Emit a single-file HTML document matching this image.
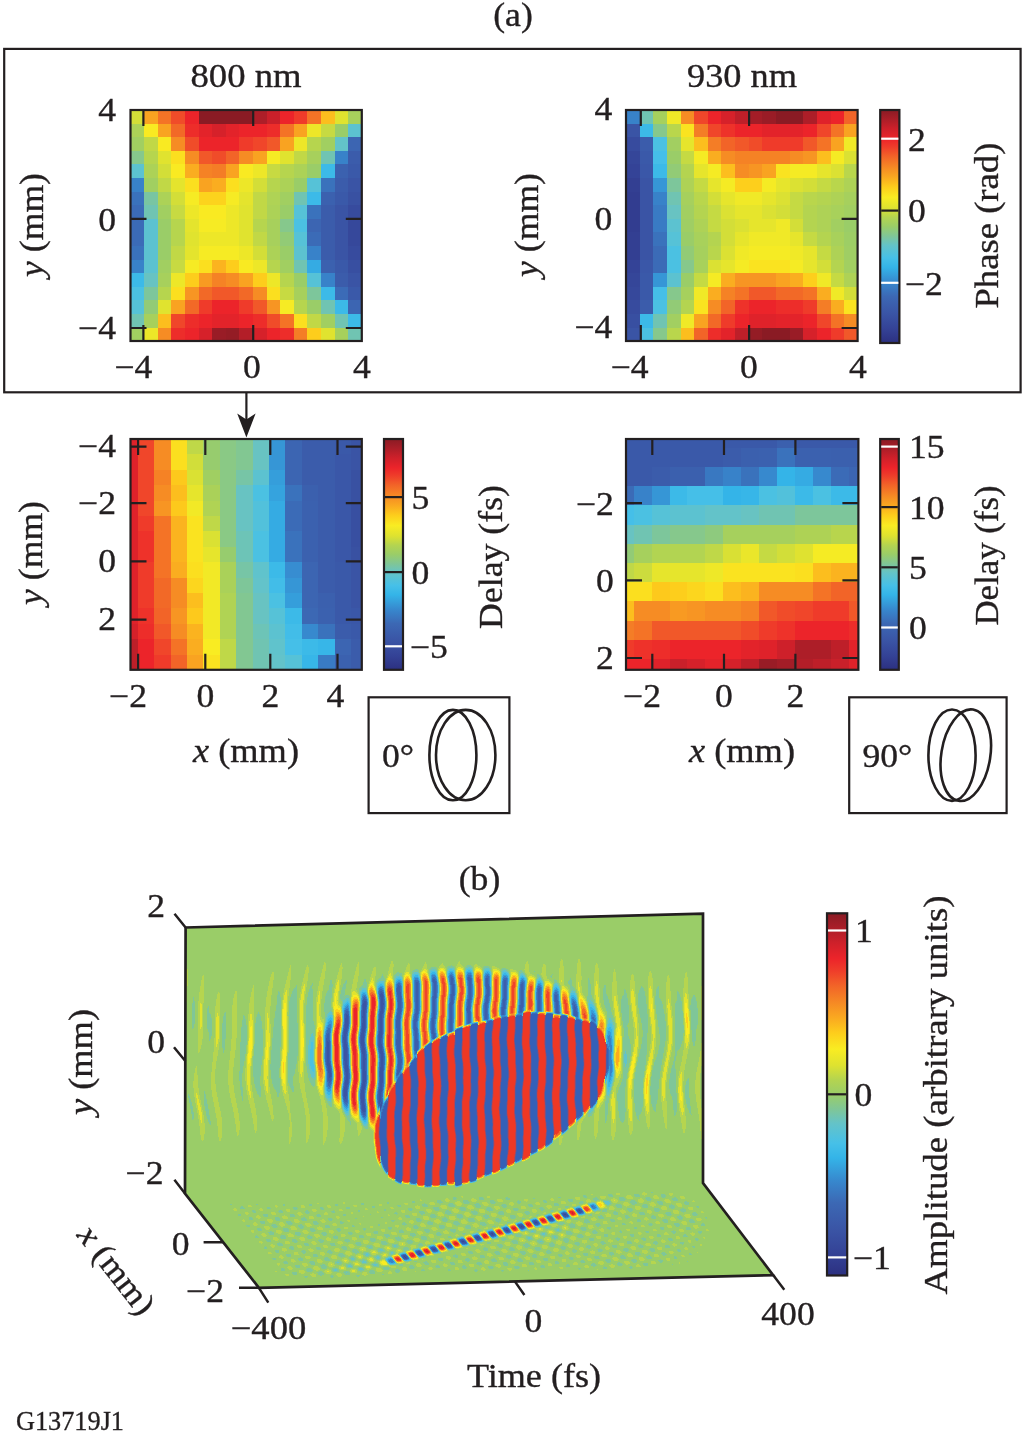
<!DOCTYPE html>
<html lang="en"><head><meta charset="utf-8"><title>Figure G13719J1</title>
<style>html,body{margin:0;padding:0;background:#fff}svg{display:block}text{font-family:"Liberation Serif",serif;fill:#231f20;stroke:#231f20;stroke-width:0.35px}.i{font-style:italic}</style></head><body>
<svg width="1025" height="1433" viewBox="0 0 1025 1433">
<rect width="1025" height="1433" fill="#fff"/>
<text transform="translate(513 25.5) scale(1.08 1)" font-size="33" text-anchor="middle">(a)</text>
<rect x="4.2" y="48.9" width="1016.4" height="343.40000000000003" fill="none" stroke="#231f20" stroke-width="2.2"/>
<clipPath id="c1"><rect x="130.5" y="110" width="231.3" height="231"/></clipPath>
<g clip-path="url(#c1)" shape-rendering="crispEdges">
<rect x="130.5" y="110.0" width="14.2" height="14.2" fill="#d3de38"/>
<rect x="144.1" y="110.0" width="14.2" height="14.2" fill="#f9a321"/>
<rect x="157.7" y="110.0" width="14.2" height="14.2" fill="#f47326"/>
<rect x="171.3" y="110.0" width="14.2" height="14.2" fill="#f04c29"/>
<rect x="184.9" y="110.0" width="14.2" height="14.2" fill="#ec242a"/>
<rect x="198.6" y="110.0" width="14.2" height="14.2" fill="#8a1b24"/>
<rect x="212.2" y="110.0" width="14.2" height="14.2" fill="#8a1b24"/>
<rect x="225.8" y="110.0" width="14.2" height="14.2" fill="#8a1b24"/>
<rect x="239.4" y="110.0" width="14.2" height="14.2" fill="#8a1b24"/>
<rect x="253.0" y="110.0" width="14.2" height="14.2" fill="#ad1e28"/>
<rect x="266.6" y="110.0" width="14.2" height="14.2" fill="#c9202a"/>
<rect x="280.2" y="110.0" width="14.2" height="14.2" fill="#ec242a"/>
<rect x="293.8" y="110.0" width="14.2" height="14.2" fill="#ef3b2a"/>
<rect x="307.4" y="110.0" width="14.2" height="14.2" fill="#f47326"/>
<rect x="321.0" y="110.0" width="14.2" height="14.2" fill="#fcbe1e"/>
<rect x="334.6" y="110.0" width="14.2" height="14.2" fill="#e0e32f"/>
<rect x="348.3" y="110.0" width="14.2" height="14.2" fill="#a7d05c"/>
<rect x="130.5" y="123.6" width="14.2" height="14.2" fill="#acd257"/>
<rect x="144.1" y="123.6" width="14.2" height="14.2" fill="#f9ea22"/>
<rect x="157.7" y="123.6" width="14.2" height="14.2" fill="#f9a321"/>
<rect x="171.3" y="123.6" width="14.2" height="14.2" fill="#f26927"/>
<rect x="184.9" y="123.6" width="14.2" height="14.2" fill="#ed2d2a"/>
<rect x="198.6" y="123.6" width="14.2" height="14.2" fill="#e3232a"/>
<rect x="212.2" y="123.6" width="14.2" height="14.2" fill="#d6212a"/>
<rect x="225.8" y="123.6" width="14.2" height="14.2" fill="#e3232a"/>
<rect x="239.4" y="123.6" width="14.2" height="14.2" fill="#ec242a"/>
<rect x="253.0" y="123.6" width="14.2" height="14.2" fill="#ec242a"/>
<rect x="266.6" y="123.6" width="14.2" height="14.2" fill="#ed2d2a"/>
<rect x="280.2" y="123.6" width="14.2" height="14.2" fill="#f47326"/>
<rect x="293.8" y="123.6" width="14.2" height="14.2" fill="#f9a321"/>
<rect x="307.4" y="123.6" width="14.2" height="14.2" fill="#ede728"/>
<rect x="321.0" y="123.6" width="14.2" height="14.2" fill="#c7da42"/>
<rect x="334.6" y="123.6" width="14.2" height="14.2" fill="#9acd68"/>
<rect x="348.3" y="123.6" width="14.2" height="14.2" fill="#5cc2d0"/>
<rect x="130.5" y="137.2" width="14.2" height="14.2" fill="#a1cf61"/>
<rect x="144.1" y="137.2" width="14.2" height="14.2" fill="#c1d846"/>
<rect x="157.7" y="137.2" width="14.2" height="14.2" fill="#f9ea22"/>
<rect x="171.3" y="137.2" width="14.2" height="14.2" fill="#f68c24"/>
<rect x="184.9" y="137.2" width="14.2" height="14.2" fill="#f04c29"/>
<rect x="198.6" y="137.2" width="14.2" height="14.2" fill="#ec242a"/>
<rect x="212.2" y="137.2" width="14.2" height="14.2" fill="#ec242a"/>
<rect x="225.8" y="137.2" width="14.2" height="14.2" fill="#ec242a"/>
<rect x="239.4" y="137.2" width="14.2" height="14.2" fill="#ef3b2a"/>
<rect x="253.0" y="137.2" width="14.2" height="14.2" fill="#f0462a"/>
<rect x="266.6" y="137.2" width="14.2" height="14.2" fill="#f15829"/>
<rect x="280.2" y="137.2" width="14.2" height="14.2" fill="#f9a321"/>
<rect x="293.8" y="137.2" width="14.2" height="14.2" fill="#ede728"/>
<rect x="307.4" y="137.2" width="14.2" height="14.2" fill="#b6d54e"/>
<rect x="321.0" y="137.2" width="14.2" height="14.2" fill="#a1cf61"/>
<rect x="334.6" y="137.2" width="14.2" height="14.2" fill="#63c3c9"/>
<rect x="348.3" y="137.2" width="14.2" height="14.2" fill="#3c65b2"/>
<rect x="130.5" y="150.8" width="14.2" height="14.2" fill="#86c88c"/>
<rect x="144.1" y="150.8" width="14.2" height="14.2" fill="#b6d54e"/>
<rect x="157.7" y="150.8" width="14.2" height="14.2" fill="#e0e32f"/>
<rect x="171.3" y="150.8" width="14.2" height="14.2" fill="#fbdf1f"/>
<rect x="184.9" y="150.8" width="14.2" height="14.2" fill="#f68c24"/>
<rect x="198.6" y="150.8" width="14.2" height="14.2" fill="#f15829"/>
<rect x="212.2" y="150.8" width="14.2" height="14.2" fill="#f04c29"/>
<rect x="225.8" y="150.8" width="14.2" height="14.2" fill="#f26428"/>
<rect x="239.4" y="150.8" width="14.2" height="14.2" fill="#f68c24"/>
<rect x="253.0" y="150.8" width="14.2" height="14.2" fill="#f9a321"/>
<rect x="266.6" y="150.8" width="14.2" height="14.2" fill="#f6eb24"/>
<rect x="280.2" y="150.8" width="14.2" height="14.2" fill="#e0e32f"/>
<rect x="293.8" y="150.8" width="14.2" height="14.2" fill="#c1d846"/>
<rect x="307.4" y="150.8" width="14.2" height="14.2" fill="#a7d05c"/>
<rect x="321.0" y="150.8" width="14.2" height="14.2" fill="#70c4b2"/>
<rect x="334.6" y="150.8" width="14.2" height="14.2" fill="#3882c9"/>
<rect x="348.3" y="150.8" width="14.2" height="14.2" fill="#3b5cab"/>
<rect x="130.5" y="164.4" width="14.2" height="14.2" fill="#5cc2d0"/>
<rect x="144.1" y="164.4" width="14.2" height="14.2" fill="#acd257"/>
<rect x="157.7" y="164.4" width="14.2" height="14.2" fill="#d3de38"/>
<rect x="171.3" y="164.4" width="14.2" height="14.2" fill="#f9ea22"/>
<rect x="184.9" y="164.4" width="14.2" height="14.2" fill="#faad20"/>
<rect x="198.6" y="164.4" width="14.2" height="14.2" fill="#f58225"/>
<rect x="212.2" y="164.4" width="14.2" height="14.2" fill="#f47d26"/>
<rect x="225.8" y="164.4" width="14.2" height="14.2" fill="#f9a321"/>
<rect x="239.4" y="164.4" width="14.2" height="14.2" fill="#f9ea22"/>
<rect x="253.0" y="164.4" width="14.2" height="14.2" fill="#ede728"/>
<rect x="266.6" y="164.4" width="14.2" height="14.2" fill="#c7da42"/>
<rect x="280.2" y="164.4" width="14.2" height="14.2" fill="#b6d54e"/>
<rect x="293.8" y="164.4" width="14.2" height="14.2" fill="#acd257"/>
<rect x="307.4" y="164.4" width="14.2" height="14.2" fill="#9acd68"/>
<rect x="321.0" y="164.4" width="14.2" height="14.2" fill="#3cbae8"/>
<rect x="334.6" y="164.4" width="14.2" height="14.2" fill="#3b61af"/>
<rect x="348.3" y="164.4" width="14.2" height="14.2" fill="#3a59a9"/>
<rect x="130.5" y="178.0" width="14.2" height="14.2" fill="#3882c9"/>
<rect x="144.1" y="178.0" width="14.2" height="14.2" fill="#a1cf61"/>
<rect x="157.7" y="178.0" width="14.2" height="14.2" fill="#c1d846"/>
<rect x="171.3" y="178.0" width="14.2" height="14.2" fill="#e4e42d"/>
<rect x="184.9" y="178.0" width="14.2" height="14.2" fill="#fbdf1f"/>
<rect x="198.6" y="178.0" width="14.2" height="14.2" fill="#f9a321"/>
<rect x="212.2" y="178.0" width="14.2" height="14.2" fill="#faad20"/>
<rect x="225.8" y="178.0" width="14.2" height="14.2" fill="#fbdf1f"/>
<rect x="239.4" y="178.0" width="14.2" height="14.2" fill="#ede728"/>
<rect x="253.0" y="178.0" width="14.2" height="14.2" fill="#d3de38"/>
<rect x="266.6" y="178.0" width="14.2" height="14.2" fill="#b6d54e"/>
<rect x="280.2" y="178.0" width="14.2" height="14.2" fill="#acd257"/>
<rect x="293.8" y="178.0" width="14.2" height="14.2" fill="#9acd68"/>
<rect x="307.4" y="178.0" width="14.2" height="14.2" fill="#56c2d7"/>
<rect x="321.0" y="178.0" width="14.2" height="14.2" fill="#3a72bc"/>
<rect x="334.6" y="178.0" width="14.2" height="14.2" fill="#3b5cab"/>
<rect x="348.3" y="178.0" width="14.2" height="14.2" fill="#3a54a5"/>
<rect x="130.5" y="191.6" width="14.2" height="14.2" fill="#3a72bc"/>
<rect x="144.1" y="191.6" width="14.2" height="14.2" fill="#79c5a2"/>
<rect x="157.7" y="191.6" width="14.2" height="14.2" fill="#acd257"/>
<rect x="171.3" y="191.6" width="14.2" height="14.2" fill="#d3de38"/>
<rect x="184.9" y="191.6" width="14.2" height="14.2" fill="#f6eb24"/>
<rect x="198.6" y="191.6" width="14.2" height="14.2" fill="#fcd31d"/>
<rect x="212.2" y="191.6" width="14.2" height="14.2" fill="#fcd31d"/>
<rect x="225.8" y="191.6" width="14.2" height="14.2" fill="#f6eb24"/>
<rect x="239.4" y="191.6" width="14.2" height="14.2" fill="#e4e42d"/>
<rect x="253.0" y="191.6" width="14.2" height="14.2" fill="#c1d846"/>
<rect x="266.6" y="191.6" width="14.2" height="14.2" fill="#afd355"/>
<rect x="280.2" y="191.6" width="14.2" height="14.2" fill="#a1cf61"/>
<rect x="293.8" y="191.6" width="14.2" height="14.2" fill="#70c4b2"/>
<rect x="307.4" y="191.6" width="14.2" height="14.2" fill="#3cbae8"/>
<rect x="321.0" y="191.6" width="14.2" height="14.2" fill="#3b61af"/>
<rect x="334.6" y="191.6" width="14.2" height="14.2" fill="#3a59a9"/>
<rect x="348.3" y="191.6" width="14.2" height="14.2" fill="#3951a2"/>
<rect x="130.5" y="205.2" width="14.2" height="14.2" fill="#3b6bb7"/>
<rect x="144.1" y="205.2" width="14.2" height="14.2" fill="#70c4b2"/>
<rect x="157.7" y="205.2" width="14.2" height="14.2" fill="#a1cf61"/>
<rect x="171.3" y="205.2" width="14.2" height="14.2" fill="#c7da42"/>
<rect x="184.9" y="205.2" width="14.2" height="14.2" fill="#ede728"/>
<rect x="198.6" y="205.2" width="14.2" height="14.2" fill="#f9ea22"/>
<rect x="212.2" y="205.2" width="14.2" height="14.2" fill="#f9ea22"/>
<rect x="225.8" y="205.2" width="14.2" height="14.2" fill="#ede728"/>
<rect x="239.4" y="205.2" width="14.2" height="14.2" fill="#e0e32f"/>
<rect x="253.0" y="205.2" width="14.2" height="14.2" fill="#c1d846"/>
<rect x="266.6" y="205.2" width="14.2" height="14.2" fill="#acd257"/>
<rect x="280.2" y="205.2" width="14.2" height="14.2" fill="#9acd68"/>
<rect x="293.8" y="205.2" width="14.2" height="14.2" fill="#56c2d7"/>
<rect x="307.4" y="205.2" width="14.2" height="14.2" fill="#3a72bc"/>
<rect x="321.0" y="205.2" width="14.2" height="14.2" fill="#3b5cab"/>
<rect x="334.6" y="205.2" width="14.2" height="14.2" fill="#3a54a5"/>
<rect x="348.3" y="205.2" width="14.2" height="14.2" fill="#374b9e"/>
<rect x="130.5" y="218.8" width="14.2" height="14.2" fill="#3b6bb7"/>
<rect x="144.1" y="218.8" width="14.2" height="14.2" fill="#5cc2d0"/>
<rect x="157.7" y="218.8" width="14.2" height="14.2" fill="#9acd68"/>
<rect x="171.3" y="218.8" width="14.2" height="14.2" fill="#b6d54e"/>
<rect x="184.9" y="218.8" width="14.2" height="14.2" fill="#e4e42d"/>
<rect x="198.6" y="218.8" width="14.2" height="14.2" fill="#f6eb24"/>
<rect x="212.2" y="218.8" width="14.2" height="14.2" fill="#f6eb24"/>
<rect x="225.8" y="218.8" width="14.2" height="14.2" fill="#ede728"/>
<rect x="239.4" y="218.8" width="14.2" height="14.2" fill="#e0e32f"/>
<rect x="253.0" y="218.8" width="14.2" height="14.2" fill="#b6d54e"/>
<rect x="266.6" y="218.8" width="14.2" height="14.2" fill="#a7d05c"/>
<rect x="280.2" y="218.8" width="14.2" height="14.2" fill="#86c88c"/>
<rect x="293.8" y="218.8" width="14.2" height="14.2" fill="#4bc1e2"/>
<rect x="307.4" y="218.8" width="14.2" height="14.2" fill="#3c65b2"/>
<rect x="321.0" y="218.8" width="14.2" height="14.2" fill="#3b5cab"/>
<rect x="334.6" y="218.8" width="14.2" height="14.2" fill="#3a54a5"/>
<rect x="348.3" y="218.8" width="14.2" height="14.2" fill="#36489b"/>
<rect x="130.5" y="232.4" width="14.2" height="14.2" fill="#3b6bb7"/>
<rect x="144.1" y="232.4" width="14.2" height="14.2" fill="#5cc2d0"/>
<rect x="157.7" y="232.4" width="14.2" height="14.2" fill="#9acd68"/>
<rect x="171.3" y="232.4" width="14.2" height="14.2" fill="#b6d54e"/>
<rect x="184.9" y="232.4" width="14.2" height="14.2" fill="#e0e32f"/>
<rect x="198.6" y="232.4" width="14.2" height="14.2" fill="#ede728"/>
<rect x="212.2" y="232.4" width="14.2" height="14.2" fill="#ede728"/>
<rect x="225.8" y="232.4" width="14.2" height="14.2" fill="#ede728"/>
<rect x="239.4" y="232.4" width="14.2" height="14.2" fill="#e0e32f"/>
<rect x="253.0" y="232.4" width="14.2" height="14.2" fill="#c1d846"/>
<rect x="266.6" y="232.4" width="14.2" height="14.2" fill="#a7d05c"/>
<rect x="280.2" y="232.4" width="14.2" height="14.2" fill="#92cb76"/>
<rect x="293.8" y="232.4" width="14.2" height="14.2" fill="#56c2d7"/>
<rect x="307.4" y="232.4" width="14.2" height="14.2" fill="#3b6bb7"/>
<rect x="321.0" y="232.4" width="14.2" height="14.2" fill="#3b5cab"/>
<rect x="334.6" y="232.4" width="14.2" height="14.2" fill="#3a54a5"/>
<rect x="348.3" y="232.4" width="14.2" height="14.2" fill="#36489b"/>
<rect x="130.5" y="246.0" width="14.2" height="14.2" fill="#3a72bc"/>
<rect x="144.1" y="246.0" width="14.2" height="14.2" fill="#5cc2d0"/>
<rect x="157.7" y="246.0" width="14.2" height="14.2" fill="#9acd68"/>
<rect x="171.3" y="246.0" width="14.2" height="14.2" fill="#c1d846"/>
<rect x="184.9" y="246.0" width="14.2" height="14.2" fill="#e4e42d"/>
<rect x="198.6" y="246.0" width="14.2" height="14.2" fill="#f6eb24"/>
<rect x="212.2" y="246.0" width="14.2" height="14.2" fill="#f6eb24"/>
<rect x="225.8" y="246.0" width="14.2" height="14.2" fill="#f6eb24"/>
<rect x="239.4" y="246.0" width="14.2" height="14.2" fill="#ede728"/>
<rect x="253.0" y="246.0" width="14.2" height="14.2" fill="#d3de38"/>
<rect x="266.6" y="246.0" width="14.2" height="14.2" fill="#acd257"/>
<rect x="280.2" y="246.0" width="14.2" height="14.2" fill="#9acd68"/>
<rect x="293.8" y="246.0" width="14.2" height="14.2" fill="#5cc2d0"/>
<rect x="307.4" y="246.0" width="14.2" height="14.2" fill="#3882c9"/>
<rect x="321.0" y="246.0" width="14.2" height="14.2" fill="#3b5cab"/>
<rect x="334.6" y="246.0" width="14.2" height="14.2" fill="#3a54a5"/>
<rect x="348.3" y="246.0" width="14.2" height="14.2" fill="#374b9e"/>
<rect x="130.5" y="259.6" width="14.2" height="14.2" fill="#3882c9"/>
<rect x="144.1" y="259.6" width="14.2" height="14.2" fill="#5cc2d0"/>
<rect x="157.7" y="259.6" width="14.2" height="14.2" fill="#a1cf61"/>
<rect x="171.3" y="259.6" width="14.2" height="14.2" fill="#c7da42"/>
<rect x="184.9" y="259.6" width="14.2" height="14.2" fill="#f6eb24"/>
<rect x="198.6" y="259.6" width="14.2" height="14.2" fill="#fbdf1f"/>
<rect x="212.2" y="259.6" width="14.2" height="14.2" fill="#fbb31f"/>
<rect x="225.8" y="259.6" width="14.2" height="14.2" fill="#fdcd1c"/>
<rect x="239.4" y="259.6" width="14.2" height="14.2" fill="#f9ea22"/>
<rect x="253.0" y="259.6" width="14.2" height="14.2" fill="#ede728"/>
<rect x="266.6" y="259.6" width="14.2" height="14.2" fill="#b6d54e"/>
<rect x="280.2" y="259.6" width="14.2" height="14.2" fill="#a1cf61"/>
<rect x="293.8" y="259.6" width="14.2" height="14.2" fill="#70c4b2"/>
<rect x="307.4" y="259.6" width="14.2" height="14.2" fill="#35abe3"/>
<rect x="321.0" y="259.6" width="14.2" height="14.2" fill="#3b61af"/>
<rect x="334.6" y="259.6" width="14.2" height="14.2" fill="#3a59a9"/>
<rect x="348.3" y="259.6" width="14.2" height="14.2" fill="#384fa1"/>
<rect x="130.5" y="273.2" width="14.2" height="14.2" fill="#3cbae8"/>
<rect x="144.1" y="273.2" width="14.2" height="14.2" fill="#68c3c2"/>
<rect x="157.7" y="273.2" width="14.2" height="14.2" fill="#a7d05c"/>
<rect x="171.3" y="273.2" width="14.2" height="14.2" fill="#ede728"/>
<rect x="184.9" y="273.2" width="14.2" height="14.2" fill="#fdcd1c"/>
<rect x="198.6" y="273.2" width="14.2" height="14.2" fill="#f89a22"/>
<rect x="212.2" y="273.2" width="14.2" height="14.2" fill="#f58225"/>
<rect x="225.8" y="273.2" width="14.2" height="14.2" fill="#f68c24"/>
<rect x="239.4" y="273.2" width="14.2" height="14.2" fill="#f9a321"/>
<rect x="253.0" y="273.2" width="14.2" height="14.2" fill="#fdcd1c"/>
<rect x="266.6" y="273.2" width="14.2" height="14.2" fill="#ede728"/>
<rect x="280.2" y="273.2" width="14.2" height="14.2" fill="#b6d54e"/>
<rect x="293.8" y="273.2" width="14.2" height="14.2" fill="#9acd68"/>
<rect x="307.4" y="273.2" width="14.2" height="14.2" fill="#56c2d7"/>
<rect x="321.0" y="273.2" width="14.2" height="14.2" fill="#3882c9"/>
<rect x="334.6" y="273.2" width="14.2" height="14.2" fill="#3b5cab"/>
<rect x="348.3" y="273.2" width="14.2" height="14.2" fill="#3a54a5"/>
<rect x="130.5" y="286.8" width="14.2" height="14.2" fill="#4bc1e2"/>
<rect x="144.1" y="286.8" width="14.2" height="14.2" fill="#7dc69b"/>
<rect x="157.7" y="286.8" width="14.2" height="14.2" fill="#b6d54e"/>
<rect x="171.3" y="286.8" width="14.2" height="14.2" fill="#fbdf1f"/>
<rect x="184.9" y="286.8" width="14.2" height="14.2" fill="#f79523"/>
<rect x="198.6" y="286.8" width="14.2" height="14.2" fill="#f26927"/>
<rect x="212.2" y="286.8" width="14.2" height="14.2" fill="#f15829"/>
<rect x="225.8" y="286.8" width="14.2" height="14.2" fill="#f15829"/>
<rect x="239.4" y="286.8" width="14.2" height="14.2" fill="#f26927"/>
<rect x="253.0" y="286.8" width="14.2" height="14.2" fill="#f68c24"/>
<rect x="266.6" y="286.8" width="14.2" height="14.2" fill="#fbdf1f"/>
<rect x="280.2" y="286.8" width="14.2" height="14.2" fill="#c7da42"/>
<rect x="293.8" y="286.8" width="14.2" height="14.2" fill="#a7d05c"/>
<rect x="307.4" y="286.8" width="14.2" height="14.2" fill="#7dc69b"/>
<rect x="321.0" y="286.8" width="14.2" height="14.2" fill="#3cbae8"/>
<rect x="334.6" y="286.8" width="14.2" height="14.2" fill="#3b6bb7"/>
<rect x="348.3" y="286.8" width="14.2" height="14.2" fill="#3a59a9"/>
<rect x="130.5" y="300.4" width="14.2" height="14.2" fill="#56c2d7"/>
<rect x="144.1" y="300.4" width="14.2" height="14.2" fill="#92cb76"/>
<rect x="157.7" y="300.4" width="14.2" height="14.2" fill="#e0e32f"/>
<rect x="171.3" y="300.4" width="14.2" height="14.2" fill="#f9a321"/>
<rect x="184.9" y="300.4" width="14.2" height="14.2" fill="#f26927"/>
<rect x="198.6" y="300.4" width="14.2" height="14.2" fill="#ef3b2a"/>
<rect x="212.2" y="300.4" width="14.2" height="14.2" fill="#ec242a"/>
<rect x="225.8" y="300.4" width="14.2" height="14.2" fill="#ec242a"/>
<rect x="239.4" y="300.4" width="14.2" height="14.2" fill="#ef3b2a"/>
<rect x="253.0" y="300.4" width="14.2" height="14.2" fill="#f15829"/>
<rect x="266.6" y="300.4" width="14.2" height="14.2" fill="#f79523"/>
<rect x="280.2" y="300.4" width="14.2" height="14.2" fill="#f6eb24"/>
<rect x="293.8" y="300.4" width="14.2" height="14.2" fill="#b6d54e"/>
<rect x="307.4" y="300.4" width="14.2" height="14.2" fill="#9acd68"/>
<rect x="321.0" y="300.4" width="14.2" height="14.2" fill="#70c4b2"/>
<rect x="334.6" y="300.4" width="14.2" height="14.2" fill="#3cbae8"/>
<rect x="348.3" y="300.4" width="14.2" height="14.2" fill="#3c65b2"/>
<rect x="130.5" y="314.0" width="14.2" height="14.2" fill="#70c4b2"/>
<rect x="144.1" y="314.0" width="14.2" height="14.2" fill="#a7d05c"/>
<rect x="157.7" y="314.0" width="14.2" height="14.2" fill="#fcbe1e"/>
<rect x="171.3" y="314.0" width="14.2" height="14.2" fill="#f0462a"/>
<rect x="184.9" y="314.0" width="14.2" height="14.2" fill="#ed2d2a"/>
<rect x="198.6" y="314.0" width="14.2" height="14.2" fill="#ec242a"/>
<rect x="212.2" y="314.0" width="14.2" height="14.2" fill="#e3232a"/>
<rect x="225.8" y="314.0" width="14.2" height="14.2" fill="#e3232a"/>
<rect x="239.4" y="314.0" width="14.2" height="14.2" fill="#ec242a"/>
<rect x="253.0" y="314.0" width="14.2" height="14.2" fill="#ed2d2a"/>
<rect x="266.6" y="314.0" width="14.2" height="14.2" fill="#f04c29"/>
<rect x="280.2" y="314.0" width="14.2" height="14.2" fill="#f47326"/>
<rect x="293.8" y="314.0" width="14.2" height="14.2" fill="#fbdf1f"/>
<rect x="307.4" y="314.0" width="14.2" height="14.2" fill="#c1d846"/>
<rect x="321.0" y="314.0" width="14.2" height="14.2" fill="#a1cf61"/>
<rect x="334.6" y="314.0" width="14.2" height="14.2" fill="#70c4b2"/>
<rect x="348.3" y="314.0" width="14.2" height="14.2" fill="#3cbae8"/>
<rect x="130.5" y="327.6" width="14.2" height="14.2" fill="#a1cf61"/>
<rect x="144.1" y="327.6" width="14.2" height="14.2" fill="#ede728"/>
<rect x="157.7" y="327.6" width="14.2" height="14.2" fill="#f68c24"/>
<rect x="171.3" y="327.6" width="14.2" height="14.2" fill="#ed2d2a"/>
<rect x="184.9" y="327.6" width="14.2" height="14.2" fill="#ec242a"/>
<rect x="198.6" y="327.6" width="14.2" height="14.2" fill="#d6212a"/>
<rect x="212.2" y="327.6" width="14.2" height="14.2" fill="#991c26"/>
<rect x="225.8" y="327.6" width="14.2" height="14.2" fill="#941c25"/>
<rect x="239.4" y="327.6" width="14.2" height="14.2" fill="#b31e28"/>
<rect x="253.0" y="327.6" width="14.2" height="14.2" fill="#d6212a"/>
<rect x="266.6" y="327.6" width="14.2" height="14.2" fill="#ec242a"/>
<rect x="280.2" y="327.6" width="14.2" height="14.2" fill="#ed2d2a"/>
<rect x="293.8" y="327.6" width="14.2" height="14.2" fill="#f47d26"/>
<rect x="307.4" y="327.6" width="14.2" height="14.2" fill="#fdcd1c"/>
<rect x="321.0" y="327.6" width="14.2" height="14.2" fill="#e0e32f"/>
<rect x="334.6" y="327.6" width="14.2" height="14.2" fill="#a7d05c"/>
<rect x="348.3" y="327.6" width="14.2" height="14.2" fill="#70c4b2"/>
</g>
<rect x="130.5" y="110" width="231.3" height="231" fill="none" stroke="#231f20" stroke-width="2.2"/>
<path d="M143.4 341v-16M143.4 110v16M253.2 341v-16M253.2 110v16M130.5 218.8h16M361.8 218.8h-16M130.5 328h16M361.8 328h-16" stroke="#231f20" stroke-width="2.2" fill="none"/>
<text transform="translate(246 87)" font-size="33" text-anchor="middle" textLength="111" lengthAdjust="spacingAndGlyphs">800 nm</text>
<text transform="translate(116 121.3) scale(1.08 1)" font-size="33" text-anchor="end">4</text>
<text transform="translate(116 230.8) scale(1.08 1)" font-size="33" text-anchor="end">0</text>
<text transform="translate(116 338.8) scale(1.08 1)" font-size="33" text-anchor="end">−4</text>
<text transform="translate(43 225) rotate(-90)" font-size="33" text-anchor="middle" textLength="104" lengthAdjust="spacingAndGlyphs"><tspan class="i">y</tspan> (mm)</text>
<text transform="translate(152.3 378.3) scale(1.08 1)" font-size="33" text-anchor="end">−4</text>
<text transform="translate(252 378.3) scale(1.08 1)" font-size="33" text-anchor="middle">0</text>
<text transform="translate(362 378.3) scale(1.08 1)" font-size="33" text-anchor="middle">4</text>
<clipPath id="c2"><rect x="626" y="110" width="231.60000000000002" height="231"/></clipPath>
<g clip-path="url(#c2)" shape-rendering="crispEdges">
<rect x="626.0" y="110.0" width="14.2" height="14.2" fill="#3882c9"/>
<rect x="639.6" y="110.0" width="14.2" height="14.2" fill="#70c4b2"/>
<rect x="653.3" y="110.0" width="14.2" height="14.2" fill="#a6d05d"/>
<rect x="666.9" y="110.0" width="14.2" height="14.2" fill="#f0e927"/>
<rect x="680.5" y="110.0" width="14.2" height="14.2" fill="#f68c24"/>
<rect x="694.1" y="110.0" width="14.2" height="14.2" fill="#f0462a"/>
<rect x="707.8" y="110.0" width="14.2" height="14.2" fill="#ec242a"/>
<rect x="721.4" y="110.0" width="14.2" height="14.2" fill="#d6212a"/>
<rect x="735.0" y="110.0" width="14.2" height="14.2" fill="#be1f29"/>
<rect x="748.7" y="110.0" width="14.2" height="14.2" fill="#a31d27"/>
<rect x="762.3" y="110.0" width="14.2" height="14.2" fill="#991c26"/>
<rect x="775.9" y="110.0" width="14.2" height="14.2" fill="#8a1b24"/>
<rect x="789.6" y="110.0" width="14.2" height="14.2" fill="#8a1b24"/>
<rect x="803.2" y="110.0" width="14.2" height="14.2" fill="#ad1e28"/>
<rect x="816.8" y="110.0" width="14.2" height="14.2" fill="#df222a"/>
<rect x="830.5" y="110.0" width="14.2" height="14.2" fill="#ec242a"/>
<rect x="844.1" y="110.0" width="14.2" height="14.2" fill="#f26428"/>
<rect x="626.0" y="123.6" width="14.2" height="14.2" fill="#3a54a5"/>
<rect x="639.6" y="123.6" width="14.2" height="14.2" fill="#3cbae8"/>
<rect x="653.3" y="123.6" width="14.2" height="14.2" fill="#86c88c"/>
<rect x="666.9" y="123.6" width="14.2" height="14.2" fill="#b9d64c"/>
<rect x="680.5" y="123.6" width="14.2" height="14.2" fill="#fae320"/>
<rect x="694.1" y="123.6" width="14.2" height="14.2" fill="#f47d26"/>
<rect x="707.8" y="123.6" width="14.2" height="14.2" fill="#f0462a"/>
<rect x="721.4" y="123.6" width="14.2" height="14.2" fill="#ee322a"/>
<rect x="735.0" y="123.6" width="14.2" height="14.2" fill="#ec242a"/>
<rect x="748.7" y="123.6" width="14.2" height="14.2" fill="#ec242a"/>
<rect x="762.3" y="123.6" width="14.2" height="14.2" fill="#e3232a"/>
<rect x="775.9" y="123.6" width="14.2" height="14.2" fill="#e3232a"/>
<rect x="789.6" y="123.6" width="14.2" height="14.2" fill="#e3232a"/>
<rect x="803.2" y="123.6" width="14.2" height="14.2" fill="#ec242a"/>
<rect x="816.8" y="123.6" width="14.2" height="14.2" fill="#f0462a"/>
<rect x="830.5" y="123.6" width="14.2" height="14.2" fill="#f47326"/>
<rect x="844.1" y="123.6" width="14.2" height="14.2" fill="#f9a321"/>
<rect x="626.0" y="137.2" width="14.2" height="14.2" fill="#374b9e"/>
<rect x="639.6" y="137.2" width="14.2" height="14.2" fill="#3b5cab"/>
<rect x="653.3" y="137.2" width="14.2" height="14.2" fill="#4bc1e2"/>
<rect x="666.9" y="137.2" width="14.2" height="14.2" fill="#a2cf61"/>
<rect x="680.5" y="137.2" width="14.2" height="14.2" fill="#e6e52c"/>
<rect x="694.1" y="137.2" width="14.2" height="14.2" fill="#fcbe1e"/>
<rect x="707.8" y="137.2" width="14.2" height="14.2" fill="#f47d26"/>
<rect x="721.4" y="137.2" width="14.2" height="14.2" fill="#f26428"/>
<rect x="735.0" y="137.2" width="14.2" height="14.2" fill="#f15829"/>
<rect x="748.7" y="137.2" width="14.2" height="14.2" fill="#f04c29"/>
<rect x="762.3" y="137.2" width="14.2" height="14.2" fill="#ef3b2a"/>
<rect x="775.9" y="137.2" width="14.2" height="14.2" fill="#ef3b2a"/>
<rect x="789.6" y="137.2" width="14.2" height="14.2" fill="#ef3b2a"/>
<rect x="803.2" y="137.2" width="14.2" height="14.2" fill="#f15829"/>
<rect x="816.8" y="137.2" width="14.2" height="14.2" fill="#f47326"/>
<rect x="830.5" y="137.2" width="14.2" height="14.2" fill="#f9a321"/>
<rect x="844.1" y="137.2" width="14.2" height="14.2" fill="#f0e927"/>
<rect x="626.0" y="150.8" width="14.2" height="14.2" fill="#354699"/>
<rect x="639.6" y="150.8" width="14.2" height="14.2" fill="#3a59a9"/>
<rect x="653.3" y="150.8" width="14.2" height="14.2" fill="#45bfe8"/>
<rect x="666.9" y="150.8" width="14.2" height="14.2" fill="#9acd68"/>
<rect x="680.5" y="150.8" width="14.2" height="14.2" fill="#c5da43"/>
<rect x="694.1" y="150.8" width="14.2" height="14.2" fill="#f5eb24"/>
<rect x="707.8" y="150.8" width="14.2" height="14.2" fill="#faad20"/>
<rect x="721.4" y="150.8" width="14.2" height="14.2" fill="#f68c24"/>
<rect x="735.0" y="150.8" width="14.2" height="14.2" fill="#f58225"/>
<rect x="748.7" y="150.8" width="14.2" height="14.2" fill="#f58225"/>
<rect x="762.3" y="150.8" width="14.2" height="14.2" fill="#f58225"/>
<rect x="775.9" y="150.8" width="14.2" height="14.2" fill="#f58225"/>
<rect x="789.6" y="150.8" width="14.2" height="14.2" fill="#f68c24"/>
<rect x="803.2" y="150.8" width="14.2" height="14.2" fill="#f79523"/>
<rect x="816.8" y="150.8" width="14.2" height="14.2" fill="#fcbe1e"/>
<rect x="830.5" y="150.8" width="14.2" height="14.2" fill="#f5eb24"/>
<rect x="844.1" y="150.8" width="14.2" height="14.2" fill="#dbe133"/>
<rect x="626.0" y="164.4" width="14.2" height="14.2" fill="#344397"/>
<rect x="639.6" y="164.4" width="14.2" height="14.2" fill="#3a57a8"/>
<rect x="653.3" y="164.4" width="14.2" height="14.2" fill="#3cbae8"/>
<rect x="666.9" y="164.4" width="14.2" height="14.2" fill="#92cb76"/>
<rect x="680.5" y="164.4" width="14.2" height="14.2" fill="#b4d450"/>
<rect x="694.1" y="164.4" width="14.2" height="14.2" fill="#e6e52c"/>
<rect x="707.8" y="164.4" width="14.2" height="14.2" fill="#f5eb24"/>
<rect x="721.4" y="164.4" width="14.2" height="14.2" fill="#fcbe1e"/>
<rect x="735.0" y="164.4" width="14.2" height="14.2" fill="#f68c24"/>
<rect x="748.7" y="164.4" width="14.2" height="14.2" fill="#f79523"/>
<rect x="762.3" y="164.4" width="14.2" height="14.2" fill="#f9a321"/>
<rect x="775.9" y="164.4" width="14.2" height="14.2" fill="#fae320"/>
<rect x="789.6" y="164.4" width="14.2" height="14.2" fill="#f5eb24"/>
<rect x="803.2" y="164.4" width="14.2" height="14.2" fill="#f5eb24"/>
<rect x="816.8" y="164.4" width="14.2" height="14.2" fill="#e6e52c"/>
<rect x="830.5" y="164.4" width="14.2" height="14.2" fill="#dbe133"/>
<rect x="844.1" y="164.4" width="14.2" height="14.2" fill="#b9d64c"/>
<rect x="626.0" y="178.0" width="14.2" height="14.2" fill="#333f92"/>
<rect x="639.6" y="178.0" width="14.2" height="14.2" fill="#3a54a5"/>
<rect x="653.3" y="178.0" width="14.2" height="14.2" fill="#3696d6"/>
<rect x="666.9" y="178.0" width="14.2" height="14.2" fill="#7dc69b"/>
<rect x="680.5" y="178.0" width="14.2" height="14.2" fill="#aed256"/>
<rect x="694.1" y="178.0" width="14.2" height="14.2" fill="#c5da43"/>
<rect x="707.8" y="178.0" width="14.2" height="14.2" fill="#e6e52c"/>
<rect x="721.4" y="178.0" width="14.2" height="14.2" fill="#f5eb24"/>
<rect x="735.0" y="178.0" width="14.2" height="14.2" fill="#fdcf1c"/>
<rect x="748.7" y="178.0" width="14.2" height="14.2" fill="#fdcf1c"/>
<rect x="762.3" y="178.0" width="14.2" height="14.2" fill="#f5eb24"/>
<rect x="775.9" y="178.0" width="14.2" height="14.2" fill="#e6e52c"/>
<rect x="789.6" y="178.0" width="14.2" height="14.2" fill="#dbe133"/>
<rect x="803.2" y="178.0" width="14.2" height="14.2" fill="#d3de38"/>
<rect x="816.8" y="178.0" width="14.2" height="14.2" fill="#c5da43"/>
<rect x="830.5" y="178.0" width="14.2" height="14.2" fill="#b9d64c"/>
<rect x="844.1" y="178.0" width="14.2" height="14.2" fill="#aed256"/>
<rect x="626.0" y="191.6" width="14.2" height="14.2" fill="#323d90"/>
<rect x="639.6" y="191.6" width="14.2" height="14.2" fill="#3a54a5"/>
<rect x="653.3" y="191.6" width="14.2" height="14.2" fill="#3882c9"/>
<rect x="666.9" y="191.6" width="14.2" height="14.2" fill="#70c4b2"/>
<rect x="680.5" y="191.6" width="14.2" height="14.2" fill="#a6d05d"/>
<rect x="694.1" y="191.6" width="14.2" height="14.2" fill="#b9d64c"/>
<rect x="707.8" y="191.6" width="14.2" height="14.2" fill="#d3de38"/>
<rect x="721.4" y="191.6" width="14.2" height="14.2" fill="#e6e52c"/>
<rect x="735.0" y="191.6" width="14.2" height="14.2" fill="#f0e927"/>
<rect x="748.7" y="191.6" width="14.2" height="14.2" fill="#f0e927"/>
<rect x="762.3" y="191.6" width="14.2" height="14.2" fill="#e6e52c"/>
<rect x="775.9" y="191.6" width="14.2" height="14.2" fill="#dbe133"/>
<rect x="789.6" y="191.6" width="14.2" height="14.2" fill="#c5da43"/>
<rect x="803.2" y="191.6" width="14.2" height="14.2" fill="#b9d64c"/>
<rect x="816.8" y="191.6" width="14.2" height="14.2" fill="#b4d450"/>
<rect x="830.5" y="191.6" width="14.2" height="14.2" fill="#aed256"/>
<rect x="844.1" y="191.6" width="14.2" height="14.2" fill="#a6d05d"/>
<rect x="626.0" y="205.2" width="14.2" height="14.2" fill="#323d90"/>
<rect x="639.6" y="205.2" width="14.2" height="14.2" fill="#3a54a5"/>
<rect x="653.3" y="205.2" width="14.2" height="14.2" fill="#397bc4"/>
<rect x="666.9" y="205.2" width="14.2" height="14.2" fill="#68c3c2"/>
<rect x="680.5" y="205.2" width="14.2" height="14.2" fill="#a2cf61"/>
<rect x="694.1" y="205.2" width="14.2" height="14.2" fill="#b4d450"/>
<rect x="707.8" y="205.2" width="14.2" height="14.2" fill="#c5da43"/>
<rect x="721.4" y="205.2" width="14.2" height="14.2" fill="#dbe133"/>
<rect x="735.0" y="205.2" width="14.2" height="14.2" fill="#e6e52c"/>
<rect x="748.7" y="205.2" width="14.2" height="14.2" fill="#e6e52c"/>
<rect x="762.3" y="205.2" width="14.2" height="14.2" fill="#dbe133"/>
<rect x="775.9" y="205.2" width="14.2" height="14.2" fill="#d3de38"/>
<rect x="789.6" y="205.2" width="14.2" height="14.2" fill="#c5da43"/>
<rect x="803.2" y="205.2" width="14.2" height="14.2" fill="#b4d450"/>
<rect x="816.8" y="205.2" width="14.2" height="14.2" fill="#aed256"/>
<rect x="830.5" y="205.2" width="14.2" height="14.2" fill="#a8d15b"/>
<rect x="844.1" y="205.2" width="14.2" height="14.2" fill="#a2cf61"/>
<rect x="626.0" y="218.8" width="14.2" height="14.2" fill="#323d90"/>
<rect x="639.6" y="218.8" width="14.2" height="14.2" fill="#3a54a5"/>
<rect x="653.3" y="218.8" width="14.2" height="14.2" fill="#397bc4"/>
<rect x="666.9" y="218.8" width="14.2" height="14.2" fill="#5cc2d0"/>
<rect x="680.5" y="218.8" width="14.2" height="14.2" fill="#9fce64"/>
<rect x="694.1" y="218.8" width="14.2" height="14.2" fill="#aed256"/>
<rect x="707.8" y="218.8" width="14.2" height="14.2" fill="#c5da43"/>
<rect x="721.4" y="218.8" width="14.2" height="14.2" fill="#d3de38"/>
<rect x="735.0" y="218.8" width="14.2" height="14.2" fill="#dbe133"/>
<rect x="748.7" y="218.8" width="14.2" height="14.2" fill="#e6e52c"/>
<rect x="762.3" y="218.8" width="14.2" height="14.2" fill="#e6e52c"/>
<rect x="775.9" y="218.8" width="14.2" height="14.2" fill="#f0e927"/>
<rect x="789.6" y="218.8" width="14.2" height="14.2" fill="#d3de38"/>
<rect x="803.2" y="218.8" width="14.2" height="14.2" fill="#b4d450"/>
<rect x="816.8" y="218.8" width="14.2" height="14.2" fill="#aed256"/>
<rect x="830.5" y="218.8" width="14.2" height="14.2" fill="#a2cf61"/>
<rect x="844.1" y="218.8" width="14.2" height="14.2" fill="#9acd68"/>
<rect x="626.0" y="232.4" width="14.2" height="14.2" fill="#333f92"/>
<rect x="639.6" y="232.4" width="14.2" height="14.2" fill="#3a54a5"/>
<rect x="653.3" y="232.4" width="14.2" height="14.2" fill="#3a72bc"/>
<rect x="666.9" y="232.4" width="14.2" height="14.2" fill="#56c2d7"/>
<rect x="680.5" y="232.4" width="14.2" height="14.2" fill="#9acd68"/>
<rect x="694.1" y="232.4" width="14.2" height="14.2" fill="#a8d15b"/>
<rect x="707.8" y="232.4" width="14.2" height="14.2" fill="#b4d450"/>
<rect x="721.4" y="232.4" width="14.2" height="14.2" fill="#d3de38"/>
<rect x="735.0" y="232.4" width="14.2" height="14.2" fill="#e6e52c"/>
<rect x="748.7" y="232.4" width="14.2" height="14.2" fill="#f0e927"/>
<rect x="762.3" y="232.4" width="14.2" height="14.2" fill="#f0e927"/>
<rect x="775.9" y="232.4" width="14.2" height="14.2" fill="#f0e927"/>
<rect x="789.6" y="232.4" width="14.2" height="14.2" fill="#e6e52c"/>
<rect x="803.2" y="232.4" width="14.2" height="14.2" fill="#c5da43"/>
<rect x="816.8" y="232.4" width="14.2" height="14.2" fill="#b4d450"/>
<rect x="830.5" y="232.4" width="14.2" height="14.2" fill="#a8d15b"/>
<rect x="844.1" y="232.4" width="14.2" height="14.2" fill="#9dce65"/>
<rect x="626.0" y="246.0" width="14.2" height="14.2" fill="#333f92"/>
<rect x="639.6" y="246.0" width="14.2" height="14.2" fill="#3a54a5"/>
<rect x="653.3" y="246.0" width="14.2" height="14.2" fill="#3b6bb7"/>
<rect x="666.9" y="246.0" width="14.2" height="14.2" fill="#4bc1e2"/>
<rect x="680.5" y="246.0" width="14.2" height="14.2" fill="#92cb76"/>
<rect x="694.1" y="246.0" width="14.2" height="14.2" fill="#a6d05d"/>
<rect x="707.8" y="246.0" width="14.2" height="14.2" fill="#b9d64c"/>
<rect x="721.4" y="246.0" width="14.2" height="14.2" fill="#dbe133"/>
<rect x="735.0" y="246.0" width="14.2" height="14.2" fill="#f0e927"/>
<rect x="748.7" y="246.0" width="14.2" height="14.2" fill="#f5eb24"/>
<rect x="762.3" y="246.0" width="14.2" height="14.2" fill="#f5eb24"/>
<rect x="775.9" y="246.0" width="14.2" height="14.2" fill="#f5eb24"/>
<rect x="789.6" y="246.0" width="14.2" height="14.2" fill="#f0e927"/>
<rect x="803.2" y="246.0" width="14.2" height="14.2" fill="#e6e52c"/>
<rect x="816.8" y="246.0" width="14.2" height="14.2" fill="#c5da43"/>
<rect x="830.5" y="246.0" width="14.2" height="14.2" fill="#aed256"/>
<rect x="844.1" y="246.0" width="14.2" height="14.2" fill="#9fce64"/>
<rect x="626.0" y="259.6" width="14.2" height="14.2" fill="#344397"/>
<rect x="639.6" y="259.6" width="14.2" height="14.2" fill="#3a57a8"/>
<rect x="653.3" y="259.6" width="14.2" height="14.2" fill="#3b6bb7"/>
<rect x="666.9" y="259.6" width="14.2" height="14.2" fill="#4bc1e2"/>
<rect x="680.5" y="259.6" width="14.2" height="14.2" fill="#86c88c"/>
<rect x="694.1" y="259.6" width="14.2" height="14.2" fill="#a8d15b"/>
<rect x="707.8" y="259.6" width="14.2" height="14.2" fill="#dbe133"/>
<rect x="721.4" y="259.6" width="14.2" height="14.2" fill="#e6e52c"/>
<rect x="735.0" y="259.6" width="14.2" height="14.2" fill="#f5eb24"/>
<rect x="748.7" y="259.6" width="14.2" height="14.2" fill="#fae320"/>
<rect x="762.3" y="259.6" width="14.2" height="14.2" fill="#fae320"/>
<rect x="775.9" y="259.6" width="14.2" height="14.2" fill="#fae320"/>
<rect x="789.6" y="259.6" width="14.2" height="14.2" fill="#f5eb24"/>
<rect x="803.2" y="259.6" width="14.2" height="14.2" fill="#e6e52c"/>
<rect x="816.8" y="259.6" width="14.2" height="14.2" fill="#d3de38"/>
<rect x="830.5" y="259.6" width="14.2" height="14.2" fill="#b4d450"/>
<rect x="844.1" y="259.6" width="14.2" height="14.2" fill="#a2cf61"/>
<rect x="626.0" y="273.2" width="14.2" height="14.2" fill="#354699"/>
<rect x="639.6" y="273.2" width="14.2" height="14.2" fill="#3a59a9"/>
<rect x="653.3" y="273.2" width="14.2" height="14.2" fill="#3696d6"/>
<rect x="666.9" y="273.2" width="14.2" height="14.2" fill="#5cc2d0"/>
<rect x="680.5" y="273.2" width="14.2" height="14.2" fill="#9acd68"/>
<rect x="694.1" y="273.2" width="14.2" height="14.2" fill="#c5da43"/>
<rect x="707.8" y="273.2" width="14.2" height="14.2" fill="#f5eb24"/>
<rect x="721.4" y="273.2" width="14.2" height="14.2" fill="#faad20"/>
<rect x="735.0" y="273.2" width="14.2" height="14.2" fill="#f79523"/>
<rect x="748.7" y="273.2" width="14.2" height="14.2" fill="#f79523"/>
<rect x="762.3" y="273.2" width="14.2" height="14.2" fill="#f79523"/>
<rect x="775.9" y="273.2" width="14.2" height="14.2" fill="#f9a321"/>
<rect x="789.6" y="273.2" width="14.2" height="14.2" fill="#faad20"/>
<rect x="803.2" y="273.2" width="14.2" height="14.2" fill="#fdcf1c"/>
<rect x="816.8" y="273.2" width="14.2" height="14.2" fill="#f0e927"/>
<rect x="830.5" y="273.2" width="14.2" height="14.2" fill="#c5da43"/>
<rect x="844.1" y="273.2" width="14.2" height="14.2" fill="#aed256"/>
<rect x="626.0" y="286.8" width="14.2" height="14.2" fill="#36489b"/>
<rect x="639.6" y="286.8" width="14.2" height="14.2" fill="#3a59a9"/>
<rect x="653.3" y="286.8" width="14.2" height="14.2" fill="#45bfe8"/>
<rect x="666.9" y="286.8" width="14.2" height="14.2" fill="#86c88c"/>
<rect x="680.5" y="286.8" width="14.2" height="14.2" fill="#a6d05d"/>
<rect x="694.1" y="286.8" width="14.2" height="14.2" fill="#f0e927"/>
<rect x="707.8" y="286.8" width="14.2" height="14.2" fill="#faad20"/>
<rect x="721.4" y="286.8" width="14.2" height="14.2" fill="#f58225"/>
<rect x="735.0" y="286.8" width="14.2" height="14.2" fill="#f47326"/>
<rect x="748.7" y="286.8" width="14.2" height="14.2" fill="#f15829"/>
<rect x="762.3" y="286.8" width="14.2" height="14.2" fill="#f15829"/>
<rect x="775.9" y="286.8" width="14.2" height="14.2" fill="#f26927"/>
<rect x="789.6" y="286.8" width="14.2" height="14.2" fill="#f26927"/>
<rect x="803.2" y="286.8" width="14.2" height="14.2" fill="#f47326"/>
<rect x="816.8" y="286.8" width="14.2" height="14.2" fill="#faad20"/>
<rect x="830.5" y="286.8" width="14.2" height="14.2" fill="#f0e927"/>
<rect x="844.1" y="286.8" width="14.2" height="14.2" fill="#d3de38"/>
<rect x="626.0" y="300.4" width="14.2" height="14.2" fill="#374b9e"/>
<rect x="639.6" y="300.4" width="14.2" height="14.2" fill="#3b5cab"/>
<rect x="653.3" y="300.4" width="14.2" height="14.2" fill="#4bc1e2"/>
<rect x="666.9" y="300.4" width="14.2" height="14.2" fill="#92cb76"/>
<rect x="680.5" y="300.4" width="14.2" height="14.2" fill="#b4d450"/>
<rect x="694.1" y="300.4" width="14.2" height="14.2" fill="#fae320"/>
<rect x="707.8" y="300.4" width="14.2" height="14.2" fill="#f68c24"/>
<rect x="721.4" y="300.4" width="14.2" height="14.2" fill="#f26428"/>
<rect x="735.0" y="300.4" width="14.2" height="14.2" fill="#ee322a"/>
<rect x="748.7" y="300.4" width="14.2" height="14.2" fill="#ec242a"/>
<rect x="762.3" y="300.4" width="14.2" height="14.2" fill="#ec242a"/>
<rect x="775.9" y="300.4" width="14.2" height="14.2" fill="#ed2d2a"/>
<rect x="789.6" y="300.4" width="14.2" height="14.2" fill="#ed2d2a"/>
<rect x="803.2" y="300.4" width="14.2" height="14.2" fill="#ef3b2a"/>
<rect x="816.8" y="300.4" width="14.2" height="14.2" fill="#f47d26"/>
<rect x="830.5" y="300.4" width="14.2" height="14.2" fill="#faad20"/>
<rect x="844.1" y="300.4" width="14.2" height="14.2" fill="#fae320"/>
<rect x="626.0" y="314.0" width="14.2" height="14.2" fill="#384fa1"/>
<rect x="639.6" y="314.0" width="14.2" height="14.2" fill="#3cbae8"/>
<rect x="653.3" y="314.0" width="14.2" height="14.2" fill="#70c4b2"/>
<rect x="666.9" y="314.0" width="14.2" height="14.2" fill="#a2cf61"/>
<rect x="680.5" y="314.0" width="14.2" height="14.2" fill="#f0e927"/>
<rect x="694.1" y="314.0" width="14.2" height="14.2" fill="#f9a321"/>
<rect x="707.8" y="314.0" width="14.2" height="14.2" fill="#f26927"/>
<rect x="721.4" y="314.0" width="14.2" height="14.2" fill="#ef3b2a"/>
<rect x="735.0" y="314.0" width="14.2" height="14.2" fill="#ec242a"/>
<rect x="748.7" y="314.0" width="14.2" height="14.2" fill="#df222a"/>
<rect x="762.3" y="314.0" width="14.2" height="14.2" fill="#df222a"/>
<rect x="775.9" y="314.0" width="14.2" height="14.2" fill="#e3232a"/>
<rect x="789.6" y="314.0" width="14.2" height="14.2" fill="#e3232a"/>
<rect x="803.2" y="314.0" width="14.2" height="14.2" fill="#ec242a"/>
<rect x="816.8" y="314.0" width="14.2" height="14.2" fill="#f0462a"/>
<rect x="830.5" y="314.0" width="14.2" height="14.2" fill="#f47326"/>
<rect x="844.1" y="314.0" width="14.2" height="14.2" fill="#f68c24"/>
<rect x="626.0" y="327.6" width="14.2" height="14.2" fill="#3a54a5"/>
<rect x="639.6" y="327.6" width="14.2" height="14.2" fill="#4bc1e2"/>
<rect x="653.3" y="327.6" width="14.2" height="14.2" fill="#86c88c"/>
<rect x="666.9" y="327.6" width="14.2" height="14.2" fill="#b9d64c"/>
<rect x="680.5" y="327.6" width="14.2" height="14.2" fill="#fcbe1e"/>
<rect x="694.1" y="327.6" width="14.2" height="14.2" fill="#f26428"/>
<rect x="707.8" y="327.6" width="14.2" height="14.2" fill="#ed2d2a"/>
<rect x="721.4" y="327.6" width="14.2" height="14.2" fill="#e3232a"/>
<rect x="735.0" y="327.6" width="14.2" height="14.2" fill="#be1f29"/>
<rect x="748.7" y="327.6" width="14.2" height="14.2" fill="#941c25"/>
<rect x="762.3" y="327.6" width="14.2" height="14.2" fill="#8a1b24"/>
<rect x="775.9" y="327.6" width="14.2" height="14.2" fill="#8a1b24"/>
<rect x="789.6" y="327.6" width="14.2" height="14.2" fill="#991c26"/>
<rect x="803.2" y="327.6" width="14.2" height="14.2" fill="#d6212a"/>
<rect x="816.8" y="327.6" width="14.2" height="14.2" fill="#ec242a"/>
<rect x="830.5" y="327.6" width="14.2" height="14.2" fill="#ef3b2a"/>
<rect x="844.1" y="327.6" width="14.2" height="14.2" fill="#f15829"/>
</g>
<rect x="626" y="110" width="231.60000000000002" height="231" fill="none" stroke="#231f20" stroke-width="2.2"/>
<path d="M640.8 341v-16M640.8 110v16M749.1 341v-16M749.1 110v16M857.6 218.8h-16M857.6 328h-16" stroke="#231f20" stroke-width="2.2" fill="none"/>
<text transform="translate(742 87)" font-size="33" text-anchor="middle" textLength="110" lengthAdjust="spacingAndGlyphs">930 nm</text>
<text transform="translate(612.3 120.3) scale(1.08 1)" font-size="33" text-anchor="end">4</text>
<text transform="translate(612.3 229.8) scale(1.08 1)" font-size="33" text-anchor="end">0</text>
<text transform="translate(612.3 338.3) scale(1.08 1)" font-size="33" text-anchor="end">−4</text>
<text transform="translate(538 225) rotate(-90)" font-size="33" text-anchor="middle" textLength="104" lengthAdjust="spacingAndGlyphs"><tspan class="i">y</tspan> (mm)</text>
<text transform="translate(648.6 378.3) scale(1.08 1)" font-size="33" text-anchor="end">−4</text>
<text transform="translate(749 378.3) scale(1.08 1)" font-size="33" text-anchor="middle">0</text>
<text transform="translate(858 378.3) scale(1.08 1)" font-size="33" text-anchor="middle">4</text>
<linearGradient id="g1" x1="0" y1="1" x2="0" y2="0">
<stop offset="0.000" stop-color="#2c3080"/>
<stop offset="0.060" stop-color="#344296"/>
<stop offset="0.125" stop-color="#3a54a5"/>
<stop offset="0.200" stop-color="#3c68b4"/>
<stop offset="0.260" stop-color="#3787cd"/>
<stop offset="0.325" stop-color="#34b4e8"/>
<stop offset="0.365" stop-color="#46c0e8"/>
<stop offset="0.420" stop-color="#64c3c8"/>
<stop offset="0.460" stop-color="#80c696"/>
<stop offset="0.500" stop-color="#9acd68"/>
<stop offset="0.540" stop-color="#b4d450"/>
<stop offset="0.580" stop-color="#dee230"/>
<stop offset="0.625" stop-color="#f9ec22"/>
<stop offset="0.670" stop-color="#fdcd1c"/>
<stop offset="0.710" stop-color="#faaa20"/>
<stop offset="0.750" stop-color="#f68c24"/>
<stop offset="0.800" stop-color="#f26428"/>
<stop offset="0.840" stop-color="#ef3e2a"/>
<stop offset="0.875" stop-color="#ec242a"/>
<stop offset="0.920" stop-color="#cd202a"/>
<stop offset="0.960" stop-color="#aa1e28"/>
<stop offset="1.000" stop-color="#8a1b24"/>
</linearGradient>
<rect x="880.2" y="110" width="19.199999999999932" height="233" fill="url(#g1)" stroke="#231f20" stroke-width="2.2"/>
<path d="M881.2 138.7H898.4" stroke="#fff" stroke-width="2.2"/>
<path d="M881.2 210.6H898.4" stroke="#231f20" stroke-width="2.2"/>
<path d="M881.2 282.8H898.4" stroke="#fff" stroke-width="2.2"/>
<text transform="translate(908 150.8) scale(1.08 1)" font-size="33">2</text>
<text transform="translate(908 221.8) scale(1.08 1)" font-size="33">0</text>
<text transform="translate(905 294.8) scale(1.08 1)" font-size="33">−2</text>
<text transform="translate(998 225.6) rotate(-90)" font-size="33" text-anchor="middle" textLength="166" lengthAdjust="spacingAndGlyphs">Phase (rad)</text>
<path d="M246.4 392V424" stroke="#231f20" stroke-width="2.2"/>
<path d="M246.4 437.6L237.2 413.5L246.4 419.5L255.6 413.5Z" fill="#231f20"/>
<clipPath id="c3"><rect x="130.5" y="439" width="231.3" height="230.79999999999995"/></clipPath>
<g clip-path="url(#c3)" shape-rendering="crispEdges">
<rect x="121.3" y="439.0" width="17.0" height="16.0" fill="#df222a"/>
<rect x="137.7" y="439.0" width="17.0" height="16.0" fill="#f0462a"/>
<rect x="154.1" y="439.0" width="17.0" height="16.0" fill="#f68c24"/>
<rect x="170.5" y="439.0" width="17.0" height="16.0" fill="#fbdf1f"/>
<rect x="186.9" y="439.0" width="17.0" height="16.0" fill="#bfd848"/>
<rect x="203.3" y="439.0" width="17.0" height="16.0" fill="#97cc6e"/>
<rect x="219.7" y="439.0" width="17.0" height="16.0" fill="#8ac985"/>
<rect x="236.1" y="439.0" width="17.0" height="16.0" fill="#82c792"/>
<rect x="252.5" y="439.0" width="17.0" height="16.0" fill="#68c3c2"/>
<rect x="268.9" y="439.0" width="17.0" height="16.0" fill="#3696d6"/>
<rect x="285.3" y="439.0" width="17.0" height="16.0" fill="#3c65b2"/>
<rect x="301.7" y="439.0" width="17.0" height="16.0" fill="#3b5cab"/>
<rect x="318.1" y="439.0" width="17.0" height="16.0" fill="#3b5cab"/>
<rect x="334.5" y="439.0" width="17.0" height="16.0" fill="#3a59a9"/>
<rect x="350.9" y="439.0" width="17.0" height="16.0" fill="#3a54a5"/>
<rect x="121.3" y="454.4" width="17.0" height="16.0" fill="#df222a"/>
<rect x="137.7" y="454.4" width="17.0" height="16.0" fill="#f0462a"/>
<rect x="154.1" y="454.4" width="17.0" height="16.0" fill="#f68c24"/>
<rect x="170.5" y="454.4" width="17.0" height="16.0" fill="#fbdf1f"/>
<rect x="186.9" y="454.4" width="17.0" height="16.0" fill="#d1de3a"/>
<rect x="203.3" y="454.4" width="17.0" height="16.0" fill="#97cc6e"/>
<rect x="219.7" y="454.4" width="17.0" height="16.0" fill="#8ac985"/>
<rect x="236.1" y="454.4" width="17.0" height="16.0" fill="#82c792"/>
<rect x="252.5" y="454.4" width="17.0" height="16.0" fill="#68c3c2"/>
<rect x="268.9" y="454.4" width="17.0" height="16.0" fill="#3696d6"/>
<rect x="285.3" y="454.4" width="17.0" height="16.0" fill="#3c65b2"/>
<rect x="301.7" y="454.4" width="17.0" height="16.0" fill="#3b5cab"/>
<rect x="318.1" y="454.4" width="17.0" height="16.0" fill="#3b5cab"/>
<rect x="334.5" y="454.4" width="17.0" height="16.0" fill="#3a57a8"/>
<rect x="350.9" y="454.4" width="17.0" height="16.0" fill="#3a54a5"/>
<rect x="121.3" y="469.8" width="17.0" height="16.0" fill="#df222a"/>
<rect x="137.7" y="469.8" width="17.0" height="16.0" fill="#f0462a"/>
<rect x="154.1" y="469.8" width="17.0" height="16.0" fill="#f58225"/>
<rect x="170.5" y="469.8" width="17.0" height="16.0" fill="#fdc91c"/>
<rect x="186.9" y="469.8" width="17.0" height="16.0" fill="#dae133"/>
<rect x="203.3" y="469.8" width="17.0" height="16.0" fill="#a0cf62"/>
<rect x="219.7" y="469.8" width="17.0" height="16.0" fill="#8ac985"/>
<rect x="236.1" y="469.8" width="17.0" height="16.0" fill="#77c5a6"/>
<rect x="252.5" y="469.8" width="17.0" height="16.0" fill="#5cc2d0"/>
<rect x="268.9" y="469.8" width="17.0" height="16.0" fill="#359edb"/>
<rect x="285.3" y="469.8" width="17.0" height="16.0" fill="#3c65b2"/>
<rect x="301.7" y="469.8" width="17.0" height="16.0" fill="#3b5cab"/>
<rect x="318.1" y="469.8" width="17.0" height="16.0" fill="#3b5cab"/>
<rect x="334.5" y="469.8" width="17.0" height="16.0" fill="#3a57a8"/>
<rect x="350.9" y="469.8" width="17.0" height="16.0" fill="#3951a2"/>
<rect x="121.3" y="485.2" width="17.0" height="16.0" fill="#df222a"/>
<rect x="137.7" y="485.2" width="17.0" height="16.0" fill="#f0462a"/>
<rect x="154.1" y="485.2" width="17.0" height="16.0" fill="#f68c24"/>
<rect x="170.5" y="485.2" width="17.0" height="16.0" fill="#fcbe1e"/>
<rect x="186.9" y="485.2" width="17.0" height="16.0" fill="#e6e52c"/>
<rect x="203.3" y="485.2" width="17.0" height="16.0" fill="#aad159"/>
<rect x="219.7" y="485.2" width="17.0" height="16.0" fill="#8ac985"/>
<rect x="236.1" y="485.2" width="17.0" height="16.0" fill="#68c3c2"/>
<rect x="252.5" y="485.2" width="17.0" height="16.0" fill="#4bc1e2"/>
<rect x="268.9" y="485.2" width="17.0" height="16.0" fill="#35a3de"/>
<rect x="285.3" y="485.2" width="17.0" height="16.0" fill="#3a72bc"/>
<rect x="301.7" y="485.2" width="17.0" height="16.0" fill="#3b60ae"/>
<rect x="318.1" y="485.2" width="17.0" height="16.0" fill="#3b5cab"/>
<rect x="334.5" y="485.2" width="17.0" height="16.0" fill="#3a57a8"/>
<rect x="350.9" y="485.2" width="17.0" height="16.0" fill="#3951a2"/>
<rect x="121.3" y="500.6" width="17.0" height="16.0" fill="#df222a"/>
<rect x="137.7" y="500.6" width="17.0" height="16.0" fill="#f0462a"/>
<rect x="154.1" y="500.6" width="17.0" height="16.0" fill="#f79523"/>
<rect x="170.5" y="500.6" width="17.0" height="16.0" fill="#fdc91c"/>
<rect x="186.9" y="500.6" width="17.0" height="16.0" fill="#f2e926"/>
<rect x="203.3" y="500.6" width="17.0" height="16.0" fill="#b0d354"/>
<rect x="219.7" y="500.6" width="17.0" height="16.0" fill="#8ac985"/>
<rect x="236.1" y="500.6" width="17.0" height="16.0" fill="#68c3c2"/>
<rect x="252.5" y="500.6" width="17.0" height="16.0" fill="#52c1db"/>
<rect x="268.9" y="500.6" width="17.0" height="16.0" fill="#35abe3"/>
<rect x="285.3" y="500.6" width="17.0" height="16.0" fill="#3b6bb7"/>
<rect x="301.7" y="500.6" width="17.0" height="16.0" fill="#3b61af"/>
<rect x="318.1" y="500.6" width="17.0" height="16.0" fill="#3b5cab"/>
<rect x="334.5" y="500.6" width="17.0" height="16.0" fill="#3a57a8"/>
<rect x="350.9" y="500.6" width="17.0" height="16.0" fill="#384fa1"/>
<rect x="121.3" y="516.0" width="17.0" height="16.0" fill="#df222a"/>
<rect x="137.7" y="516.0" width="17.0" height="16.0" fill="#ef3b2a"/>
<rect x="154.1" y="516.0" width="17.0" height="16.0" fill="#f47326"/>
<rect x="170.5" y="516.0" width="17.0" height="16.0" fill="#fbb31f"/>
<rect x="186.9" y="516.0" width="17.0" height="16.0" fill="#fae320"/>
<rect x="203.3" y="516.0" width="17.0" height="16.0" fill="#bfd848"/>
<rect x="219.7" y="516.0" width="17.0" height="16.0" fill="#8ac985"/>
<rect x="236.1" y="516.0" width="17.0" height="16.0" fill="#68c3c2"/>
<rect x="252.5" y="516.0" width="17.0" height="16.0" fill="#52c1db"/>
<rect x="268.9" y="516.0" width="17.0" height="16.0" fill="#35abe3"/>
<rect x="285.3" y="516.0" width="17.0" height="16.0" fill="#3b6bb7"/>
<rect x="301.7" y="516.0" width="17.0" height="16.0" fill="#3b61af"/>
<rect x="318.1" y="516.0" width="17.0" height="16.0" fill="#3b5cab"/>
<rect x="334.5" y="516.0" width="17.0" height="16.0" fill="#3a57a8"/>
<rect x="350.9" y="516.0" width="17.0" height="16.0" fill="#384fa1"/>
<rect x="121.3" y="531.4" width="17.0" height="16.0" fill="#df222a"/>
<rect x="137.7" y="531.4" width="17.0" height="16.0" fill="#ee322a"/>
<rect x="154.1" y="531.4" width="17.0" height="16.0" fill="#f47326"/>
<rect x="170.5" y="531.4" width="17.0" height="16.0" fill="#fbb31f"/>
<rect x="186.9" y="531.4" width="17.0" height="16.0" fill="#fae320"/>
<rect x="203.3" y="531.4" width="17.0" height="16.0" fill="#dae133"/>
<rect x="219.7" y="531.4" width="17.0" height="16.0" fill="#8ac985"/>
<rect x="236.1" y="531.4" width="17.0" height="16.0" fill="#6dc4b7"/>
<rect x="252.5" y="531.4" width="17.0" height="16.0" fill="#4bc1e2"/>
<rect x="268.9" y="531.4" width="17.0" height="16.0" fill="#35abe3"/>
<rect x="285.3" y="531.4" width="17.0" height="16.0" fill="#3a72bc"/>
<rect x="301.7" y="531.4" width="17.0" height="16.0" fill="#3b61af"/>
<rect x="318.1" y="531.4" width="17.0" height="16.0" fill="#3b5cab"/>
<rect x="334.5" y="531.4" width="17.0" height="16.0" fill="#3a57a8"/>
<rect x="350.9" y="531.4" width="17.0" height="16.0" fill="#384fa1"/>
<rect x="121.3" y="546.8" width="17.0" height="16.0" fill="#df222a"/>
<rect x="137.7" y="546.8" width="17.0" height="16.0" fill="#ee322a"/>
<rect x="154.1" y="546.8" width="17.0" height="16.0" fill="#f47326"/>
<rect x="170.5" y="546.8" width="17.0" height="16.0" fill="#fbb31f"/>
<rect x="186.9" y="546.8" width="17.0" height="16.0" fill="#fae320"/>
<rect x="203.3" y="546.8" width="17.0" height="16.0" fill="#e6e52c"/>
<rect x="219.7" y="546.8" width="17.0" height="16.0" fill="#97cc6e"/>
<rect x="236.1" y="546.8" width="17.0" height="16.0" fill="#6dc4b7"/>
<rect x="252.5" y="546.8" width="17.0" height="16.0" fill="#4bc1e2"/>
<rect x="268.9" y="546.8" width="17.0" height="16.0" fill="#35abe3"/>
<rect x="285.3" y="546.8" width="17.0" height="16.0" fill="#3a72bc"/>
<rect x="301.7" y="546.8" width="17.0" height="16.0" fill="#3b61af"/>
<rect x="318.1" y="546.8" width="17.0" height="16.0" fill="#3b5cab"/>
<rect x="334.5" y="546.8" width="17.0" height="16.0" fill="#3a57a8"/>
<rect x="350.9" y="546.8" width="17.0" height="16.0" fill="#3951a2"/>
<rect x="121.3" y="562.2" width="17.0" height="16.0" fill="#df222a"/>
<rect x="137.7" y="562.2" width="17.0" height="16.0" fill="#ef3b2a"/>
<rect x="154.1" y="562.2" width="17.0" height="16.0" fill="#f47326"/>
<rect x="170.5" y="562.2" width="17.0" height="16.0" fill="#faad20"/>
<rect x="186.9" y="562.2" width="17.0" height="16.0" fill="#fbdf1f"/>
<rect x="203.3" y="562.2" width="17.0" height="16.0" fill="#f2e926"/>
<rect x="219.7" y="562.2" width="17.0" height="16.0" fill="#aad159"/>
<rect x="236.1" y="562.2" width="17.0" height="16.0" fill="#77c5a6"/>
<rect x="252.5" y="562.2" width="17.0" height="16.0" fill="#60c3cc"/>
<rect x="268.9" y="562.2" width="17.0" height="16.0" fill="#3cbae8"/>
<rect x="285.3" y="562.2" width="17.0" height="16.0" fill="#378dd1"/>
<rect x="301.7" y="562.2" width="17.0" height="16.0" fill="#3c65b2"/>
<rect x="318.1" y="562.2" width="17.0" height="16.0" fill="#3b5cab"/>
<rect x="334.5" y="562.2" width="17.0" height="16.0" fill="#3a59a9"/>
<rect x="350.9" y="562.2" width="17.0" height="16.0" fill="#3a54a5"/>
<rect x="121.3" y="577.6" width="17.0" height="16.0" fill="#df222a"/>
<rect x="137.7" y="577.6" width="17.0" height="16.0" fill="#ef3b2a"/>
<rect x="154.1" y="577.6" width="17.0" height="16.0" fill="#f26927"/>
<rect x="170.5" y="577.6" width="17.0" height="16.0" fill="#f68c24"/>
<rect x="186.9" y="577.6" width="17.0" height="16.0" fill="#fcd61e"/>
<rect x="203.3" y="577.6" width="17.0" height="16.0" fill="#f2e926"/>
<rect x="219.7" y="577.6" width="17.0" height="16.0" fill="#aad159"/>
<rect x="236.1" y="577.6" width="17.0" height="16.0" fill="#7ec699"/>
<rect x="252.5" y="577.6" width="17.0" height="16.0" fill="#63c3ca"/>
<rect x="268.9" y="577.6" width="17.0" height="16.0" fill="#42bde8"/>
<rect x="285.3" y="577.6" width="17.0" height="16.0" fill="#3696d6"/>
<rect x="301.7" y="577.6" width="17.0" height="16.0" fill="#3c65b2"/>
<rect x="318.1" y="577.6" width="17.0" height="16.0" fill="#3b5cab"/>
<rect x="334.5" y="577.6" width="17.0" height="16.0" fill="#3a59a9"/>
<rect x="350.9" y="577.6" width="17.0" height="16.0" fill="#3a54a5"/>
<rect x="121.3" y="593.0" width="17.0" height="16.0" fill="#df222a"/>
<rect x="137.7" y="593.0" width="17.0" height="16.0" fill="#ef3b2a"/>
<rect x="154.1" y="593.0" width="17.0" height="16.0" fill="#f26927"/>
<rect x="170.5" y="593.0" width="17.0" height="16.0" fill="#f68c24"/>
<rect x="186.9" y="593.0" width="17.0" height="16.0" fill="#fcbe1e"/>
<rect x="203.3" y="593.0" width="17.0" height="16.0" fill="#f2e926"/>
<rect x="219.7" y="593.0" width="17.0" height="16.0" fill="#b0d354"/>
<rect x="236.1" y="593.0" width="17.0" height="16.0" fill="#82c792"/>
<rect x="252.5" y="593.0" width="17.0" height="16.0" fill="#68c3c2"/>
<rect x="268.9" y="593.0" width="17.0" height="16.0" fill="#4bc1e2"/>
<rect x="285.3" y="593.0" width="17.0" height="16.0" fill="#359edb"/>
<rect x="301.7" y="593.0" width="17.0" height="16.0" fill="#3c65b2"/>
<rect x="318.1" y="593.0" width="17.0" height="16.0" fill="#3b60ae"/>
<rect x="334.5" y="593.0" width="17.0" height="16.0" fill="#3a59a9"/>
<rect x="350.9" y="593.0" width="17.0" height="16.0" fill="#3a54a5"/>
<rect x="121.3" y="608.4" width="17.0" height="16.0" fill="#df222a"/>
<rect x="137.7" y="608.4" width="17.0" height="16.0" fill="#ee322a"/>
<rect x="154.1" y="608.4" width="17.0" height="16.0" fill="#f26428"/>
<rect x="170.5" y="608.4" width="17.0" height="16.0" fill="#f79523"/>
<rect x="186.9" y="608.4" width="17.0" height="16.0" fill="#fdc91c"/>
<rect x="203.3" y="608.4" width="17.0" height="16.0" fill="#f2e926"/>
<rect x="219.7" y="608.4" width="17.0" height="16.0" fill="#b0d354"/>
<rect x="236.1" y="608.4" width="17.0" height="16.0" fill="#82c792"/>
<rect x="252.5" y="608.4" width="17.0" height="16.0" fill="#68c3c2"/>
<rect x="268.9" y="608.4" width="17.0" height="16.0" fill="#56c2d7"/>
<rect x="285.3" y="608.4" width="17.0" height="16.0" fill="#3cbae8"/>
<rect x="301.7" y="608.4" width="17.0" height="16.0" fill="#3c68b4"/>
<rect x="318.1" y="608.4" width="17.0" height="16.0" fill="#3b61af"/>
<rect x="334.5" y="608.4" width="17.0" height="16.0" fill="#3a59a9"/>
<rect x="350.9" y="608.4" width="17.0" height="16.0" fill="#3a57a8"/>
<rect x="121.3" y="623.8" width="17.0" height="16.0" fill="#d6212a"/>
<rect x="137.7" y="623.8" width="17.0" height="16.0" fill="#ed2d2a"/>
<rect x="154.1" y="623.8" width="17.0" height="16.0" fill="#f15829"/>
<rect x="170.5" y="623.8" width="17.0" height="16.0" fill="#f68c24"/>
<rect x="186.9" y="623.8" width="17.0" height="16.0" fill="#fbb31f"/>
<rect x="203.3" y="623.8" width="17.0" height="16.0" fill="#f2e926"/>
<rect x="219.7" y="623.8" width="17.0" height="16.0" fill="#b0d354"/>
<rect x="236.1" y="623.8" width="17.0" height="16.0" fill="#82c792"/>
<rect x="252.5" y="623.8" width="17.0" height="16.0" fill="#6dc4b7"/>
<rect x="268.9" y="623.8" width="17.0" height="16.0" fill="#5cc2d0"/>
<rect x="285.3" y="623.8" width="17.0" height="16.0" fill="#42bde8"/>
<rect x="301.7" y="623.8" width="17.0" height="16.0" fill="#3789ce"/>
<rect x="318.1" y="623.8" width="17.0" height="16.0" fill="#3a72bc"/>
<rect x="334.5" y="623.8" width="17.0" height="16.0" fill="#3b5cab"/>
<rect x="350.9" y="623.8" width="17.0" height="16.0" fill="#3a59a9"/>
<rect x="121.3" y="639.2" width="17.0" height="16.0" fill="#be1f29"/>
<rect x="137.7" y="639.2" width="17.0" height="16.0" fill="#ec242a"/>
<rect x="154.1" y="639.2" width="17.0" height="16.0" fill="#f0462a"/>
<rect x="170.5" y="639.2" width="17.0" height="16.0" fill="#f47326"/>
<rect x="186.9" y="639.2" width="17.0" height="16.0" fill="#faad20"/>
<rect x="203.3" y="639.2" width="17.0" height="16.0" fill="#f9ec22"/>
<rect x="219.7" y="639.2" width="17.0" height="16.0" fill="#bfd848"/>
<rect x="236.1" y="639.2" width="17.0" height="16.0" fill="#82c792"/>
<rect x="252.5" y="639.2" width="17.0" height="16.0" fill="#70c4b2"/>
<rect x="268.9" y="639.2" width="17.0" height="16.0" fill="#60c3cc"/>
<rect x="285.3" y="639.2" width="17.0" height="16.0" fill="#45bfe8"/>
<rect x="301.7" y="639.2" width="17.0" height="16.0" fill="#3cbae8"/>
<rect x="318.1" y="639.2" width="17.0" height="16.0" fill="#37b6e8"/>
<rect x="334.5" y="639.2" width="17.0" height="16.0" fill="#3c65b2"/>
<rect x="350.9" y="639.2" width="17.0" height="16.0" fill="#3b5cab"/>
<rect x="121.3" y="654.6" width="17.0" height="16.0" fill="#be1f29"/>
<rect x="137.7" y="654.6" width="17.0" height="16.0" fill="#ec242a"/>
<rect x="154.1" y="654.6" width="17.0" height="16.0" fill="#ef3b2a"/>
<rect x="170.5" y="654.6" width="17.0" height="16.0" fill="#f26428"/>
<rect x="186.9" y="654.6" width="17.0" height="16.0" fill="#f9a321"/>
<rect x="203.3" y="654.6" width="17.0" height="16.0" fill="#fae320"/>
<rect x="219.7" y="654.6" width="17.0" height="16.0" fill="#bfd848"/>
<rect x="236.1" y="654.6" width="17.0" height="16.0" fill="#82c792"/>
<rect x="252.5" y="654.6" width="17.0" height="16.0" fill="#70c4b2"/>
<rect x="268.9" y="654.6" width="17.0" height="16.0" fill="#63c3ca"/>
<rect x="285.3" y="654.6" width="17.0" height="16.0" fill="#56c2d7"/>
<rect x="301.7" y="654.6" width="17.0" height="16.0" fill="#37b6e8"/>
<rect x="318.1" y="654.6" width="17.0" height="16.0" fill="#397bc4"/>
<rect x="334.5" y="654.6" width="17.0" height="16.0" fill="#3b61af"/>
<rect x="350.9" y="654.6" width="17.0" height="16.0" fill="#3b5cab"/>
</g>
<rect x="130.5" y="439" width="231.3" height="230.79999999999995" fill="none" stroke="#231f20" stroke-width="2.2"/>
<path d="M138.1 669.8v-16M138.1 439v16M205.3 669.8v-16M205.3 439v16M270.3 669.8v-16M270.3 439v16M337.5 669.8v-16M337.5 439v16M130.5 446.6h16M361.8 446.6h-16M130.5 503.2h16M361.8 503.2h-16M130.5 561.3h16M361.8 561.3h-16M130.5 619.6h16M361.8 619.6h-16" stroke="#231f20" stroke-width="2.2" fill="none"/>
<text transform="translate(116 457) scale(1.08 1)" font-size="33" text-anchor="end">−4</text>
<text transform="translate(116 513.5) scale(1.08 1)" font-size="33" text-anchor="end">−2</text>
<text transform="translate(116 571.8) scale(1.08 1)" font-size="33" text-anchor="end">0</text>
<text transform="translate(116 630) scale(1.08 1)" font-size="33" text-anchor="end">2</text>
<text transform="translate(42 553) rotate(-90)" font-size="33" text-anchor="middle" textLength="104" lengthAdjust="spacingAndGlyphs"><tspan class="i">y</tspan> (mm)</text>
<text transform="translate(147 707.2) scale(1.08 1)" font-size="33" text-anchor="end">−2</text>
<text transform="translate(205.3 707.2) scale(1.08 1)" font-size="33" text-anchor="middle">0</text>
<text transform="translate(270.3 707.2) scale(1.08 1)" font-size="33" text-anchor="middle">2</text>
<text transform="translate(335.5 707.2) scale(1.08 1)" font-size="33" text-anchor="middle">4</text>
<text transform="translate(246 762)" font-size="33" text-anchor="middle" textLength="106" lengthAdjust="spacingAndGlyphs"><tspan class="i">x</tspan> (mm)</text>
<linearGradient id="g2" x1="0" y1="1" x2="0" y2="0">
<stop offset="0.000" stop-color="#2c3080"/>
<stop offset="0.060" stop-color="#344296"/>
<stop offset="0.125" stop-color="#3a54a5"/>
<stop offset="0.200" stop-color="#3c68b4"/>
<stop offset="0.260" stop-color="#3787cd"/>
<stop offset="0.325" stop-color="#34b4e8"/>
<stop offset="0.365" stop-color="#46c0e8"/>
<stop offset="0.420" stop-color="#64c3c8"/>
<stop offset="0.460" stop-color="#80c696"/>
<stop offset="0.500" stop-color="#9acd68"/>
<stop offset="0.540" stop-color="#b4d450"/>
<stop offset="0.580" stop-color="#dee230"/>
<stop offset="0.625" stop-color="#f9ec22"/>
<stop offset="0.670" stop-color="#fdcd1c"/>
<stop offset="0.710" stop-color="#faaa20"/>
<stop offset="0.750" stop-color="#f68c24"/>
<stop offset="0.800" stop-color="#f26428"/>
<stop offset="0.840" stop-color="#ef3e2a"/>
<stop offset="0.875" stop-color="#ec242a"/>
<stop offset="0.920" stop-color="#cd202a"/>
<stop offset="0.960" stop-color="#aa1e28"/>
<stop offset="1.000" stop-color="#8a1b24"/>
</linearGradient>
<rect x="384" y="439" width="19" height="230.79999999999995" fill="url(#g2)" stroke="#231f20" stroke-width="2.2"/>
<path d="M385 497.1H402" stroke="#231f20" stroke-width="2.2"/>
<path d="M385 572.1H402" stroke="#231f20" stroke-width="2.2"/>
<path d="M385 646.3H402" stroke="#fff" stroke-width="2.2"/>
<text transform="translate(411.5 508.5) scale(1.08 1)" font-size="33">5</text>
<text transform="translate(411.5 583.5) scale(1.08 1)" font-size="33">0</text>
<text transform="translate(410 658) scale(1.08 1)" font-size="33">−5</text>
<text transform="translate(502 557) rotate(-90)" font-size="33" text-anchor="middle" textLength="144" lengthAdjust="spacingAndGlyphs">Delay (fs)</text>
<rect x="368.6" y="697.3" width="140.79999999999995" height="115.80000000000007" fill="none" stroke="#231f20" stroke-width="2.2"/>
<text transform="translate(382 766.6) scale(1.08 1)" font-size="33">0°</text>
<ellipse cx="452.9" cy="755.1" rx="23.5" ry="45.2" fill="none" stroke="#231f20" stroke-width="2.6"/>
<ellipse cx="465.7" cy="755.1" rx="29.7" ry="45.2" fill="none" stroke="#231f20" stroke-width="2.6"/>
<clipPath id="c4"><rect x="626" y="439" width="232.39999999999998" height="230.79999999999995"/></clipPath>
<g clip-path="url(#c4)" shape-rendering="crispEdges">
<rect x="615.8" y="428.5" width="18.5" height="19.8" fill="#3a59a9"/>
<rect x="633.7" y="428.5" width="18.5" height="19.8" fill="#3a59a9"/>
<rect x="651.6" y="428.5" width="18.5" height="19.8" fill="#3a59a9"/>
<rect x="669.5" y="428.5" width="18.5" height="19.8" fill="#3a59a9"/>
<rect x="687.4" y="428.5" width="18.5" height="19.8" fill="#3a59a9"/>
<rect x="705.3" y="428.5" width="18.5" height="19.8" fill="#3a59a9"/>
<rect x="723.2" y="428.5" width="18.5" height="19.8" fill="#3a59a9"/>
<rect x="741.1" y="428.5" width="18.5" height="19.8" fill="#3a59a9"/>
<rect x="759.0" y="428.5" width="18.5" height="19.8" fill="#3a59a9"/>
<rect x="776.9" y="428.5" width="18.5" height="19.8" fill="#3b60ae"/>
<rect x="794.8" y="428.5" width="18.5" height="19.8" fill="#3a59a9"/>
<rect x="812.7" y="428.5" width="18.5" height="19.8" fill="#3a59a9"/>
<rect x="830.6" y="428.5" width="18.5" height="19.8" fill="#3a59a9"/>
<rect x="848.5" y="428.5" width="18.5" height="19.8" fill="#3a59a9"/>
<rect x="615.8" y="447.7" width="18.5" height="19.8" fill="#3a59a9"/>
<rect x="633.7" y="447.7" width="18.5" height="19.8" fill="#3a59a9"/>
<rect x="651.6" y="447.7" width="18.5" height="19.8" fill="#3a59a9"/>
<rect x="669.5" y="447.7" width="18.5" height="19.8" fill="#3a59a9"/>
<rect x="687.4" y="447.7" width="18.5" height="19.8" fill="#3a59a9"/>
<rect x="705.3" y="447.7" width="18.5" height="19.8" fill="#3a59a9"/>
<rect x="723.2" y="447.7" width="18.5" height="19.8" fill="#3b5cab"/>
<rect x="741.1" y="447.7" width="18.5" height="19.8" fill="#3b60ae"/>
<rect x="759.0" y="447.7" width="18.5" height="19.8" fill="#3b61af"/>
<rect x="776.9" y="447.7" width="18.5" height="19.8" fill="#3a72bc"/>
<rect x="794.8" y="447.7" width="18.5" height="19.8" fill="#3b61af"/>
<rect x="812.7" y="447.7" width="18.5" height="19.8" fill="#3b61af"/>
<rect x="830.6" y="447.7" width="18.5" height="19.8" fill="#3b60ae"/>
<rect x="848.5" y="447.7" width="18.5" height="19.8" fill="#3b60ae"/>
<rect x="615.8" y="466.9" width="18.5" height="19.8" fill="#3a59a9"/>
<rect x="633.7" y="466.9" width="18.5" height="19.8" fill="#3a59a9"/>
<rect x="651.6" y="466.9" width="18.5" height="19.8" fill="#3b5cab"/>
<rect x="669.5" y="466.9" width="18.5" height="19.8" fill="#3b60ae"/>
<rect x="687.4" y="466.9" width="18.5" height="19.8" fill="#3b60ae"/>
<rect x="705.3" y="466.9" width="18.5" height="19.8" fill="#3978c1"/>
<rect x="723.2" y="466.9" width="18.5" height="19.8" fill="#3882c9"/>
<rect x="741.1" y="466.9" width="18.5" height="19.8" fill="#3a72bc"/>
<rect x="759.0" y="466.9" width="18.5" height="19.8" fill="#3789ce"/>
<rect x="776.9" y="466.9" width="18.5" height="19.8" fill="#34b4e8"/>
<rect x="794.8" y="466.9" width="18.5" height="19.8" fill="#35abe3"/>
<rect x="812.7" y="466.9" width="18.5" height="19.8" fill="#3789ce"/>
<rect x="830.6" y="466.9" width="18.5" height="19.8" fill="#3b6bb7"/>
<rect x="848.5" y="466.9" width="18.5" height="19.8" fill="#3c65b2"/>
<rect x="615.8" y="486.1" width="18.5" height="19.8" fill="#3b6bb7"/>
<rect x="633.7" y="486.1" width="18.5" height="19.8" fill="#3882c9"/>
<rect x="651.6" y="486.1" width="18.5" height="19.8" fill="#3696d6"/>
<rect x="669.5" y="486.1" width="18.5" height="19.8" fill="#3cbae8"/>
<rect x="687.4" y="486.1" width="18.5" height="19.8" fill="#45bfe8"/>
<rect x="705.3" y="486.1" width="18.5" height="19.8" fill="#45bfe8"/>
<rect x="723.2" y="486.1" width="18.5" height="19.8" fill="#34b4e8"/>
<rect x="741.1" y="486.1" width="18.5" height="19.8" fill="#37b6e8"/>
<rect x="759.0" y="486.1" width="18.5" height="19.8" fill="#4bc1e2"/>
<rect x="776.9" y="486.1" width="18.5" height="19.8" fill="#52c1db"/>
<rect x="794.8" y="486.1" width="18.5" height="19.8" fill="#3cbae8"/>
<rect x="812.7" y="486.1" width="18.5" height="19.8" fill="#4bc1e2"/>
<rect x="830.6" y="486.1" width="18.5" height="19.8" fill="#3cbae8"/>
<rect x="848.5" y="486.1" width="18.5" height="19.8" fill="#3cbae8"/>
<rect x="615.8" y="505.3" width="18.5" height="19.8" fill="#45bfe8"/>
<rect x="633.7" y="505.3" width="18.5" height="19.8" fill="#4bc1e2"/>
<rect x="651.6" y="505.3" width="18.5" height="19.8" fill="#56c2d7"/>
<rect x="669.5" y="505.3" width="18.5" height="19.8" fill="#5cc2d0"/>
<rect x="687.4" y="505.3" width="18.5" height="19.8" fill="#5cc2d0"/>
<rect x="705.3" y="505.3" width="18.5" height="19.8" fill="#63c3c9"/>
<rect x="723.2" y="505.3" width="18.5" height="19.8" fill="#63c3c9"/>
<rect x="741.1" y="505.3" width="18.5" height="19.8" fill="#68c3c2"/>
<rect x="759.0" y="505.3" width="18.5" height="19.8" fill="#70c4b2"/>
<rect x="776.9" y="505.3" width="18.5" height="19.8" fill="#70c4b2"/>
<rect x="794.8" y="505.3" width="18.5" height="19.8" fill="#7dc69b"/>
<rect x="812.7" y="505.3" width="18.5" height="19.8" fill="#7dc69b"/>
<rect x="830.6" y="505.3" width="18.5" height="19.8" fill="#7dc69b"/>
<rect x="848.5" y="505.3" width="18.5" height="19.8" fill="#7dc69b"/>
<rect x="615.8" y="524.5" width="18.5" height="19.8" fill="#68c3c2"/>
<rect x="633.7" y="524.5" width="18.5" height="19.8" fill="#70c4b2"/>
<rect x="651.6" y="524.5" width="18.5" height="19.8" fill="#7dc69b"/>
<rect x="669.5" y="524.5" width="18.5" height="19.8" fill="#86c88c"/>
<rect x="687.4" y="524.5" width="18.5" height="19.8" fill="#86c88c"/>
<rect x="705.3" y="524.5" width="18.5" height="19.8" fill="#8eca7e"/>
<rect x="723.2" y="524.5" width="18.5" height="19.8" fill="#a6d05d"/>
<rect x="741.1" y="524.5" width="18.5" height="19.8" fill="#a6d05d"/>
<rect x="759.0" y="524.5" width="18.5" height="19.8" fill="#a6d05d"/>
<rect x="776.9" y="524.5" width="18.5" height="19.8" fill="#a6d05d"/>
<rect x="794.8" y="524.5" width="18.5" height="19.8" fill="#aed255"/>
<rect x="812.7" y="524.5" width="18.5" height="19.8" fill="#aed255"/>
<rect x="830.6" y="524.5" width="18.5" height="19.8" fill="#b8d54d"/>
<rect x="848.5" y="524.5" width="18.5" height="19.8" fill="#b8d54d"/>
<rect x="615.8" y="543.7" width="18.5" height="19.8" fill="#92cb76"/>
<rect x="633.7" y="543.7" width="18.5" height="19.8" fill="#a6d05d"/>
<rect x="651.6" y="543.7" width="18.5" height="19.8" fill="#b2d452"/>
<rect x="669.5" y="543.7" width="18.5" height="19.8" fill="#b2d452"/>
<rect x="687.4" y="543.7" width="18.5" height="19.8" fill="#b2d452"/>
<rect x="705.3" y="543.7" width="18.5" height="19.8" fill="#bfd848"/>
<rect x="723.2" y="543.7" width="18.5" height="19.8" fill="#d9e034"/>
<rect x="741.1" y="543.7" width="18.5" height="19.8" fill="#eae62a"/>
<rect x="759.0" y="543.7" width="18.5" height="19.8" fill="#c5da43"/>
<rect x="776.9" y="543.7" width="18.5" height="19.8" fill="#d2de39"/>
<rect x="794.8" y="543.7" width="18.5" height="19.8" fill="#dfe230"/>
<rect x="812.7" y="543.7" width="18.5" height="19.8" fill="#f5eb24"/>
<rect x="830.6" y="543.7" width="18.5" height="19.8" fill="#f5eb24"/>
<rect x="848.5" y="543.7" width="18.5" height="19.8" fill="#f5eb24"/>
<rect x="615.8" y="562.9" width="18.5" height="19.8" fill="#bfd848"/>
<rect x="633.7" y="562.9" width="18.5" height="19.8" fill="#ccdc3e"/>
<rect x="651.6" y="562.9" width="18.5" height="19.8" fill="#e6e52c"/>
<rect x="669.5" y="562.9" width="18.5" height="19.8" fill="#e6e52c"/>
<rect x="687.4" y="562.9" width="18.5" height="19.8" fill="#e6e52c"/>
<rect x="705.3" y="562.9" width="18.5" height="19.8" fill="#eee828"/>
<rect x="723.2" y="562.9" width="18.5" height="19.8" fill="#fae320"/>
<rect x="741.1" y="562.9" width="18.5" height="19.8" fill="#fae320"/>
<rect x="759.0" y="562.9" width="18.5" height="19.8" fill="#fae320"/>
<rect x="776.9" y="562.9" width="18.5" height="19.8" fill="#fae320"/>
<rect x="794.8" y="562.9" width="18.5" height="19.8" fill="#fbdf1f"/>
<rect x="812.7" y="562.9" width="18.5" height="19.8" fill="#fcbe1e"/>
<rect x="830.6" y="562.9" width="18.5" height="19.8" fill="#fbb31f"/>
<rect x="848.5" y="562.9" width="18.5" height="19.8" fill="#fbb31f"/>
<rect x="615.8" y="582.1" width="18.5" height="19.8" fill="#fbdf1f"/>
<rect x="633.7" y="582.1" width="18.5" height="19.8" fill="#fbdf1f"/>
<rect x="651.6" y="582.1" width="18.5" height="19.8" fill="#fdc91c"/>
<rect x="669.5" y="582.1" width="18.5" height="19.8" fill="#fdce1c"/>
<rect x="687.4" y="582.1" width="18.5" height="19.8" fill="#fcd61e"/>
<rect x="705.3" y="582.1" width="18.5" height="19.8" fill="#fbdf1f"/>
<rect x="723.2" y="582.1" width="18.5" height="19.8" fill="#fcbe1e"/>
<rect x="741.1" y="582.1" width="18.5" height="19.8" fill="#fbb31f"/>
<rect x="759.0" y="582.1" width="18.5" height="19.8" fill="#f68c24"/>
<rect x="776.9" y="582.1" width="18.5" height="19.8" fill="#f68c24"/>
<rect x="794.8" y="582.1" width="18.5" height="19.8" fill="#f68c24"/>
<rect x="812.7" y="582.1" width="18.5" height="19.8" fill="#f47326"/>
<rect x="830.6" y="582.1" width="18.5" height="19.8" fill="#f26428"/>
<rect x="848.5" y="582.1" width="18.5" height="19.8" fill="#f26428"/>
<rect x="615.8" y="601.3" width="18.5" height="19.8" fill="#fcbe1e"/>
<rect x="633.7" y="601.3" width="18.5" height="19.8" fill="#f68c24"/>
<rect x="651.6" y="601.3" width="18.5" height="19.8" fill="#f68c24"/>
<rect x="669.5" y="601.3" width="18.5" height="19.8" fill="#f89a22"/>
<rect x="687.4" y="601.3" width="18.5" height="19.8" fill="#f79523"/>
<rect x="705.3" y="601.3" width="18.5" height="19.8" fill="#f68c24"/>
<rect x="723.2" y="601.3" width="18.5" height="19.8" fill="#f68c24"/>
<rect x="741.1" y="601.3" width="18.5" height="19.8" fill="#f58225"/>
<rect x="759.0" y="601.3" width="18.5" height="19.8" fill="#f15829"/>
<rect x="776.9" y="601.3" width="18.5" height="19.8" fill="#f04c29"/>
<rect x="794.8" y="601.3" width="18.5" height="19.8" fill="#f0462a"/>
<rect x="812.7" y="601.3" width="18.5" height="19.8" fill="#ef3b2a"/>
<rect x="830.6" y="601.3" width="18.5" height="19.8" fill="#ef3b2a"/>
<rect x="848.5" y="601.3" width="18.5" height="19.8" fill="#f15829"/>
<rect x="615.8" y="620.5" width="18.5" height="19.8" fill="#f47d26"/>
<rect x="633.7" y="620.5" width="18.5" height="19.8" fill="#f47326"/>
<rect x="651.6" y="620.5" width="18.5" height="19.8" fill="#f15829"/>
<rect x="669.5" y="620.5" width="18.5" height="19.8" fill="#f15829"/>
<rect x="687.4" y="620.5" width="18.5" height="19.8" fill="#f15829"/>
<rect x="705.3" y="620.5" width="18.5" height="19.8" fill="#f15829"/>
<rect x="723.2" y="620.5" width="18.5" height="19.8" fill="#f15829"/>
<rect x="741.1" y="620.5" width="18.5" height="19.8" fill="#f04c29"/>
<rect x="759.0" y="620.5" width="18.5" height="19.8" fill="#ef3b2a"/>
<rect x="776.9" y="620.5" width="18.5" height="19.8" fill="#ee322a"/>
<rect x="794.8" y="620.5" width="18.5" height="19.8" fill="#ec242a"/>
<rect x="812.7" y="620.5" width="18.5" height="19.8" fill="#ec242a"/>
<rect x="830.6" y="620.5" width="18.5" height="19.8" fill="#ec242a"/>
<rect x="848.5" y="620.5" width="18.5" height="19.8" fill="#ed2d2a"/>
<rect x="615.8" y="639.7" width="18.5" height="19.8" fill="#ef3b2a"/>
<rect x="633.7" y="639.7" width="18.5" height="19.8" fill="#ee322a"/>
<rect x="651.6" y="639.7" width="18.5" height="19.8" fill="#ed2d2a"/>
<rect x="669.5" y="639.7" width="18.5" height="19.8" fill="#ec242a"/>
<rect x="687.4" y="639.7" width="18.5" height="19.8" fill="#ec242a"/>
<rect x="705.3" y="639.7" width="18.5" height="19.8" fill="#ec242a"/>
<rect x="723.2" y="639.7" width="18.5" height="19.8" fill="#ec242a"/>
<rect x="741.1" y="639.7" width="18.5" height="19.8" fill="#e3232a"/>
<rect x="759.0" y="639.7" width="18.5" height="19.8" fill="#df222a"/>
<rect x="776.9" y="639.7" width="18.5" height="19.8" fill="#ce202a"/>
<rect x="794.8" y="639.7" width="18.5" height="19.8" fill="#ad1e28"/>
<rect x="812.7" y="639.7" width="18.5" height="19.8" fill="#ad1e28"/>
<rect x="830.6" y="639.7" width="18.5" height="19.8" fill="#be1f29"/>
<rect x="848.5" y="639.7" width="18.5" height="19.8" fill="#e3232a"/>
<rect x="615.8" y="658.9" width="18.5" height="19.8" fill="#ec242a"/>
<rect x="633.7" y="658.9" width="18.5" height="19.8" fill="#ec242a"/>
<rect x="651.6" y="658.9" width="18.5" height="19.8" fill="#df222a"/>
<rect x="669.5" y="658.9" width="18.5" height="19.8" fill="#c9202a"/>
<rect x="687.4" y="658.9" width="18.5" height="19.8" fill="#d6212a"/>
<rect x="705.3" y="658.9" width="18.5" height="19.8" fill="#e3232a"/>
<rect x="723.2" y="658.9" width="18.5" height="19.8" fill="#d6212a"/>
<rect x="741.1" y="658.9" width="18.5" height="19.8" fill="#be1f29"/>
<rect x="759.0" y="658.9" width="18.5" height="19.8" fill="#991c26"/>
<rect x="776.9" y="658.9" width="18.5" height="19.8" fill="#a31d27"/>
<rect x="794.8" y="658.9" width="18.5" height="19.8" fill="#b31e28"/>
<rect x="812.7" y="658.9" width="18.5" height="19.8" fill="#be1f29"/>
<rect x="830.6" y="658.9" width="18.5" height="19.8" fill="#c9202a"/>
<rect x="848.5" y="658.9" width="18.5" height="19.8" fill="#df222a"/>
</g>
<rect x="626" y="439" width="232.39999999999998" height="230.79999999999995" fill="none" stroke="#231f20" stroke-width="2.2"/>
<path d="M652.3 669.8v-16M652.3 439v16M724 669.8v-16M724 439v16M795.4 669.8v-16M795.4 439v16M626 503.2h16M858.4 503.2h-16M626 580.3h16M858.4 580.3h-16M626 658h16M858.4 658h-16" stroke="#231f20" stroke-width="2.2" fill="none"/>
<text transform="translate(613.8 514.5) scale(1.08 1)" font-size="33" text-anchor="end">−2</text>
<text transform="translate(613.8 591.8) scale(1.08 1)" font-size="33" text-anchor="end">0</text>
<text transform="translate(613.8 669.3) scale(1.08 1)" font-size="33" text-anchor="end">2</text>
<text transform="translate(661 707.2) scale(1.08 1)" font-size="33" text-anchor="end">−2</text>
<text transform="translate(724 707.2) scale(1.08 1)" font-size="33" text-anchor="middle">0</text>
<text transform="translate(795.4 707.2) scale(1.08 1)" font-size="33" text-anchor="middle">2</text>
<text transform="translate(742 762)" font-size="33" text-anchor="middle" textLength="106" lengthAdjust="spacingAndGlyphs"><tspan class="i">x</tspan> (mm)</text>
<linearGradient id="g3" x1="0" y1="1" x2="0" y2="0">
<stop offset="0.000" stop-color="#2c3080"/>
<stop offset="0.060" stop-color="#344296"/>
<stop offset="0.125" stop-color="#3a54a5"/>
<stop offset="0.200" stop-color="#3c68b4"/>
<stop offset="0.260" stop-color="#3787cd"/>
<stop offset="0.325" stop-color="#34b4e8"/>
<stop offset="0.365" stop-color="#46c0e8"/>
<stop offset="0.420" stop-color="#64c3c8"/>
<stop offset="0.460" stop-color="#80c696"/>
<stop offset="0.500" stop-color="#9acd68"/>
<stop offset="0.540" stop-color="#b4d450"/>
<stop offset="0.580" stop-color="#dee230"/>
<stop offset="0.625" stop-color="#f9ec22"/>
<stop offset="0.670" stop-color="#fdcd1c"/>
<stop offset="0.710" stop-color="#faaa20"/>
<stop offset="0.750" stop-color="#f68c24"/>
<stop offset="0.800" stop-color="#f26428"/>
<stop offset="0.840" stop-color="#ef3e2a"/>
<stop offset="0.875" stop-color="#ec242a"/>
<stop offset="0.920" stop-color="#cd202a"/>
<stop offset="0.960" stop-color="#aa1e28"/>
<stop offset="1.000" stop-color="#8a1b24"/>
</linearGradient>
<rect x="880.2" y="439" width="18.59999999999991" height="230.79999999999995" fill="url(#g3)" stroke="#231f20" stroke-width="2.2"/>
<path d="M881.2 446.6H897.8" stroke="#fff" stroke-width="2.2"/>
<path d="M881.2 507.1H897.8" stroke="#231f20" stroke-width="2.2"/>
<path d="M881.2 567.3H897.8" stroke="#231f20" stroke-width="2.2"/>
<path d="M881.2 627.5H897.8" stroke="#fff" stroke-width="2.2"/>
<text transform="translate(909 458) scale(1.08 1)" font-size="33">15</text>
<text transform="translate(909 518.5) scale(1.08 1)" font-size="33">10</text>
<text transform="translate(909 578.7) scale(1.08 1)" font-size="33">5</text>
<text transform="translate(909 639) scale(1.08 1)" font-size="33">0</text>
<text transform="translate(998 555.5) rotate(-90)" font-size="33" text-anchor="middle" textLength="140" lengthAdjust="spacingAndGlyphs">Delay (fs)</text>
<rect x="849.2" y="697.3" width="157.39999999999998" height="115.80000000000007" fill="none" stroke="#231f20" stroke-width="2.2"/>
<text transform="translate(862.5 766.6) scale(1.08 1)" font-size="33">90°</text>
<ellipse cx="952" cy="755.2" rx="23.6" ry="45.7" fill="none" stroke="#231f20" stroke-width="2.6"/>
<ellipse cx="965.8" cy="755.2" rx="24.5" ry="46.2" transform="rotate(9 965.8 755.2)" fill="none" stroke="#231f20" stroke-width="2.6"/>
<text transform="translate(479.5 890) scale(1.08 1)" font-size="33" text-anchor="middle">(b)</text>
<clipPath id="cb"><path d="M185.6 927.5L703 913.6V1183L773.1 1275.1L258.9 1287.8L185 1193.5Z"/></clipPath>
<path d="M185.6 927.5L703 913.6V1183L773.1 1275.1L258.9 1287.8L185 1193.5Z" fill="#9acd68"/>
<g clip-path="url(#cb)" transform="translate(0.5 0)" fill="none" stroke-width="1.06" shape-rendering="crispEdges">
<path stroke="#36489b" d="m404 1256v1m1 0v1m14-5v1m14-5v1m1-1v1m14-5v1m14-5v1m1-1v1m14-5v1m14-5v1m1-1v2m14-5v1m1-1v1m14-5v1m14-5v1m1-1v1m14-5v1m14-5v1m1-1v1m14-5v1"/>
<path stroke="#3a54a5" d="m327 1041v25m1-24v31m1-10v15m1-8v7m13-40v3m1-11v32m0 26v10m1-79v54m0 8v19m1-85v20m0 10v52m1-81v13m0 37v20m14-52v13m0 44v13m1-87v2m0 5v31m0 30v27m1-108v109m1-111v31m0 16v41m0 16v7m1-111v9m0 48v2m0 11v11m14-51v17m0 41v15m1-110v3m0 14v43m0 13v35m0 2v5m1-116v45m0 6v48m0 10v4m1-112v20m0 37v32m1-80v2m20 250v3m1-3v1m0 1v2m1-4v2m0 1v1m1-3v3m11-7v1m1-2v4m1-4v2m0 1v1m1-3v3m1-2v1m11-6v2m1-2v1m0 1v1m1-3v1m0 1v1m1-3v3m11-7v2m1-2v3m1-3v1m0 1v1m1-3v3m1-2v2m11-7v2m1-2v1m0 1v1m1-3v1m0 1v1m1-2v2m1-1v1m10-6v1m1-2v3m1-3v1m0 1v2m1-4v4m1-3v2m11-6v2m1-3v1m0 1v2m1-4v1m0 2v1m1-3v3m1-2v1m10-6v1m1-1v2m1-3v2m0 1v1m1-3v1m0 1v1m1-2v2m11-7v2m1-2v3m1-3v1m0 1v1m1-3v3m1-2v2m11-7v3m1-3v1m0 1v1m1-3v1m0 1v1m1-2v2m11-7v2m1-2v3m1-3v1m0 1v1m1-3v3m1-2v2m11-7v3m1-3v1m0 1v1m1-3v1m0 1v2m1-3v2m1-1v1m10-6v1m1-2v3m1-3v1m0 1v2m1-3v3m1-2v1"/>
<path stroke="#3b5fad" d="m326 1038v27m1-31v7m0 25v5m1-38v9m0 31v8m1-41v23m0 15v5m1-18v5m0 7v5m1-9v4m12-46v6m0 3v9m0 40v8m1-73v5m0 32v8m0 13v5m0 10v4m1-88v5m0 54v8m0 19v3m1-91v3m0 20v10m0 52v6m1-91v4m0 13v4m0 15v18m0 20v5m1-76v12m0 42v16m12-49v9m0 49v6m1-71v5m0 13v6m0 34v4m0 13v7m1-106v12m0 2v5m0 31v30m0 27v2m1-114v4m0 109v3m1-117v3m0 31v6m0 4v6m0 41v16m0 7v3m1-116v2m0 9v19m0 21v8m0 2v11m0 11v5m0 21v4m1-111v6m12 27v13m0 43v14m1-110v1m0 18v18m0 17v5m0 18v6m0 3v9m0 15v2m1-115v3m0 3v14m0 43v13m0 35v2m0 5v1m1-119v2m0 45v6m0 48v10m0 4v1m1-115v2m0 20v21m0 11v5m0 32v8m0 21v1m1-118v8m0 2v8m0 40v18m0 38v1m0 54v1m1-59v1m0 59v1m1-64v2m0 63v1m11-149v8m0 11v6m1-58v8m0 18v40m0 17v5m1-90v89m0 4v1m1-93v86m1-80v22m0 37v19m0 5v1m1-17v4m1 192v2m1 1v1m4-2v2m4-196v1m1-2v1m0 119v1m1-1v1m1-164v12m0 28v1m1-47v38m1-69v40m0 5v26m0 199v1m1-271v33m0 24v11m0 201v1m0 1v1m3-3v1m1 0v1m0 1v1m1-1v1m4-70v1m1-1v1m1-1v1m1-142v1m0 140v1m2 61v3m1-233v17m0 213v1m0 2v1m1-272v4m0 13v43m0 208v1m1-269v40m0 14v5m0 209v1m0 3v1m1-271v18m1 250v2m6-68v1m1-147v1m0 145v1m1-1v1m1-148v1m0 207v1m2-2v1m1-1v1m0 3v1m1-1v1m1-246v30m0 212v1m0 2v1m1-271v8m0 9v37m0 215v1m1-269v27m1-21v12m4 33v1m1 154v1m1-1v1m1-157v1m0 211v2m1 0v1m1-4v1m0 3v1m1-1v1m1-4v1m0 2v1m1-3v1m0 1v1m2-238v7m1-36v4m0 18v24m1-46v46m1-45v22m2 180v1m1-157v1m0 155v1m2 55v1m0 1v1m1 0v1m3-1v1m1-2v1m5-237v17m1-41v11m0 5v25m1-41v26m0 169v1m1-190v13m0 176v1m1-153v1m0 210v2m1-213v1m0 210v1m3-1v1m1 0v1m0 1v1m8-229v8m0 152v1m1-170v17m0 152v1m1-188v29m0 8v1m0 210v1m0 1v1m1-251v21m0 16v1m0 210v1m0 2v1m2-4v1m0 3v1m1-4v1m1 0v2m9-73v1m0 65v1m1-2v1m0 2v1m1-223v7m0 3v1m0 208v1m1-241v28m0 212v1m0 3v1m1-246v25m0 220v1m11-78v1m0 69v2m1-72v1m0 68v1m1-71v1m0 69v1m0 3v1m1-5v1m0 3v1m1-4v1m0 2v1m1-236v22m0 211v2m1-236v23m8 206v1m1-75v1m0 75v1m1-4v1m0 3v1m1-5v1m0 3v1m1-1v1m1-1v1m1-2v1m2-225v7m1-7v18m1-13v13m1-2v2m4 200v2m2-199v1m0 113v1m0 85v1m1-201v1m0 112v1m1-2v1m0 84v1m0 2v1m1-3v1m0 1v1m7-212v11m1-9v9m1-5v5m1 4v1m0 188v1m0 1v1m1-192v1m0 95v1m0 95v1m1-193v1m0 94v1m1-2v2m0 93v1m1-97v1m0 96v1m0 1v1m1-2v1m10-190v1m0 82v1m1-83v1m0 80v1m1-2v1"/>
<path stroke="#3b6cb7" d="m325 1047v15m1-29v5m0 27v3m1-38v4m0 37v11m1-54v5m0 48v5m1-58v12m0 43v4m1-26v4m0 17v3m1-17v5m0 4v4m11-46v8m1-15v3m0 18v16m0 21v3m0 8v3m1-86v10m0 45v6m0 2v5m0 19v2m1-93v3m0 89v2m1-95v2m0 91v3m1-96v2m0 21v4m0 6v5m0 43v13m1-92v3m0 12v3m0 25v14m0 16v3m1-14v6m11-47v3m0 9v4m0 41v4m0 6v6m1-95v18m0 24v17m0 14v3m0 24v3m1-113v4m0 109v2m1-118v2m0 116v2m1-121v2m0 40v4m0 73v2m1-120v2m0 30v4m0 14v3m0 37v3m0 13v5m0 4v4m1-117v2m0 6v6m0 41v30m11 10v6m1-81v15m0 13v3m0 37v3m0 14v3m1-117v4m0 1v4m0 10v4m0 40v5m0 4v9m0 6v3m1-91v2m0 119v1m1-122v2m0 116v1m0 4v4m1-126v2m0 43v11m0 45v6m0 1v6m0 5v3m0 50v2m1-172v3m0 18v5m0 31v4m0 18v16m0 19v3m0 56v2m1-168v10m0 47v9m0 39v2m0 61v2m1-67v1m0 66v2m1-71v3m0 67v2m10-184v4m0 23v5m0 8v11m0 6v6m0 22v3m0 104v1m1-197v3m0 8v7m0 6v5m0 40v5m0 6v6m0 5v1m0 3v1m1-97v2m0 89v1m0 2v1m0 103v1m1-199v3m0 86v1m0 3v1m1-92v7m0 22v5m0 11v21m0 19v1m0 3v1m0 107v1m1-187v16m0 41v6m0 4v6m0 186v1m1 1v1m1-4v1m1-1v1m0 4v1m1-6v1m0 4v1m1-5v1m0 3v1m1-4v1m1 1v1m3-197v1m0 119v1m1-122v1m1-42v10m0 30v1m0 122v1m1-170v5m0 12v20m0 7v1m0 124v1m1-204v33m0 38v3m0 3v2m1-79v2m0 40v5m0 224v1m1-272v2m0 33v6m0 7v11m0 215v1m1-274v33m0 27v8m0 201v1m1-1v1m0 4v1m1-1v1m1-1v1m1-3v1m3-207v1m1-2v1m1-2v1m1-2v1m2-2v1m0 141v1m0 62v1m1-231v16m1-56v4m0 14v21m0 17v5m1-62v2m0 4v13m0 255v1m1-275v2m0 40v14m0 5v1m1-61v3m0 18v20m0 14v5m0 209v1m0 3v1m1-271v17m0 253v1m1-2v1m4-213v1m0 144v2m1-148v1m0 146v1m1-149v1m0 147v1m1-149v1m1-2v1m0 147v1m0 59v1m0 1v1m1-3v1m0 2v1m1 0v1m2-245v29m0 211v1m1-269v10m0 9v8m1-27v2m0 8v9m0 37v1m0 213v1m0 1v1m1-272v2m0 27v26m1-53v6m0 12v8m1-20v12m2 189v1m1-1v1m2-158v1m0 211v1m1-57v1m0 54v1m1-1v1m2-1v1m3-232v3m0 231v2m1-267v3m0 19v7m0 7v11m1-49v2m0 4v18m0 24v1m1-49v2m1-2v3m0 22v9m0 2v12m1-45v22m0 181v1m1-158v1m2 155v1m0 55v2m1-215v1m0 211v1m1-213v1m0 211v1m1-1v1m0 4v1m1-6v1m0 4v1m1-5v1m1 2v1m4-237v17m1-42v9m0 8v7m0 17v1m1-44v2m0 11v5m0 25v1m0 154v1m1-200v3m0 26v16m0 1v2m0 151v1m1-199v8m0 13v6m0 18v1m1-36v10m0 177v1m0 60v1m1-215v1m0 151v1m0 62v1m1-216v1m0 210v1m0 4v1m1-6v1m0 4v1m1-1v1m2-3v2m6-229v8m0 153v1m1-170v8m0 10v1m0 150v1m1-190v19m0 19v1m0 210v2m1-252v2m0 29v6m0 152v1m1-190v2m0 21v8m0 157v1m1-189v22m0 17v1m0 209v1m0 4v1m2-5v1m0 3v1m1-1v1m7-217v1m0 143v2m1-147v1m0 144v1m1-146v1m0 144v1m0 63v1m0 1v1m1-222v8m0 2v1m0 143v1m1-176v21m0 7v1m0 145v1m0 69v1m1-247v2m0 28v1m0 2v1m1-35v2m0 25v4m0 212v1m1-243v25m0 218v1m0 2v1m1-3v2m8-215v1m0 138v1m0 68v1m1-209v1m0 138v1m0 67v1m1-208v1m0 210v1m1-212v1m0 137v1m1-139v1m0 136v1m1-163v23m1-25v3m0 235v1m1-239v2m0 235v1m1-237v24m7 2v1m0 130v1m0 73v1m1-206v1m0 130v1m0 71v1m1-204v1m0 129v1m1-131v1m0 128v1m1-2v1m0 74v1m1 0v1m1 2v1m1-227v8m1-10v3m0 7v11m1-21v3m1-1v6m0 13v1m1-13v10m0 2v1m1-2v1m2 200v1m1-199v1m1-1v1m0 115v1m0 80v1m0 3v1m1-202v1m0 196v1m1-83v1m0 81v1m0 4v1m1-202v1m0 112v1m2 85v2m4-214v2m1-4v14m1-13v3m1-1v3m0 9v1m1-11v5m0 5v1m0 2v1m0 189v2m1-199v5m0 2v1m0 97v2m1-100v1m0 97v1m0 90v1m1-93v2m0 90v1m0 4v1m1-194v1m0 95v1m0 96v1m1-100v2m0 93v1m1 2v1m9-192v1m0 84v1m1-90v2m0 87v1m0 99v1m1-190v3m0 2v1m1-4v2m0 2v1m1 0v1m0 77v1m12-34v3m1-23v20"/>
<path stroke="#3882c9" d="m325 1035v12m0 15v3m1-35v3m0 35v3m1-44v3m0 52v5m1-62v3m0 58v3m1-65v4m0 59v2m1-65v9m0 8v20m0 24v3m1-22v2m0 13v3m11-52v3m0 8v4m0 43v6m1-71v3m0 37v3m0 15v3m0 14v2m1-92v4m0 61v2m0 26v2m1-97v2m0 94v2m1-99v2m0 96v2m1-101v3m0 27v6m0 61v3m1-98v3m0 18v2m0 17v6m0 33v2m1-73v8m0 45v4m0 6v4m10-46v6m1-14v3m0 16v2m0 37v2m0 16v4m1-104v5m0 59v14m0 30v2m1-119v4m0 115v2m1-122v2m0 120v1m1-123v1m0 121v2m1-124v2m0 36v3m0 8v3m0 43v3m0 6v4m0 13v2m1-121v2m0 14v15m0 23v3m0 30v2m1-84v3m10 30v11m0 45v3m0 6v3m1-112v3m0 20v5m0 31v2m0 31v4m0 20v1m1-120v2m0 9v10m0 49v4m0 44v1m1-120v2m0 122v1m0 6v1m1-132v2m0 119v4m0 48v2m1-174v2m0 107v1m0 6v5m0 55v1m1-175v2m0 26v16m0 13v2m0 38v3m0 15v1m0 61v1m1-172v3m0 10v3m0 41v3m0 9v5m0 33v1m0 65v1m1-69v1m1 70v1m1-74v2m2 159v2m1-3v3m1-3v4m1-3v3m1-2v1m2-243v12m0 3v12m1-62v4m0 4v5m0 15v3m0 36v3m0 15v4m0 3v2m0 3v1m1-99v1m0 18v6m0 50v6m0 12v3m0 102v1m1-200v1m0 92v2m1-95v1m0 90v3m0 106v1m1-200v2m0 34v11m0 41v3m1-88v10m0 16v3m0 35v3m0 16v1m0 3v1m0 182v1m1-255v6m0 49v8m0 189v1m5 4v1m1-3v1m2-195v2m0 117v1m1 0v1m1-124v1m0 122v1m1-168v4m0 10v6m0 23v1m1-80v22m0 7v5m0 37v4m1-77v2m0 74v1m0 1v1m0 126v1m0 67v1m1-274v2m0 73v1m0 196v1m0 2v1m1-276v2m0 41v7m0 22v1m0 199v1m1-271v1m0 33v4m0 15v8m0 8v1m0 205v1m1-273v28m2 240v1m1 3v1m1-2v1m2-209v1m0 138v1m2 0v1m2-144v1m1-23v9m0 217v1m1-235v5m0 16v4m1-63v3m0 4v14m0 250v1m0 4v1m1-277v2m0 269v1m1-272v2m0 269v1m1-271v2m0 41v5m0 4v5m1-54v2m0 17v17m0 21v1m0 211v1m1-264v8m0 258v1m4-215v1m3 146v1m1-1v1m1-150v1m1 206v1m1-224v13m0 210v1m0 5v1m1-274v7m0 16v5m0 245v1m1-275v1m0 10v9m1-21v2m1-1v2m0 271v1m1-272v2m0 26v19m1-43v4m0 12v4m2 29v1m2-2v1m0 156v1m1 53v1m1 2v1m1-216v1m0 215v1m1 0v1m1-1v1m1-6v1m0 4v1m1-5v1m1-239v6m0 3v13m1-50v3m0 3v6m0 9v4m1-26v2m1-2v2m0 48v1m1-51v2m0 34v2m0 170v1m1-207v3m0 22v3m1-19v13m0 184v1m2-159v1m0 211v1m1-56v1m4 59v1m1-4v1m0 2v1m1-2v1m2-235v11m1-17v4m1-28v3m0 9v8m0 179v1m1-201v2m1-2v1m0 45v1m1-47v2m0 27v5m0 6v5m0 1v1m0 153v1m0 57v1m1-257v10m0 10v5m0 19v1m0 210v1m1-59v1m0 57v1m4 4v1m1-1v1m6-234v4m0 8v1m0 2v1m1-38v18m0 16v2m1-40v2m0 36v2m0 151v1m1-193v2m0 37v2m0 210v1m0 3v1m1-256v2m0 31v6m0 1v1m0 150v1m0 59v1m0 4v1m1-256v1m0 22v5m0 11v1m1-39v7m0 242v1m2 1v1m1 1v2m5-72v1m1-147v1m1 208v2m1-215v2m0 1v1m1-27v17m0 8v2m1-33v2m0 29v2m0 144v1m0 63v1m1-244v2m0 31v2m0 208v1m0 5v1m1-251v2m0 31v1m0 216v1m1-250v2m0 25v4m1-30v9m0 238v1m7-76v1m1-1v1m0 66v1m1 2v1m1-72v1m1-141v1m0 206v1m0 5v1m1-234v8m0 12v1m0 138v1m0 73v1m1-240v2m0 23v1m0 208v1m0 4v1m1-242v2m0 25v1m0 209v1m1-238v2m0 238v1m1-240v2m1 0v8m0 1v15m5 134v1m1-1v1m0 70v1m3 4v1m1-209v1m0 128v1m0 78v1m1-1v1m1-4v1m1-227v2m0 8v6m0 212v1m1-231v2m1-2v2m0 21v1m1-23v3m1 0v7m1 4v7m0 1v1m2 1v1m1 116v1m0 79v1m0 2v1m1-84v1m1-2v1m0 85v1m1-203v1m1 196v1m0 4v1m1-91v2m0 88v1m5-219v4m0 2v4m1-10v2m0 14v1m1-16v2m1-1v3m1 0v2m0 11v2m0 189v1m1-201v4m0 5v2m0 100v1m0 88v1m1-91v1m1-100v1m1 188v1m1-189v2m0 191v1m1-102v3m0 95v1m0 2v1m1-2v1m8-198v4m0 88v1m0 97v2m1-194v4m0 2v3m0 183v1m0 1v1m1-194v3m0 3v2m0 83v1m0 99v4m1-194v4m0 2v2m0 81v1m0 101v3m1-191v4m0 1v1m0 79v1m0 103v1m1-183v1m0 75v1m10-29v4m1-33v4m0 24v2m1-38v6m0 4v3m0 20v2m1-36v12m0 3v16m1-28v38m1-31v7m0 8v13"/>
<path stroke="#369dda" d="m324 1053v6m1-28v4m0 30v2m1-40v3m0 41v16m1-62v2m0 60v4m1-69v3m0 64v3m1-71v3m0 65v3m1-72v4m0 9v8m0 47v3m1-70v7m0 36v2m0 18v2m1-15v9m10-50v2m0 15v12m0 29v2m0 6v3m1-77v3m0 43v3m0 10v2m0 19v2m1-96v2m0 95v2m1-101v2m0 98v2m1-103v2m0 100v2m1-105v2m0 100v2m1-103v3m0 23v2m0 12v3m0 41v3m0 8v4m1-93v5m0 8v3m0 39v3m0 14v2m10-51v3m0 6v3m0 45v10m1-75v3m0 21v3m0 32v2m0 22v3m1-114v7m0 110v1m1-122v2m0 121v1m1-125v2m0 123v2m1-127v2m0 124v1m1-126v1m0 41v8m0 49v6m0 19v2m1-124v1m0 31v3m0 18v2m0 35v2m0 18v11m1-118v3m0 3v4m0 66v5m10-49v4m0 11v2m0 41v2m0 12v2m1-117v3m0 3v3m0 14v3m0 38v2m0 13v16m0 25v1m1-122v1m0 119v1m1-122v1m0 125v6m1-132v1m0 175v1m1-177v2m0 177v1m1-178v2m0 44v5m0 4v4m0 43v3m0 10v2m1-111v2m0 16v3m0 36v2m0 17v14m0 18v1m1-102v6m0 164v1m1-73v1m1-2v1m1 160v3m1-3v1m0 2v1m1-5v1m0 3v1m2-4v1m1 2v1m1-1v1m1-247v3m0 12v3m0 12v3m0 130v2m1-199v2m0 13v3m0 9v3m0 42v2m0 10v3m0 9v3m1-100v2m1-3v2m0 200v1m1-203v2m1-1v2m1 0v3m0 29v3m0 28v4m0 22v1m0 181v1m1-257v4m0 6v3m0 43v3m0 8v3m6 191v1m3-199v1m1-42v9m1-15v2m0 20v14m1-73v3m0 22v7m0 46v3m1-81v1m0 77v1m0 194v1m0 1v1m1-276v1m0 76v1m0 2v1m1-81v1m1 0v2m0 38v3m0 8v4m1-52v2m0 28v3m0 27v7m0 208v1m1-7v1m0 5v1m2-5v1m1 2v1m2-70v1m1-142v1m0 140v1m2-1v1m1-1v1m0 60v1m1-230v3m0 9v3m0 9v1m0 143v1m0 59v1m1-272v7m0 15v16m0 25v2m0 2v1m0 203v1m0 3v1m1-277v1m0 64v1m1-66v1m0 64v1m0 212v1m1-279v1m0 277v1m1-278v1m0 48v4m0 224v1m1-276v2m0 36v4m0 14v3m1-54v3m0 8v5m0 251v1m3-66v1m4-150v1m0 207v2m1-3v1m1-209v1m0 148v1m0 58v1m2-267v2m0 26v15m0 13v1m1-60v2m0 7v3m0 9v4m0 34v1m1-61v2m0 269v1m0 4v1m1-277v1m0 275v1m1-277v2m0 272v1m1-273v2m0 47v8m1-54v3m0 20v3m1-19v11m0 190v1m2-158v1m2 156v1m0 55v1m1-215v1m1 156v1m0 53v1m1-1v1m1-1v1m2 5v1m1-270v5m0 19v3m0 22v1m0 216v1m0 2v1m1-273v2m0 12v9m0 248v1m1-272v1m1-1v1m1-1v1m1 0v2m0 28v4m0 5v11m0 1v1m1-47v6m0 13v3m0 23v1m1-1v1m0 157v1m0 53v2m2 2v1m1-6v1m0 5v1m1-218v1m0 210v1m4 3v1m0 1v1m2-238v2m0 11v4m1-44v10m0 10v3m1-26v2m0 200v1m1-203v1m0 46v1m0 1v1m0 152v1m1-204v2m1-1v1m0 34v6m0 5v1m0 211v1m0 1v1m1-260v2m0 25v2m1-16v9m1 176v1m1-153v1m0 216v1m1-7v1m0 5v1m1-6v1m2 2v1m4-229v8m1-15v3m0 13v2m0 151v1m1-192v3m0 247v1m1-254v2m0 250v1m0 2v1m1-256v1m1-1v1m0 39v1m1-41v2m0 28v4m0 157v1m0 66v1m1-258v2m0 7v15m0 233v1m1-1v1m2-4v1m7-217v1m0 146v1m1-157v6m0 2v1m0 209v1m1-240v4m0 172v1m0 62v1m0 4v1m1-249v2m1-4v2m0 178v1m1-181v1m1-1v2m0 249v1m1-250v1m0 9v17m1 220v2m6-216v1m1-2v1m0 209v1m1-211v1m0 140v1m0 65v1m1-208v1m0 206v1m1-68v1m1-165v4m0 8v12m0 207v1m1-235v1m0 26v2m1-31v1m0 241v1m1-243v1m0 27v1m0 210v1m1-240v2m0 26v1m1-27v2m0 8v1m0 15v1m5 1v1m0 132v1m0 69v2m2-3v1m0 4v1m1-77v1m0 70v1m0 5v1m1-79v1m0 71v1m2-203v1m0 126v1m1-148v8m0 220v1m1-232v2m0 16v5m0 206v1m1-231v1m0 23v1m1-26v2m1-1v2m1 0v3m1 7v4m1 7v1m1 199v1m0 1v1m2-4v1m1-1v1m2-197v1m1 197v1m1 3v1m1-2v1m2-219v7m1-8v2m0 10v6m1-18v2m1-1v2m1-1v2m0 208v1m1-208v2m1 2v2m0 204v1m1-201v7m0 194v1m2-195v1m3 191v1m0 1v1m7-9v1m1-196v5m0 4v2m0 186v1m1-198v3m0 94v1m0 96v1m0 3v1m1-198v3m0 190v1m1-192v2m0 190v1m1-191v3m0 4v1m0 182v2m0 1v1m1-185v1m0 182v1m10-131v1m1-43v4m0 2v3m0 30v1m1-44v5m0 6v4m0 25v2m1-42v4m0 12v3m0 16v16m1-50v6m0 38v4m1-44v9m0 7v8m0 13v4m1-13v8"/>
<path stroke="#38b6e8" d="m324 1035v18m0 6v3m1-33v2m0 36v2m1-44v2m0 60v4m1-69v3m0 66v3m1-75v3m0 70v3m1-77v3m0 71v3m1-78v3m0 71v3m1-76v3m0 7v3m0 30v3m0 22v2m1-19v2m0 9v2m9-47v8m1-15v2m0 29v6m0 21v2m0 11v3m1-94v14m0 49v3m0 4v3m0 23v2m1-101v3m0 99v2m1-105v2m0 102v2m1-107v2m0 104v2m1-109v2m0 104v3m1-108v2m0 28v3m0 7v2m0 47v8m0 4v4m1-102v5m0 16v2m0 25v12m0 19v1m1-12v5m9-47v2m0 12v2m0 41v2m0 10v3m1-93v15m0 27v16m0 14v2m0 27v3m1-121v4m0 118v2m1-126v2m0 124v2m1-128v1m0 127v1m1-129v1m0 127v2m1-130v2m0 126v2m1-128v2m0 35v2m0 14v2m0 39v2m0 14v2m0 11v3m1-122v1m0 10v4m0 41v21m0 5v3m9 12v4m1-79v11m0 17v2m0 37v2m0 16v3m1-122v2m0 9v2m0 10v2m0 43v4m0 4v5m0 42v1m1-125v2m1-3v2m1-2v2m0 177v1m1-179v1m0 180v1m1-181v2m0 51v4m0 50v10m0 65v1m1-177v2m0 21v3m0 31v2m0 33v3m0 83v1m1-173v3m0 6v3m0 46v9m0 35v1m2 71v1m0 86v2m1-3v1m1-1v1m1 4v1m1-6v1m0 4v1m1-1v1m1-4v1m0 2v1m1-3v1m1-278v10m0 20v2m0 33v3m0 20v7m1-99v2m0 18v9m0 47v10m0 115v1m1-203v2m1-2v1m1-1v1m1-1v2m0 202v1m0 70v2m1-275v2m0 35v3m0 7v18m0 24v2m1-78v4m0 13v2m0 39v2m0 14v2m0 183v1m0 4v1m1-6v1m0 5v1m1-7v1m1-1v1m0 6v1m1-7v1m0 5v1m1-6v1m2 2v2m1-77v1m2-166v2m0 9v4m1-55v19m0 15v2m0 36v4m0 4v1m1-83v1m1-2v2m0 207v1m1-210v2m0 78v2m1-82v2m0 272v1m1-273v1m0 43v8m0 220v1m1-271v2m0 33v2m0 19v6m0 7v1m0 200v1m1-244v1m1 249v1m2-4v1m4-210v1m2-22v5m0 218v1m1-232v3m0 15v3m0 213v1m1-277v2m0 7v4m0 5v6m0 43v2m0 143v1m1-214v2m0 66v1m1-69v2m0 271v1m1-274v2m1-1v2m1 1v1m0 42v2m0 9v3m0 4v1m0 214v1m1-273v2m0 16v14m0 240v1m1-3v2m4-216v1m2 205v1m2-59v1m0 62v1m1-227v11m0 216v1m1-276v3m0 2v2m0 20v4m1-33v2m0 12v9m0 248v1m1-272v1m1-1v1m0 272v1m1-274v1m0 59v1m0 216v1m1-277v2m1 1v2m0 26v16m1-37v2m0 11v3m3 241v1m1-2v1m1-54v1m0 52v1m5-235v21m1-53v3m0 5v3m0 14v2m1-28v1m0 52v1m0 219v1m1-275v2m1-2v2m1-1v1m0 51v1m1-52v1m0 34v5m0 11v1m1-49v3m0 22v2m1-16v9m1 186v1m0 56v1m1-5v1m1-213v1m1-1v1m0 218v1m1-1v1m1-7v1m0 5v1m3-234v5m1-12v2m1-29v2m0 10v10m0 24v1m1-49v1m0 47v1m1-50v2m0 48v1m1-51v1m1-1v2m1-1v2m0 29v2m0 12v3m0 154v1m1-200v12m0 9v3m0 231v1m0 5v1m1-7v1m1-1v1m2 6v1m1-5v1m1 2v1m4-232v2m0 161v2m1-185v15m1-24v2m0 191v1m0 57v1m1-254v1m1-2v2m0 193v1m1-196v2m0 251v1m1-253v1m0 34v7m0 210v1m1-252v1m0 24v3m1-25v4m1 251v1m2-2v1m4-71v1m1-1v1m1 60v1m1-225v6m0 156v1m0 65v1m1-246v2m1-6v2m0 249v1m1-253v1m1-2v2m0 35v2m0 208v1m1-247v1m0 246v1m1-247v2m0 27v3m0 219v1m1-250v7m6 167v1m0 65v2m1-3v1m4-234v2m1-5v2m0 164v2m1-170v2m1-2v2m0 242v1m1-244v1m0 241v1m1-242v2m1 1v5m0 11v9m5 204v1m0 3v1m1-75v1m3 69v1m0 6v1m1-82v1m0 74v1m1-226v2m0 8v4m1-17v2m0 231v1m1-235v2m1-2v1m1 0v1m1 0v2m1 5v5m1 6v5m0 1v1m0 198v2m1-200v1m1-1v1m0 118v1m0 77v1m1 5v1m2-87v1m0 79v1m0 6v1m1-89v1m0 87v1m1-90v1m1 84v1m1 2v1m2-223v3m0 7v3m1-13v2m0 18v1m1-21v2m1-1v2m0 18v1m1-20v2m0 209v1m1-209v2m0 116v2m0 91v1m1-208v2m0 201v1m1-199v3m0 107v1m0 87v1m1-190v1m0 99v1m0 88v1m0 6v1m1-98v1m0 96v1m1-99v1m0 91v1m0 5v1m1-100v1m8-109v12m0 185v1m0 1v1m1-200v3m0 98v1m0 95v1m1-197v2m1-1v2m0 95v1m0 102v1m1-200v3m0 92v1m0 98v1m0 4v1m1-197v2m0 194v1m1-193v7m0 78v1m0 103v1m0 1v1m1-1v1m8-131v3m1-42v3m0 36v1m1-49v5m0 4v2m0 34v1m1-48v3m0 42v14m1-60v4m0 51v5m1-60v5m0 48v4m1-55v7m0 41v4m1-42v15m0 5v5m0 8v5"/>
<path stroke="#4bc1e2" d="m310 1049v17m1-24v27m1-27v29m1-7v8m11-40v3m0 27v2m1-38v3m0 40v2m0 10v9m1-68v3m0 66v3m1-76v4m0 72v2m1-80v3m0 76v3m1-83v3m0 77v3m1-83v2m0 77v4m1-83v3m0 13v2m0 11v17m0 27v5m1-75v8m0 41v2m0 13v2m9-51v2m0 8v3m1-19v1m0 37v2m0 17v2m0 16v2m1-100v4m0 66v4m0 28v2m1-105v2m0 104v1m1-108v2m0 106v2m1-111v2m0 108v2m1-113v2m0 109v2m1-112v2m0 33v7m0 65v3m1-108v3m0 23v1m0 20v4m0 32v2m1-17v3m0 5v3m9-52v2m0 16v1m0 39v1m0 15v4m1-101v4m0 58v4m0 8v2m0 32v2m1-125v2m0 124v2m1-130v2m0 128v1m1-131v2m0 129v2m1-133v2m0 130v2m1-134v2m0 130v2m1-132v2m0 39v2m0 10v2m0 43v2m0 9v3m0 16v3m1-127v2m0 15v12m0 27v2m0 29v2m9-49v9m0 47v3m0 4v3m1-116v8m0 21v5m0 30v1m0 34v2m0 21v2m1-126v2m0 13v3m0 3v4m0 49v4m0 48v1m1-128v2m0 123v1m1-126v1m1-1v1m0 180v1m1-182v2m1-1v2m1 4v2m0 26v14m0 16v1m0 38v2m0 12v1m1-105v1m0 12v1m0 43v2m0 9v3m0 104v1m1 0v1m0 85v1m1-163v1m0 75v1m0 84v1m0 2v1m1 0v1m1-6v1m0 5v1m1-7v1m4-239v10m0 7v10m0 217v1m1-283v3m0 10v2m0 16v2m0 38v1m0 16v3m0 7v1m0 183v1m1-286v2m1-2v1m0 203v1m1-206v2m1-2v2m0 204v1m1-206v1m1 0v2m0 40v7m0 154v1m0 70v1m0 3v1m1-274v10m0 19v2m0 35v2m0 18v1m1-69v6m0 49v8m1 195v1m3-1v1m1-5v1m0 3v1m2-199v1m2-47v2m0 15v5m0 21v1m1-85v3m0 19v6m0 5v4m0 42v2m0 1v1m0 126v1m1-211v2m0 208v1m0 65v2m1-278v1m1-1v1m0 208v1m0 65v1m1-276v1m0 280v1m1-281v2m0 279v1m1-280v2m0 37v2m0 14v3m1-53v24m0 1v5m2 244v1m1-1v1m1-2v1m4-213v1m1-24v3m0 5v3m0 217v1m1-276v7m0 32v3m0 21v3m0 2v1m1-71v2m0 13v5m0 254v1m1-275v1m0 273v1m1-275v1m1-1v1m0 273v1m1-274v1m0 65v1m0 207v1m1-273v2m0 45v9m0 217v1m1-270v2m0 32v4m0 19v2m1-53v10m0 258v1m2-68v1m1-1v1m1-1v1m1-1v1m0 56v2m1-59v1m1 60v1m1-6v1m1-224v3m0 11v1m0 208v1m1-271v2m0 7v2m0 15v3m0 241v1m0 7v1m1-280v1m0 278v1m1-281v2m0 61v1m0 216v1m1-281v2m1-1v1m0 274v1m1-276v2m0 275v2m1-276v2m0 44v5m1-44v2m0 16v2m0 29v1m1-42v4m0 194v1m1-1v1m1 51v1m0 1v1m3-4v1m0 6v1m1-8v1m1 7v1m1-1v1m1-245v3m0 241v1m1-276v2m0 11v3m0 9v2m1-28v2m0 271v1m1-274v1m1-1v1m1-1v2m0 211v1m1-213v2m0 210v1m1-211v3m0 27v2m0 15v4m0 212v1m1-253v3m0 9v3m0 236v1m0 2v1m1-4v1m2-56v1m2 54v1m2 1v1m0 4v1m1-1v1m1-237v3m0 5v4m0 222v2m1-242v2m0 19v1m1-50v3m1-4v2m1-2v1m1-1v1m0 204v1m0 55v2m1-263v1m1 0v1m0 33v4m0 4v4m0 213v1m0 4v1m1-263v2m0 24v2m0 18v1m0 154v1m1-156v1m0 153v1m0 63v1m1-219v1m3 217v1m1-4v1m0 2v1m1-2v1m3-235v3m0 10v1m1-36v5m1-11v2m0 253v1m1-258v2m1-2v1m0 253v1m1-255v1m1-1v2m0 193v1m1-195v2m0 28v3m0 10v1m0 209v1m1-252v3m0 4v4m0 241v1m2 5v1m1-3v1m0 1v1m5-220v1m0 208v2m1-216v5m0 212v1m1-240v12m1-19v2m0 240v1m1-247v2m0 182v1m0 61v1m1-248v2m0 182v1m0 62v1m0 7v1m1-256v1m0 39v1m0 214v1m1-255v1m1 0v1m0 32v1m0 214v1m1-248v2m0 7v4m0 238v1m1-2v1m5-217v1m0 206v1m1-66v1m2-2v1m0 64v1m0 6v1m1-235v10m0 8v3m0 206v1m1-234v1m0 166v1m0 73v1m1-246v2m0 243v1m1-247v1m1-2v2m1-1v2m0 241v1m0 1v1m1-245v2m1 0v3m0 5v11m0 9v1m3 204v1m1-2v1m0 2v1m1-207v1m0 133v1m2 67v1m1 7v1m1-80v1m1 78v1m1-234v2m0 14v4m0 208v1m1-232v2m0 25v1m1-29v2m0 233v2m1-237v2m1-1v2m1-1v2m1 1v6m1 8v3m1 204v1m1 4v1m1-203v1m0 118v1m1-2v1m0 85v1m3-203v1m0 201v1m2-4v1m1-220v7m1-10v2m0 13v2m1-17v2m1-2v2m1-2v3m0 212v1m1-214v2m0 20v1m0 1v1m0 190v1m1-213v2m0 120v1m0 86v1m1-205v1m0 116v1m1-114v2m2 198v1m1-189v1m1 189v1m0 4v1m2-3v2m5-210v6m0 194v2m1-202v3m0 12v3m1-18v3m1-2v3m0 100v1m0 94v1m0 5v1m1-204v3m0 194v1m1-196v2m1 1v2m0 91v1m0 99v1m1-191v3m0 188v1m0 3v1m1-3v1m0 1v1m8-134v2m0 3v1m1-47v4m0 3v2m0 35v1m1-53v3m0 46v13m1-65v4m0 59v5m1-69v4m0 60v3m1-67v4m0 57v3m1-63v5m0 52v3m1-56v11m0 15v5m0 18v3m1-14v8"/>
<path stroke="#62c3ca" d="m308 1045v19m1-24v29m1-32v12m0 17v8m1-40v8m0 27v8m1-44v9m0 29v7m1-42v28m0 8v7m1-14v12m10-48v3m0 32v2m1-43v3m0 45v10m0 9v5m1-78v5m0 72v4m1-84v4m0 78v3m1-86v3m0 82v3m1-89v3m0 83v3m1-90v4m0 83v4m1-90v3m0 18v11m0 49v6m1-84v3m0 8v2m0 37v2m0 17v2m1-13v5m1 191v2m1-2v2m1-2v2m1-9v1m1-1v1m3-232v2m0 13v3m0 41v8m1-92v6m0 13v2m0 40v2m0 14v1m0 20v3m1-107v4m0 104v2m1-110v3m0 107v2m1-113v3m0 110v2m1-116v3m0 112v2m0 157v1m1-275v2m0 113v3m1-118v3m0 110v4m0 150v2m1-267v3m0 27v2m0 15v3m0 38v2m0 175v2m1-253v11m0 43v3m0 11v1m0 182v2m1-9v1m0 7v1m1-9v2m1-2v2m5-224v8m0 50v3m1-69v2m0 19v2m0 35v2m0 20v4m0 156v2m1-279v16m0 66v8m0 36v2m0 149v2m1-280v2m0 128v1m0 147v2m1-282v2m0 131v2m0 138v2m0 6v1m1-282v2m0 133v2m0 135v3m1-275v2m0 134v2m0 135v2m1-275v2m0 134v2m0 128v1m0 6v2m1-273v2m0 43v3m0 5v2m0 47v3m0 3v3m0 22v3m0 127v3m1-261v1m0 29v4m0 21v2m0 33v2m0 22v15m0 129v3m1-256v7m0 247v1m1-8v1m1-1v1m3 16v1m1-1v2m1-2v2m1-232v2m0 9v2m0 43v2m0 10v2m0 153v1m0 6v2m1-283v3m0 8v1m0 18v2m0 36v2m0 28v4m0 25v2m0 144v3m1-277v2m0 18v3m0 251v3m1-278v2m0 126v1m0 147v1m1-277v2m0 266v2m1-270v2m0 266v2m1-270v2m0 184v1m0 82v1m1-270v3m0 185v1m1-184v4m0 42v4m0 10v2m0 41v2m0 80v1m1-177v2m0 14v2m0 39v2m0 14v4m1 26v1m0 159v1m0 1v1m2-4v1m2 6v1m1-13v2m0 3v1m0 6v1m1-13v2m0 4v1m0 5v1m1-1v1m1-248v2m0 10v7m0 10v3m0 196v2m1-269v3m0 15v2m0 12v2m0 41v2m0 12v2m0 112v1m0 63v2m0 15v1m1-287v2m1-2v2m1-2v1m1-2v2m0 277v1m1-279v2m0 275v1m0 2v1m1-280v2m0 204v1m1-203v3m0 31v2m0 30v3m1-51v3m0 6v2m0 45v2m0 8v3m0 184v1m1-1v1m5 7v1m1-2v2m1-240v7m0 156v1m1-211v6m0 34v2m0 22v12m0 134v1m1-212v2m0 28v5m0 48v1m1-85v2m0 275v1m1-278v2m0 275v1m1-278v2m0 210v1m0 69v1m1-283v2m0 77v1m1-79v2m0 75v1m0 197v1m1-273v1m0 41v3m0 9v2m0 225v1m1-278v2m0 30v2m0 27v7m0 201v1m0 7v1m1-8v1m0 6v1m3-211v1m0 206v1m0 1v1m4-11v1m1-229v2m0 11v2m0 9v1m0 202v1m1-276v3m0 7v2m0 16v14m0 27v2m0 204v1m1-276v1m0 215v1m1-218v2m0 281v1m1-284v2m1-2v2m0 282v1m1-284v2m0 281v1m1-283v3m0 279v1m1-278v2m0 38v2m0 15v2m0 213v1m1-267v2m0 10v3m1 254v2m1-215v1m4 202v1m0 3v1m1-212v1m0 150v1m0 55v1m1-57v1m1-215v7m0 30v10m0 17v1m1-67v2m0 11v2m0 11v2m1-29v2m1-2v1m1-1v1m0 280v1m1-282v2m0 279v1m1-282v2m1 0v3m0 51v7m1-54v3m0 20v3m0 183v1m1-202v3m0 4v3m0 33v1m1 209v1m1-53v1m1-160v1m1 209v1m0 5v1m1-59v1m1-159v1m0 217v1m1-9v1m1 0v1m1-268v9m0 19v2m0 238v1m1-272v2m0 16v9m0 250v1m1-278v1m0 276v1m1-279v2m0 55v1m0 218v2m1-278v2m1-1v1m1-1v2m1 0v2m0 32v2m0 8v5m0 163v1m0 51v1m1-256v4m0 15v1m2 23v1m0 158v1m0 51v1m1-54v1m0 52v1m1-1v1m1 8v1m3-6v1m1-235v2m0 12v3m0 221v1m1-268v11m0 11v3m1-30v2m1-3v2m0 206v1m1-209v2m1-2v2m0 260v1m1-263v2m0 205v1m0 54v1m0 3v1m1-266v2m0 38v4m1-42v2m0 28v2m0 226v1m1-240v4m0 235v1m1 8v1m1-1v1m1-1v1m3-2v1m2-230v7m1-15v2m0 168v1m1-194v3m0 190v1m0 56v2m1-258v3m1-4v2m0 197v1m0 56v1m1-257v2m0 260v1m1-263v2m0 196v1m0 56v1m0 7v1m1-263v1m0 253v1m0 8v1m1-263v1m0 33v2m0 7v1m0 218v1m1-262v2m0 11v13m0 235v1m1-7v1m0 5v1m3-2v1m5-228v3m0 153v1m1-179v3m0 235v1m1-246v3m0 181v1m1-188v2m1-3v2m1-2v2m1-1v2m0 35v1m0 218v1m1-256v2m0 253v1m1-254v1m0 13v16m0 219v1m1-248v5m0 245v1m2 7v2m1-2v2m1-20v2m0 17v1m1-8v1m1-2v2m1-14v1m0 5v1m0 6v1m2-244v3m0 10v8m0 217v1m1-244v2m0 233v1m1-240v2m0 170v1m0 67v1m1-242v2m0 240v1m0 5v1m1-250v2m0 247v1m1-249v2m0 261v1m1-262v1m0 244v1m0 15v1m1-261v2m0 250v2m1-2v2m1-2v2m1-20v1m1-204v1m0 134v1m0 79v1m1-14v1m0 12v1m1-216v1m0 201v1m1-203v1m1 131v1m0 69v1m2-223v9m0 141v1m1-156v2m0 20v4m0 209v1m1-239v2m0 232v1m0 3v1m0 13v2m1-255v2m0 252v1m1-255v2m1-1v2m0 243v2m1-245v1m0 242v2m1-243v2m0 24v1m1-13v2m0 10v1m0 196v1m1-200v2m0 201v1m1-82v1m0 75v1m1-1v1m1-1v1m1-1v1m1 0v1m1-197v1m1 202v1m1-1v1m1-226v3m0 7v2m0 212v1m1-227v2m0 17v5m1-25v3m1-2v2m0 23v1m1-26v2m0 214v1m1-215v2m0 23v1m0 188v1m1-213v3m0 123v1m1-122v3m0 203v1m1-201v1m0 199v1m0 7v1m1-203v6m0 188v1m4 7v1m1-1v1m4-212v2m1-5v4m0 6v4m0 96v3m1-113v4m0 104v5m0 90v1m1-203v3m0 105v3m0 91v1m0 4v1m1-207v3m0 104v2m1-107v2m0 101v2m0 101v1m1-205v2m0 98v1m0 96v1m0 6v1m1-202v2m0 199v1m1-199v2m0 89v1m0 106v1m1-192v1m0 186v1m1 1v2m6-9v1m1-120v1m0 118v3m1-174v5m0 45v1m0 120v3m1-180v3m0 62v6m0 106v4m1-185v4m0 68v4m0 105v4m1-187v5m0 67v4m0 108v2m1-186v5m0 64v4m1-71v4m0 60v3m1-65v6m0 52v3m1-58v25m0 12v4m0 8v5m11-25v9m1-12v16m1-13v10"/>
<path stroke="#7fc698" d="m188 1094v4m1-2v7m1-4v10m1-7v12m1-111v26m0 77v14m1-123v31m0 84v7m1-118v23m10 67v15m1-12v17m1-12v17m1-108v21m0 75v15m1-113v26m0 77v13m1-109v28m0 74v9m1-110v25m0 82v4m1-107v18m11-13v25m1-32v37m1-40v37m1-38v27m5 165v1m1-1v1m7 9v2m1-145v10m0 133v2m1-174v48m0 117v2m0 5v2m1-189v69m0 110v3m1-189v53m0 14v14m0 105v3m1-194v51m0 141v2m1-193v45m0 147v1m1-190v35m1-29v20m0 180v1m1-1v2m1-2v2m1-10v3m0 5v2m1-10v3m1-3v3m1-10v2m0 6v2m1-164v21m0 133v3m1-169v40m0 126v3m1-190v65m0 123v2m0 23v2m1-221v74m0 113v1m0 30v3m1-224v80m0 110v1m0 23v2m0 6v2m1-226v83m0 133v3m0 6v1m1-224v83m0 131v3m1-215v60m0 10v11m0 124v2m0 5v3m1-210v44m0 156v3m0 5v2m1-202v27m0 165v3m1-10v2m0 5v3m1-10v3m0 4v3m0 23v2m1-35v3m0 29v3m1-35v3m0 22v2m0 6v2m1-42v2m0 5v3m0 22v3m1-35v2m0 23v1m0 6v3m1-35v2m0 23v3m0 4v3m1-178v6m0 138v1m0 22v4m0 5v2m1-192v29m0 146v1m0 5v4m1-197v46m0 140v3m0 5v3m0 23v1m1-232v60m0 137v4m0 4v3m0 23v2m1-242v71m0 135v4m0 30v2m1-249v79m0 127v3m0 4v4m0 22v2m0 6v2m1-255v87m0 125v4m0 4v3m0 22v3m1-258v102m0 120v4m0 5v1m0 16v2m0 5v3m1-262v106m0 114v1m0 5v4m0 22v3m0 4v3m1-261v76m0 10v15m0 117v3m0 5v3m0 21v4m1-249v50m0 163v3m0 23v2m0 5v3m1-36v3m0 22v4m0 4v3m0 22v3m1-60v2m0 22v4m0 5v2m0 22v3m1-67v2m0 22v3m0 4v4m0 23v1m0 5v3m1-67v2m0 22v4m0 3v4m0 22v3m0 5v2m1-43v4m0 4v3m0 22v3m1-43v2m0 5v4m0 22v2m0 5v3m1-43v3m0 4v4m0 22v3m0 5v2m1-249v1m0 37v30m0 138v4m0 4v3m0 22v3m1-256v85m0 135v4m0 22v2m0 5v3m1-260v91m0 126v3m0 4v4m0 21v3m0 5v3m1-263v96m0 124v3m0 5v3m0 21v4m1-259v101m0 122v3m0 6v1m0 15v3m0 4v4m0 22v2m1-285v87m0 10v6m0 115v2m0 5v3m0 22v3m0 5v3m0 22v3m1-287v86m0 133v3m0 5v2m0 22v4m0 29v3m1-288v82m0 138v3m0 22v3m0 4v4m0 22v2m0 5v3m1-290v79m0 143v3m0 22v3m0 5v3m0 22v3m0 4v3m1-252v33m0 152v1m0 23v4m0 5v1m0 23v3m1-43v2m0 5v4m0 22v2m0 5v3m1-43v3m0 4v4m0 22v3m0 4v3m1-44v5m0 4v2m0 22v4m1-43v2m0 4v5m0 22v1m0 6v3m1-43v3m0 4v4m0 21v3m0 5v3m1-44v4m0 5v2m0 22v4m1-37v4m0 22v2m0 5v4m0 22v1m1-66v2m0 5v3m0 22v3m0 5v2m0 23v2m1-273v61m0 144v4m0 5v2m0 22v3m0 23v2m0 5v2m1-281v76m0 137v4m0 22v2m0 5v3m0 22v4m0 4v1m1-285v53m0 19v14m0 133v3m0 21v4m0 5v2m0 22v4m1-283v51m0 29v12m0 123v2m0 6v1m0 22v4m0 23v1m0 5v4m1-286v51m0 37v9m0 121v2m0 22v3m0 5v3m0 22v3m0 4v4m1-287v49m0 43v8m0 119v2m0 22v4m0 4v3m0 22v4m0 4v3m1-289v3m0 3v44m0 45v8m0 142v4m0 5v1m0 23v4m0 5v1m1-250v15m0 43v8m0 134v3m0 4v4m0 22v3m0 4v4m1-240v24m0 12v4m0 12v9m0 135v4m0 4v3m0 22v3m0 5v3m1-196v11m0 141v4m0 5v1m0 23v3m1-42v1m0 5v4m0 22v2m0 5v3m1-43v3m0 5v3m0 22v3m0 5v2m0 15v1m1-59v3m0 6v1m0 16v1m0 6v3m0 22v3m1-61v3m0 22v3m0 5v3m0 21v4m1-68v2m0 6v2m0 22v4m0 5v2m0 15v1m0 5v5m1-69v3m0 23v1m0 5v4m0 22v3m0 3v5m1-69v3m0 22v3m0 5v3m0 21v5m0 3v3m1-241v8m0 7v12m0 147v2m0 22v4m0 4v2m0 22v5m0 4v2m1-272v9m0 14v3m0 37v2m0 15v10m0 139v4m0 22v2m0 4v5m1-273v27m0 72v3m0 127v3m0 4v4m0 21v4m0 4v4m1-276v24m0 81v3m0 124v3m0 5v2m0 22v4m0 5v2m1-277v23m0 85v4m0 122v3m0 23v2m0 4v4m1-271v23m0 88v4m0 113v2m0 5v3m0 22v3m0 5v3m1-276v27m0 89v5m0 112v3m0 5v2m0 22v4m0 5v2m1-281v31m0 91v5m0 111v3m0 22v2m0 5v4m0 22v1m1-297v18m0 10v4m0 87v8m0 104v1m0 6v3m0 22v3m0 5v3m0 21v3m1-294v3m0 25v3m0 13v2m0 33v2m0 21v2m0 123v2m0 6v1m0 23v3m0 6v1m0 15v3m0 4v3m1-258v1m0 50v2m0 5v2m0 130v3m0 23v2m0 5v3m0 22v4m0 4v1m1-66v2m0 23v3m0 4v3m0 22v1m0 2v1m1-68v2m0 29v4m0 6v1m0 15v3m0 3v2m0 2v1m1-68v2m0 23v1m0 6v3m0 22v3m0 4v1m0 2v1m1-68v2m0 22v3m0 5v3m0 21v2m0 1v2m0 3v4m1-44v4m0 22v2m0 4v2m0 1v2m0 4v3m1-44v4m0 21v4m0 3v5m1-271v5m0 222v3m0 5v2m0 22v4m0 4v4m1-275v11m0 29v1m0 18v12m0 27v2m0 8v4m0 119v3m0 23v1m0 5v5m0 4v2m1-277v19m0 6v6m0 4v3m0 44v2m0 10v2m0 24v3m0 112v2m0 22v3m0 4v4m1-273v16m0 110v2m0 102v2m0 6v1m0 23v4m0 4v3m0 15v1m1-290v12m0 1v4m0 112v2m0 100v2m0 24v1m0 5v4m0 5v2m0 14v3m1-293v8m0 6v4m0 115v2m0 98v2m0 23v3m0 4v4m0 21v4m1-295v4m0 11v3m0 117v3m0 89v2m0 30v3m0 5v3m0 14v3m0 4v1m0 1v2m1-280v3m0 118v4m0 87v2m0 30v4m0 21v4m0 3v4m1-280v3m0 117v6m0 86v2m0 23v2m0 5v3m0 22v1m0 2v1m0 3v4m1-279v4m0 32v1m0 12v2m0 43v2m0 7v23m0 85v2m0 23v3m0 5v2m0 15v2m0 4v2m0 2v1m0 4v3m1-273v12m0 11v2m0 38v3m0 15v2m0 36v4m0 107v3m0 22v3m0 3v2m0 2v1m1-36v3m0 21v2m0 1v2m0 3v2m0 1v1m1-43v2m0 6v1m0 16v2m0 4v2m0 2v1m0 4v3m1-43v2m0 22v4m0 3v2m0 2v1m1-35v1m0 22v4m0 4v4m1-43v1m0 24v1m0 5v5m0 4v2m1-42v1m0 23v3m0 4v5m0 21v1m1-34v4m0 4v3m0 15v1m0 6v2m1-243v2m0 8v2m0 45v3m0 3v4m0 109v2m0 30v4m0 5v2m0 14v4m0 4v2m1-289v7m0 31v2m0 23v3m0 31v1m0 26v4m0 94v2m0 23v3m0 4v4m0 21v1m0 2v1m0 4v1m1-289v4m0 128v2m0 114v3m0 4v4m0 14v2m0 5v1m0 2v2m1-286v4m0 131v2m0 80v2m0 30v3m0 6v1m0 15v3m0 4v1m0 2v2m1-287v3m0 135v2m0 78v2m0 30v3m0 21v2m0 2v1m0 3v2m0 1v1m1-289v6m0 137v2m0 76v2m0 23v2m0 6v2m0 15v2m0 4v1m0 3v1m0 4v3m1-292v9m0 138v2m0 100v3m0 21v4m0 3v2m0 2v1m0 5v1m1-291v9m0 138v3m0 99v2m0 22v2m0 1v2m0 3v1m0 2v1m1-282v8m0 48v5m0 52v3m0 28v3m0 117v1m0 5v1m0 3v1m0 3v4m1-271v2m0 34v2m0 18v1m0 37v1m0 18v3m0 15v5m0 116v3m0 4v1m0 3v1m0 5v1m1-265v2m0 7v3m0 65v5m0 165v4m0 3v2m0 1v2m1-12v2m0 1v1m0 4v3m0 15v2m1-59v1m0 23v3m0 4v2m0 1v1m0 6v1m0 14v4m1-36v4m0 3v4m0 15v1m0 5v4m1-68v2m0 30v4m0 4v3m0 14v3m0 4v4m1-68v2m0 24v1m0 5v4m0 21v1m0 1v2m0 3v4m1-68v2m0 23v3m0 4v4m0 14v2m0 4v2m0 2v1m0 4v3m1-43v3m0 5v2m0 15v3m0 3v2m0 2v1m1-285v9m0 40v3m0 13v1m0 41v1m0 14v2m0 125v3m0 21v2m0 1v2m0 3v1m0 2v1m1-287v3m0 12v2m0 14v2m0 40v2m0 11v15m0 31v1m0 118v3m0 15v1m0 5v1m0 3v1m0 3v4m1-288v3m0 129v1m0 112v2m0 22v4m0 3v1m0 3v1m0 4v3m1-289v3m0 243v2m0 22v4m0 3v2m0 1v2m1-282v3m0 175v4m0 88v1m0 2v2m0 3v3m1-283v5m0 184v1m0 51v1m0 23v3m0 4v1m0 2v2m1-279v7m0 187v1m0 48v1m0 23v4m0 3v2m0 1v1m0 22v1m1-299v5m0 189v1m0 70v4m0 4v3m0 15v2m0 5v1m1-297v8m0 50v10m0 45v2m0 7v1m0 108v2m0 23v2m0 5v4m0 5v2m0 15v3m1-277v2m0 18v2m0 36v1m0 20v12m0 15v1m0 73v1m0 35v2m0 23v3m0 4v4m0 13v2m0 7v3m1-269v6m0 52v2m0 113v1m0 59v4m0 4v3m0 12v1m0 9v3m1-96v1m0 27v2m0 30v4m0 5v1m0 13v1m0 4v1m0 4v3m1-68v2m0 23v2m0 5v3m0 19v1m0 6v1m0 3v3m1-43v3m0 5v2m0 15v3m0 1v1m0 7v1m0 3v1m1-42v3m0 21v6m1-37v1m0 6v2m0 22v1m0 2v1m1-35v2m0 22v3m0 4v1m0 2v1m1-35v2m0 22v4m0 3v3m0 5v1m1-285v16m0 24v2m0 32v1m0 25v5m0 133v1m0 6v1m0 23v1m0 2v1m0 4v2m0 10v1m1-291v4m0 20v3m0 7v2m0 45v2m0 8v2m0 13v1m0 131v2m0 23v2m0 5v1m0 2v1m0 16v1m0 5v2m1-299v3m0 206v1m0 29v3m0 22v3m0 4v4m0 15v2m0 4v4m1-301v4m0 229v1m0 7v1m0 23v4m0 3v4m0 16v1m0 4v4m1-301v4m0 207v1m0 21v2m0 29v5m0 5v1m0 22v4m1-300v2m0 230v2m0 23v3m0 4v4m0 12v1m0 11v1m0 4v2m1-299v3m0 208v1m0 20v2m0 23v3m0 4v3m0 24v2m1-293v4m0 252v4m0 6v1m0 12v1m0 11v2m1-289v4m0 36v2m0 12v16m0 24v1m0 151v2m0 5v3m0 19v1m0 11v2m1-270v3m0 11v2m0 41v2m0 13v1m0 153v3m0 6v2m0 15v2m0 1v1m0 8v1m1-39v4m0 21v5m1-37v2m0 6v2m0 22v4m0 1v1m0 8v1m1-47v3m0 6v1m0 16v1m0 5v3m0 11v1m1-47v3m0 22v3m0 4v3m0 11v1m1-54v2m0 5v3m0 22v4m0 4v2m0 11v1m1-198v2m0 117v1m0 24v3m0 5v2m0 22v4m0 13v1m0 8v2m1-84v1m0 23v3m0 22v3m0 4v4m0 21v4m1-250v2m0 7v3m0 29v1m0 147v3m0 22v3m0 4v4m0 16v1m0 4v4m1-298v3m0 6v4m0 29v1m0 36v3m0 148v2m0 6v1m0 23v4m0 4v2m0 22v4m1-299v3m0 228v2m0 23v2m0 5v4m0 12v2m0 15v3m1-299v2m0 229v2m0 22v4m0 4v3m0 25v1m0 5v1m1-299v3m0 213v1m0 39v4m0 5v2m0 17v1m0 7v1m1-293v3m0 246v3m0 4v4m0 19v1m0 12v1m1-293v3m0 246v4m0 4v3m0 19v1m1-279v3m0 245v4m0 5v1m0 16v2m0 1v1m1-275v3m0 45v9m0 19v1m0 161v2m0 5v4m0 21v4m0 1v1m1-270v1m0 34v2m0 20v5m0 170v3m0 5v3m0 21v3m1-35v4m0 5v1m0 15v3m0 4v3m0 24v1m1-67v2m0 5v4m0 21v4m0 4v2m0 11v1m0 11v2m1-67v3m0 4v3m0 22v4m0 17v1m0 4v1m0 6v2m1-86v2m0 16v4m0 5v2m0 15v2m0 5v4m0 17v1m0 4v2m0 6v1m1-84v1m0 16v3m0 22v3m0 4v4m0 15v3m0 3v4m1-78v1m0 16v3m0 22v4m0 4v3m0 21v4m1-78v1m0 17v2m0 15v2m0 5v4m0 29v3m1-78v1m0 33v4m0 4v4m0 12v1m0 1v1m0 15v2m1-296v9m0 38v2m0 15v2m0 152v1m0 33v4m0 5v2m1-264v2m0 12v2m0 9v5m0 189v1m0 27v2m0 4v4m1-258v3m0 244v4m0 4v3m0 19v1m0 6v1m1-285v2m0 245v4m0 4v3m0 19v1m1-278v2m0 238v2m0 5v4m0 22v2m0 2v1m0 8v1m1-287v2m0 70v1m0 167v3m0 4v4m0 22v2m1-275v3m0 237v4m0 4v3m0 21v3m0 24v1m1-299v3m0 236v4m0 5v1m0 16v2m0 5v2m0 23v3m1-294v2m0 42v2m0 11v2m0 167v3m0 4v4m0 21v4m0 17v1m0 11v3m1-288v2m0 15v5m0 198v3m0 4v4m0 21v4m0 17v1m0 4v2m0 5v3m1-68v4m0 5v1m0 15v3m0 4v4m0 17v1m0 4v3m0 5v2m1-68v4m0 21v4m0 4v3m0 16v2m0 4v3m1-60v2m0 22v4m0 5v1m0 23v3m1-59v1m0 15v3m0 4v4m0 13v1m0 15v3m1-226v1m0 182v4m0 3v4m0 12v1m0 2v1m1-28v5m0 4v2m1-17v3m0 3v5m0 18v1m1-219v9m0 2v1m0 176v4m0 4v4m0 18v1m1-274v4m0 7v2m0 21v7m0 25v2m0 175v5m0 4v2m0 19v1m0 8v1m1-284v3m0 15v3m0 5v3m0 38v1m0 170v2m0 4v5m0 21v2m0 2v1m0 28v2m1-305v2m0 235v4m0 4v4m0 21v2m0 3v1m0 8v1m0 18v2m1-305v2m0 235v4m0 4v3m0 15v2m0 5v2m0 12v1m0 11v2m0 6v1m1-306v3m0 64v1m0 170v4m0 6v1m0 15v3m0 5v1m0 24v3m1-299v2m0 235v4m0 22v3m0 30v3m1-299v2m0 63v1m0 165v3m0 4v3m0 15v2m0 5v4m0 13v1m0 2v1m0 5v2m0 5v3m1-298v3m0 227v3m0 5v2m0 14v4m0 4v4m0 15v2m0 5v2m0 6v2m1-291v3m0 26v14m0 170v1m0 9v3m0 21v4m0 4v3m0 17v1m0 4v4m1-275v2m0 10v2m0 190v1m0 10v1m0 16v1m0 5v5m0 29v3m1-44v4m0 3v5m0 13v1m0 15v3m1-44v4m0 4v3m0 12v1m1-52v1m0 21v1m0 5v5m0 4v2m0 12v1m0 4v1m1-57v1m0 20v3m0 4v5m0 17v1m1-30v4m0 3v4m0 18v1m1-211v1m0 180v4m0 4v3m0 15v1m0 2v1m0 29v2m1-68v3m0 4v4m0 22v2m0 11v1m0 18v4m1-264v11m0 5v4m0 175v4m0 3v4m0 22v2m0 11v1m0 18v4m1-302v4m0 9v2m0 16v1m0 26v1m0 174v4m0 4v3m0 15v2m0 5v1m0 12v1m0 12v2m0 5v3m1-303v2m0 232v4m0 21v4m0 17v1m0 11v3m0 6v1m1-303v3m0 232v4m0 21v4m0 29v4m1-297v2m0 234v3m0 14v3m0 4v4m0 16v1m0 5v2m0 5v4m1-297v2m0 235v1m0 15v4m0 3v4m0 16v1m0 5v3m0 5v2m1-296v3m0 250v4m0 4v3m0 22v3m1-288v2m0 243v2m0 5v4m0 12v1m0 16v3m1-287v3m0 36v8m0 197v3m0 4v4m0 14v1m0 15v2m1-282v7m0 20v2m0 21v1m0 159v1m0 28v4m0 3v4m0 11v1m0 12v1m1-259v6m0 28v1m0 159v1m0 21v1m0 5v5m0 5v2m0 11v1m0 12v1m0 23v1m1-67v3m0 4v4m0 25v1m0 5v1m0 22v3m1-91v1m0 21v5m0 3v4m0 17v1m0 8v1m0 21v1m0 5v3m1-69v5m0 4v2m0 16v1m0 1v1m0 9v1m0 19v3m0 5v1m1-68v5m0 21v2m0 2v1m0 28v3m1-68v3m0 4v4m0 21v2m0 11v1m0 19v4m1-69v3m0 5v2m0 15v3m0 4v2m0 11v1m0 12v3m0 4v3m1-68v3m0 22v3m0 17v1m0 12v3m0 5v2m1-264v2m0 17v1m0 176v3m0 22v4m0 29v3m1-291v7m0 11v11m0 202v2m0 15v2m0 5v4m0 14v2m0 6v2m0 5v3m1-292v3m0 206v2m0 38v3m0 4v4m0 15v1m0 5v4m0 5v2m1-292v2m0 246v5m0 4v3m0 21v4m1-285v2m0 208v1m0 31v2m0 4v5m0 5v1m0 5v2m0 16v3m1-285v2m0 239v4m0 4v4m0 23v2m0 4v3m1-285v2m0 239v4m0 4v3m0 11v1m0 12v2m0 22v2m1-301v2m0 206v1m0 31v5m0 5v1m0 11v1m0 12v2m0 22v3m1-301v3m0 32v2m0 13v1m0 181v3m0 4v4m0 31v2m0 22v3m1-297v18m0 4v4m0 176v1m0 25v4m0 4v3m0 17v1m0 30v2m0 5v3m1-69v4m0 5v2m0 15v1m0 2v1m0 29v3m0 4v3m1-69v4m0 22v1m0 3v1m0 27v4m0 5v1m1-67v3m0 21v2m0 4v1m0 20v1m0 5v4m1-60v1m0 16v2m0 5v1m0 11v1m0 12v3m0 5v3m1-44v4m0 16v1m0 12v4m0 5v2m1-44v4m0 13v1m0 2v1m0 5v2m0 5v4m1-43v2m0 4v5m0 14v1m0 6v3m0 4v4m1-250v3m0 7v1m0 195v4m0 4v3m0 22v4m0 4v3m1-258v3m0 16v1m0 194v4m0 4v3m0 22v4m1-279v8m0 228v1m0 5v4m0 11v1m0 11v2m0 4v4m0 22v1m1-303v3m0 199v1m0 33v3m0 4v4m0 11v1m0 11v3m0 4v2m0 23v2m1-304v2m0 234v4m0 4v3m0 16v1m0 6v3m0 21v3m0 5v1m1-303v2m0 199v1m0 34v4m0 17v1m0 11v4m0 21v4m1-298v2m0 228v1m0 5v4m0 16v1m0 13v2m0 22v4m1-297v2m0 197v1m0 28v3m0 5v2m0 17v1m0 14v1m0 15v3m0 4v4m1-297v3m0 36v7m0 182v3m0 22v2m0 31v3m0 5v3m1-295v2m0 26v3m0 196v2m0 22v1m0 32v4m1-285v7m0 217v2m0 22v1m0 25v2m0 5v4m1-44v3m0 11v1m0 4v1m0 12v4m0 4v3m1-43v4m0 15v1m0 6v1m0 5v4m0 6v1m1-43v4m0 13v1m0 1v1m0 5v3m0 4v4m1-43v2m0 5v4m0 15v1m0 5v4m0 4v3m1-43v3m0 4v4m0 21v4m0 5v2m0 15v2m1-252v1m0 146v1m0 44v3m0 5v2m0 5v1m0 10v2m0 4v4m0 22v3m1-106v1m0 44v3m0 11v1m0 2v1m0 8v3m0 3v4m0 22v3m1-267v4m0 195v2m0 5v3m0 11v1m0 11v3m0 4v3m0 15v2m0 5v3m1-287v2m0 178v1m0 37v4m0 5v1m0 23v4m0 21v4m0 4v3m1-298v6m0 224v3m0 17v1m0 7v1m0 4v3m0 21v4m0 5v1m1-298v4m0 187v1m0 39v2m0 17v2m0 8v1m0 3v3m0 14v2m0 5v4m1-292v3m0 187v1m0 60v1m0 13v1m0 15v3m0 5v3m1-291v2m0 245v2m0 2v1m0 8v1m0 19v4m0 5v2m1-290v2m0 244v1m0 25v2m0 5v4m1-282v2m0 237v1m0 5v1m0 25v3m0 4v4m1-280v2m0 30v3m0 201v3m0 16v1m0 12v5m0 4v2m1-277v2m0 5v2m0 225v4m0 12v1m0 2v1m0 5v3m0 4v5m1-37v4m0 14v2m0 5v4m0 3v5m1-44v2m0 5v4m0 15v1m0 5v1m0 2v2m0 3v3m0 23v1m1-67v3m0 5v2m0 16v2m0 4v1m0 2v2m0 4v2m0 15v3m1-111v2m0 48v3m0 23v3m0 3v2m0 1v1m0 22v3m1-110v1m0 48v3m0 11v1m0 11v1m0 1v1m0 3v4m0 22v3m1-60v2m0 11v1m0 4v1m0 8v1m0 5v2m0 15v2m0 5v3m1-111v1m0 43v1m0 18v1m0 11v2m0 1v1m0 21v4m0 5v2m1-294v1m0 39v1m0 186v1m0 18v1m0 12v3m0 15v1m0 5v4m1-271v1m0 165v1m0 63v1m0 12v3m0 14v3m0 4v4m1-279v4m0 232v1m0 11v1m0 19v4m0 4v3m1-284v5m0 173v1m0 61v2m0 11v1m0 12v2m0 5v4m1-277v4m0 34v1m0 201v1m0 25v3m0 4v4m1-276v2m0 231v1m0 30v5m0 3v4m1-275v2m0 229v3m0 16v1m0 6v2m0 4v2m0 1v2m0 4v2m0 16v1m1-289v2m0 227v4m0 13v1m0 1v1m0 5v4m0 3v2m0 1v2m0 21v3m1-288v1m0 226v4m0 15v1m0 5v1m0 2v1m0 4v4m0 21v3m1-286v7m0 15v8m0 188v2m0 6v2m0 16v1m0 5v1m0 2v2m0 4v2m0 15v2m0 5v3m1-68v3m0 6v1m0 5v1m0 10v2m0 4v1m0 2v2m0 21v3m0 5v2m1-122v1m0 53v3m0 14v1m0 8v3m0 3v4m0 22v3m1-60v2m0 11v1m0 11v1m0 1v1m0 4v3m0 15v2m0 5v3m1-35v1m0 1v1m0 21v4m0 4v3m1-115v1m0 66v1m0 7v1m0 4v3m0 21v4m1-109v1m0 67v1m0 8v1m0 3v3m0 14v3m0 4v4m1-278v1m0 35v1m0 198v1m0 1v1m0 9v1m0 3v1m0 15v4m0 4v3m1-279v3m0 34v1m0 197v2m0 2v1m0 8v1m0 12v1m0 5v5m0 5v1m1-279v1m0 15v2m0 9v3m0 8v1m0 197v2m0 11v1m0 11v4m0 3v5m1-263v3m0 26v1m0 196v1m0 24v4m0 4v4m1-268v5m0 219v3m0 23v1m0 5v1m0 2v2m0 4v2m1-266v3m0 220v3m0 16v1m0 5v3m0 4v2m0 1v2m0 21v3m1-284v3m0 220v3m0 15v2m0 5v4m0 3v4m0 22v3m1-282v2m0 30v1m0 188v3m0 16v1m0 5v1m0 2v1m0 4v3m0 22v3m1-281v3m0 28v1m0 182v1m0 6v2m0 17v1m0 3v2m0 2v1m0 22v2m0 6v2m1-279v3m0 209v1m0 13v2m0 9v3m0 3v4m0 22v3m1-259v4m0 195v1m0 24v3m0 4v3m0 15v1m0 6v3m1-249v4m0 120v3m0 75v1m0 11v3m0 5v1m0 15v3m0 5v3m1-35v3m0 21v4m0 5v1m1-47v1m0 12v2m0 15v2m0 5v4m1-236v1m0 118v1m0 75v1m0 13v1m0 14v4m0 4v4m1-118v1m0 73v2m0 11v1m0 18v5m0 4v2m1-118v1m0 74v2m0 11v1m0 11v3m0 4v5m0 22v2m1-137v1m0 75v2m0 4v1m0 6v1m0 11v4m0 3v5m0 21v3m1-286v3m0 143v3m0 69v2m0 5v1m0 24v4m0 4v3m0 22v3m1-287v5m0 11v2m0 201v3m0 22v2m0 5v4m0 22v2m0 6v2m1-289v15m0 12v2m0 192v3m0 14v1m0 1v1m0 5v4m0 3v4m0 22v3m1-280v11m0 208v3m0 16v1m0 4v5m0 4v3m0 22v3m1-274v4m0 209v3m0 21v5m0 5v1m0 16v2m0 5v3m1-273v4m0 216v1m0 11v1m0 4v4m0 21v4m0 5v1m1-271v3m0 218v1m0 9v1m0 4v4m0 15v1m0 5v4m1-263v3m0 225v2m0 6v1m0 15v3m0 5v3m1-260v2m0 127v1m0 83v1m0 11v2m0 22v3m0 5v2m1-255v3m0 121v1m0 91v1m0 4v2m0 15v2m0 5v4m1-242v2m0 114v1m0 84v1m0 28v4m0 4v4m0 22v1m1-259v2m0 107v1m0 82v2m0 1v1m0 9v1m0 18v4m0 5v2m0 23v2m1-252v1m0 99v1m0 82v3m0 11v1m0 12v1m0 5v4m0 23v1m0 6v1m1-152v1m0 83v3m0 11v1m0 11v3m0 4v4m0 22v3m1-243v1m0 95v1m0 84v3m0 11v1m0 11v4m0 4v3m0 22v3m1-151v2m0 81v2m0 5v1m0 7v1m0 16v4m0 5v1m0 16v2m0 5v3m1-68v3m0 22v3m0 4v4m0 22v3m0 5v2m1-68v3m0 15v2m0 4v4m0 4v4m0 22v3m1-60v2m0 16v1m0 4v5m0 5v1m0 16v2m0 5v3m1-260v6m0 111v1m0 105v4m0 22v3m0 5v3m1-278v25m0 2v4m0 102v6m0 86v2m0 10v1m0 4v3m0 22v4m1-269v20m0 14v6m0 93v4m0 86v1m0 11v1m0 5v2m0 15v2m0 5v4m1-265v16m0 113v3m0 91v1m0 6v2m0 22v3m0 5v2m1-253v6m0 111v4m0 86v1m0 11v2m0 22v3m0 23v2m1-268v4m0 109v3m0 88v1m0 28v2m0 5v3m0 22v3m1-266v4m0 105v3m0 86v2m0 2v1m0 27v4m0 4v3m0 22v4m1-264v3m0 101v1m0 90v3m0 1v1m0 8v1m0 18v4m0 22v2m0 5v4m1-261v3m0 96v1m0 91v4m0 2v1m0 7v1m0 12v1m0 5v4m0 22v3m0 5v2m1-256v2m0 185v4m0 22v3m0 5v3m0 22v3m0 6v1m1-252v5m0 1v5m0 173v2m0 10v1m0 12v4m0 5v1m0 16v1m0 6v3m1-60v1m0 7v1m0 2v1m0 5v2m0 5v4m0 22v3m0 4v3m1-51v3m0 5v3m0 4v3m0 22v4m0 6v1m1-49v1m0 4v4m0 6v1m0 16v1m0 6v3m1-37v4m0 22v3m0 5v3m1-42v2m0 4v3m0 22v4m0 5v1m1-263v12m0 200v2m0 8v2m0 5v2m0 22v4m0 22v2m1-284v20m0 195v1m0 1v1m0 6v3m0 22v3m0 5v2m0 22v3m1-284v23m0 27v3m0 45v1m0 17v22m0 77v1m0 8v3m0 22v3m0 6v1m0 16v1m0 6v2m1-275v17m0 16v3m0 51v40m0 79v1m0 3v1m0 4v3m0 22v3m0 22v3m0 5v2m1-273v28m0 71v20m0 84v2m0 4v1m0 21v2m0 5v3m0 22v4m1-264v21m0 76v7m0 91v2m0 4v1m0 4v1m0 21v2m0 30v4m1-260v15m0 76v4m0 96v3m0 3v2m0 2v1m0 22v3m0 22v3m0 4v4m1-256v11m0 73v3m0 100v3m0 4v4m0 14v2m0 6v2m0 23v3m0 5v2m1-250v8m0 67v3m0 104v3m0 6v1m0 15v3m0 30v4m1-241v7m0 61v3m0 109v2m0 22v3m0 23v2m0 5v3m1-237v7m0 25v12m0 17v3m0 130v2m0 5v3m0 23v3m0 5v2m1-233v8m0 39v7m0 135v4m0 5v2m0 23v3m1-43v1m0 5v4m0 23v1m0 6v3m1-44v3m0 5v3m0 23v2m0 5v3m1-155v8m0 103v4m0 4v3m0 22v4m0 22v2m1-175v21m0 93v4m0 30v3m0 21v4m1-179v31m0 79v3m0 4v4m0 23v1m0 6v2m0 22v4m1-181v36m0 76v4m0 3v4m0 22v3m0 23v2m0 5v3m1-267v14m0 69v40m0 75v4m0 4v3m0 23v2m0 22v4m0 4v3m1-270v25m0 58v44m0 74v4m0 22v2m0 30v4m0 5v1m1-270v33m0 9v85m0 75v4m0 22v2m0 24v2m0 4v4m1-270v65m0 9v57m0 78v3m0 22v2m0 23v3m0 5v3m1-269v61m0 16v20m0 21v4m0 87v1m0 15v3m0 6v1m0 23v4m0 5v2m1-266v61m0 10v15m0 136v4m0 29v4m1-254v27m0 2v46m0 135v2m0 5v4m0 22v3m0 4v4m1-247v18m0 13v32m0 140v3m0 5v2m0 23v3m0 5v2m1-212v24m0 145v4m0 5v1m0 23v3m0 23v1m1-224v12m0 145v2m0 5v4m0 22v2m0 5v3m0 22v3m1-69v4m0 4v4m0 22v3m0 5v2m0 16v1m0 5v3m1-69v5m0 4v2m0 23v3m0 22v3m0 5v1m1-68v5m0 29v3m0 22v4m1-184v24m0 91v2m0 4v5m0 22v2m0 30v4m1-191v40m0 82v3m0 4v3m0 23v2m0 23v3m0 4v4m1-197v50m0 78v3m0 5v2m0 23v2m0 23v3m0 5v2m1-200v57m0 75v3m0 22v3m0 30v4m1-263v15m0 49v63m0 74v3m0 22v3m0 23v2m0 5v4m1-266v24m0 39v62m0 5v1m0 74v2m0 15v2m0 5v3m0 23v3m0 4v3m1-267v30m0 31v65m0 98v3m0 5v2m0 22v4m0 6v1m1-269v37m0 21v68m0 100v3m0 23v1m0 6v3m1-261v43m0 7v70m0 98v2m0 5v3m0 23v2m0 5v3m1-260v90m0 126v4m0 4v3m0 22v4m0 5v1m0 16v2m1-274v80m0 133v4m0 5v2m0 23v3m0 22v3m1-270v69m0 133v1m0 5v4m0 23v1m0 6v3m0 22v3m1-262v51m0 142v3m0 4v4m0 23v2m0 23v2m0 5v3m1-252v19m0 164v4m0 4v3m0 23v2m0 23v3m0 4v3m1-69v4m0 23v1m0 6v2m0 22v4m1-62v4m0 22v3m0 23v1m0 5v4m1-173v9m0 103v3m0 22v3m0 22v3m0 5v3m1-183v28m0 88v1m0 6v1m0 16v2m0 5v3m0 22v4m0 5v2m1-189v37m0 85v1m0 22v4m0 5v1m0 23v4m1-186v44m0 105v4m0 23v2m0 4v4m1-190v49m0 97v3m0 5v3m0 22v3m0 5v3m1-256v9m0 55v52m0 96v4m0 4v3m0 22v4m1-256v25m0 43v47m0 104v4m0 29v4m1-258v33m0 34v46m0 101v2m0 5v4m0 22v3m0 5v2m1-258v41m0 23v39m0 112v3m0 4v4m0 22v3m0 23v1m1-263v36m0 11v34m0 122v4m0 4v2m0 23v3m0 23v2m1-263v72m0 130v4m0 22v2m0 6v2m0 22v4m1-262v64m0 129v3m0 4v4m0 22v3m0 23v1m0 6v3m1-259v55m0 135v4m0 4v3m0 15v1m0 6v3m0 22v3m0 5v2m1-253v44m0 141v4m0 21v3m0 5v3m0 22v4m1-242v33m0 147v4m0 21v4m0 29v4m1-235v20m0 154v2m0 16v1m0 5v4m0 22v3m0 5v2m1-43v3m0 4v4m0 22v3m0 6v1m1-43v4m0 4v3m0 22v3m1-36v4m0 22v2m0 5v3m1-169v10m0 116v3m0 4v4m0 22v3m0 5v2m1-175v21m0 111v3m0 4v4m0 22v3m1-173v28m0 108v5m0 5v1m0 16v1m0 6v3m1-176v35m0 98v2m0 5v4m0 22v2m0 6v2m0 23v1m1-204v49m0 88v3m0 4v4m0 21v4m1-178v60m0 81v4m0 5v2m0 15v2m0 6v3m0 22v3m1-256v58m0 8v46m0 82v4m0 22v3m0 5v2m0 23v3m1-258v55m0 37v19m0 86v3m0 22v4m0 30v2m1-268v60m0 148v2m0 15v2m0 5v4m0 22v2m1-259v58m0 166v3m0 4v4m0 22v3m1-258v55m0 166v5m0 4v2m0 23v3m1-255v50m0 162v2m0 4v5m0 22v2m0 6v2m1-251v43m0 165v3m0 4v4m0 22v2m1-233v30m0 167v4m0 5v2m0 23v3m1-220v8m0 175v5m0 22v2m0 5v2m1-42v2m0 5v3m0 22v3m1-152v14m0 102v4m0 4v3m0 22v3m1-156v23m0 97v4m0 22v3m0 5v2m1-158v29m0 94v3m0 22v3m0 6v1m0 24v1m1-184v32m0 92v3m0 22v3m1-132v15m0 107v2m0 5v3m0 23v2m1-250v5m0 96v8m0 105v4m0 5v2m0 23v2m1-256v31m0 84v1m0 104v4m0 31v1m1-258v45m0 171v2m0 4v4m0 23v1m1-252v51m0 166v4m0 4v3m0 23v2m1-253v51m0 166v4m0 5v2m0 23v2m1-251v44m0 171v4m0 22v2m1-239v28m0 177v1m0 6v3m0 22v3m1-233v17m0 181v2m0 6v1m0 23v3m1-35v2m0 23v2m0 6v1m1-9v3m1-3v3m1-10v2m0 5v2m1-10v3m1-3v3m1-2v2m1-9v1m1-1v2"/>
<path stroke="#b6d54f" d="m185 966v74m0 80v20m1-174v36m1-33v17m6 95v7m1-15v24m1-29v35m1-37v27m0 5v10m1-33v20m0 10v8m1-112v52m0 35v11m0 11v9m1-127v60m0 43v8m0 12v11m1-140v17m0 26v20m0 51v7m0 13v15m1-155v24m0 23v18m0 60v7m0 11v17m1-164v63m0 71v31m1-166v28m0 112v25m1-17v11m7-62v18m1-28v35m1-45v50m1-64v69m1-101v63m0 15v29m1-114v18m0 30v14m0 31v26m1-124v19m0 31v12m0 41v29m1-134v24m0 23v11m0 52v35m1-144v49m0 65v34m1-30v30m1-24v21m7-68v15m1-25v33m1-42v47m1-59v64m1-98v102m1-109v69m0 18v27m0 97v1m1-216v64m0 35v25m0 90v3m1-220v59m0 48v26m0 84v3m1-220v47m0 65v29m0 77v2m1-103v28m1-23v22m1-14v9m3 90v1m1-2v3m1-2v2m1-154v13m0 131v2m1-158v34m0 122v3m1-170v9m0 31v10m0 117v3m1-201v27m0 50v9m0 105v2m0 6v1m1-211v18m0 74v9m0 101v2m1-210v17m0 52v25m0 7v10m0 97v2m1-215v22m0 44v8m0 19v28m0 93v1m0 23v2m1-244v32m0 29v7m0 36v26m0 112v3m1-248v61m0 52v26m0 99v2m0 5v3m1-130v27m0 92v4m1-118v25m0 89v4m1-111v16m0 85v2m0 5v3m1-11v3m0 6v1m1-10v4m1-10v1m0 6v3m0 22v2m1-35v3m0 6v1m0 23v2m1-35v3m0 23v1m0 6v3m1-35v2m0 22v3m0 6v1m1-183v24m0 149v4m1-189v11m0 21v10m0 136v2m0 5v4m1-230v40m0 39v9m0 131v3m0 5v3m1-240v33m0 61v9m0 126v4m0 5v1m1-245v22m0 63v3m0 14v10m0 116v2m0 5v4m1-244v32m0 42v47m0 112v3m0 4v4m0 22v2m1-273v52m0 14v13m0 27v24m0 108v4m0 4v2m0 23v2m1-277v29m0 18v22m0 48v21m0 104v4m0 22v1m0 6v2m1-280v21m0 104v20m0 93v2m0 5v4m0 21v3m0 6v1m1-282v16m0 117v16m0 91v3m0 5v2m0 22v4m1-276v8m0 135v4m0 93v3m0 22v3m0 5v3m1-36v3m0 22v3m0 5v2m1-42v2m0 6v2m0 22v4m0 30v1m1-67v3m0 22v3m0 4v4m0 30v1m1-66v1m0 23v3m0 5v3m0 22v2m1-35v4m0 5v1m0 23v3m1-43v2m0 5v4m0 22v2m0 5v2m1-199v11m0 145v4m0 4v4m0 21v3m1-207v10m0 18v7m0 136v5m0 4v2m0 22v4m1-259v9m0 17v23m0 37v6m0 124v2m0 4v5m0 21v3m0 5v3m1-266v7m0 90v6m0 120v3m0 4v3m0 22v3m0 6v1m1-270v7m0 98v6m0 116v4m0 5v2m0 22v4m1-268v8m0 102v9m0 113v3m0 22v3m0 4v3m0 23v1m1-295v10m0 66v35m0 1v14m0 103v2m0 5v3m0 22v3m0 5v2m0 23v2m1-300v36m0 4v36m0 34v24m0 99v3m0 5v2m0 15v1m0 6v3m0 23v1m0 6v2m1-304v24m0 98v19m0 96v3m0 22v3m0 4v3m0 22v3m0 5v2m1-308v20m0 113v19m0 7v17m0 65v3m0 21v4m0 5v2m0 22v4m1-305v15m0 133v29m0 85v1m0 5v4m0 29v4m1-148v15m0 89v4m0 4v3m0 22v3m0 5v3m1-44v4m0 4v3m0 22v3m0 6v1m1-43v4m0 5v2m0 22v4m1-44v3m0 4v4m0 22v3m0 5v2m1-43v4m0 4v3m0 22v3m0 6v1m1-43v4m0 5v2m0 22v3m1-42v1m0 5v4m0 22v2m0 5v3m1-194v11m0 140v3m0 5v3m0 22v3m0 6v1m1-257v85m0 129v4m0 5v1m0 16v1m0 6v3m0 22v3m1-281v8m0 74v15m0 123v4m0 21v3m0 5v3m0 22v3m1-287v8m0 83v16m0 112v3m0 5v2m0 22v4m0 5v2m0 22v4m1-292v7m0 83v26m0 107v3m0 6v1m0 16v1m0 5v4m0 22v2m0 5v4m1-296v8m0 14v23m0 38v41m0 103v3m0 22v3m0 4v4m0 22v3m0 4v4m1-300v10m0 7v12m0 21v39m0 20v25m0 98v2m0 22v4m0 4v3m0 22v4m0 4v2m1-303v24m0 98v23m0 108v2m0 5v4m0 22v2m0 5v4m1-300v20m0 111v45m0 80v3m0 4v4m0 22v3m0 4v3m1-301v16m0 122v39m0 81v4m0 4v3m0 22v3m0 5v2m1-299v6m0 135v31m0 84v4m0 5v1m0 16v1m0 6v3m1-145v21m0 81v3m0 4v4m0 22v2m0 5v3m1-43v3m0 5v2m0 22v4m0 5v1m0 16v1m1-59v3m0 6v1m0 16v1m0 6v3m0 22v2m1-67v2m0 5v3m0 22v3m0 5v3m0 21v4m1-68v3m0 5v2m0 22v4m0 5v1m0 16v2m0 4v4m1-68v3m0 22v2m0 5v4m0 21v4m0 4v3m1-241v13m0 13v3m0 144v3m0 22v3m0 5v3m0 21v4m0 4v3m1-280v32m0 42v15m0 124v1m0 23v4m0 5v1m0 22v5m1-280v11m0 84v4m0 113v1m0 23v2m0 5v4m0 21v3m0 4v5m1-285v9m0 94v4m0 110v1m0 23v3m0 4v3m0 22v4m0 4v3m1-289v10m0 13v12m0 76v4m0 130v4m0 5v2m0 22v4m0 5v2m1-293v43m0 74v5m0 121v1m0 6v3m0 22v3m0 4v4m1-290v26m0 18v5m0 73v10m0 115v2m0 5v3m0 22v3m0 5v3m1-294v22m0 28v4m0 72v17m0 107v4m0 5v2m0 22v4m0 5v1m1-297v20m0 34v11m0 33v2m0 20v60m0 74v4m0 22v2m0 5v4m1-294v17m0 90v3m0 4v4m0 20v43m0 70v2m0 5v3m0 22v3m0 5v2m0 16v1m1-309v8m0 132v38m0 71v3m0 6v1m0 23v3m0 22v3m1-165v29m0 75v3m0 23v2m0 5v3m0 22v4m1-158v14m0 75v2m0 6v2m0 22v4m0 5v2m0 21v2m0 1v2m1-69v3m0 29v4m0 22v3m0 3v2m0 1v2m1-69v3m0 22v3m0 5v3m0 21v5m0 3v4m1-68v2m0 22v3m0 5v3m0 21v5m0 3v4m1-44v4m0 22v2m0 4v2m0 1v2m0 5v1m1-271v5m0 24v2m0 12v16m0 163v1m0 5v4m0 21v4m0 4v4m1-274v9m0 7v6m0 10v2m0 40v2m0 13v2m0 15v5m0 119v3m0 5v2m0 22v4m0 4v3m1-278v5m0 111v3m0 116v3m0 23v2m0 4v4m0 6v1m1-283v6m0 116v3m0 115v3m0 22v4m0 3v4m1-280v6m0 122v2m0 107v2m0 6v2m0 22v4m0 4v3m0 15v1m1-300v7m0 18v1m0 107v2m0 106v3m0 23v1m0 5v4m0 21v3m1-304v8m0 11v14m0 104v2m0 105v3m0 22v3m0 4v4m0 21v4m1-309v23m0 12v3m0 103v4m0 25v4m0 67v2m0 6v1m0 23v3m0 5v2m0 15v3m0 4v4m1-312v20m0 19v3m0 26v2m0 7v3m0 63v36m0 65v2m0 30v4m0 21v4m0 3v4m1-314v16m0 30v4m0 14v1m0 36v2m0 18v2m0 23v34m0 66v2m0 23v3m0 4v3m0 22v1m0 2v1m0 4v2m1-309v2m0 104v5m0 35v28m0 69v1m0 23v3m0 5v2m0 15v2m0 4v2m0 2v1m1-155v22m0 65v2m0 30v3m0 22v3m0 4v1m0 2v1m1-153v15m0 70v2m0 23v2m0 5v3m0 21v2m0 1v2m0 3v4m1-43v2m0 6v1m0 16v2m0 4v2m0 2v1m0 4v3m1-43v2m0 22v4m0 3v2m0 1v2m1-43v1m0 6v2m0 22v4m0 4v4m1-43v2m0 23v1m0 5v5m0 4v2m1-227v8m0 177v2m0 22v3m0 4v5m1-228v2m0 20v4m0 32v2m0 21v5m0 130v4m0 4v3m0 15v2m1-283v8m0 75v3m0 3v3m0 34v3m0 94v2m0 30v4m0 5v2m0 14v4m1-289v8m0 125v2m0 93v2m0 23v3m0 4v4m0 21v1m0 2v1m1-294v12m0 127v2m0 85v1m0 31v3m0 5v3m0 14v2m0 5v1m0 2v1m1-298v16m0 128v2m0 84v2m0 30v4m0 5v1m0 15v4m0 3v1m0 2v1m1-302v21m0 128v2m0 83v2m0 23v2m0 5v3m0 22v1m0 2v1m0 3v4m1-306v21m0 2v3m0 128v2m0 82v2m0 23v3m0 5v2m0 15v2m0 4v2m0 2v1m0 4v3m1-309v18m0 10v2m0 128v8m0 100v3m0 22v3m0 3v2m0 2v1m1-304v14m0 18v2m0 35v1m0 15v2m0 39v2m0 14v4m0 14v14m0 94v3m0 21v2m0 1v2m0 3v2m0 1v1m1-268v3m0 6v4m0 57v4m0 9v2m0 36v16m0 88v1m0 7v1m0 16v1m0 5v2m0 2v1m0 4v3m1-143v10m0 90v2m0 22v4m0 3v2m0 2v1m0 5v1m1-139v4m0 117v4m0 4v4m1-12v2m0 1v2m0 3v3m0 15v2m1-59v1m0 23v3m0 4v4m0 21v3m1-35v4m0 3v4m0 15v1m0 5v4m1-68v2m0 30v4m0 4v3m0 14v3m0 4v4m1-68v2m0 23v2m0 5v4m0 21v1m0 2v1m0 3v3m1-242v2m0 11v1m0 43v1m0 11v2m0 105v1m0 23v3m0 4v4m0 14v2m0 5v1m0 2v2m0 4v1m1-291v3m0 8v2m0 15v5m0 35v2m0 29v2m0 32v5m0 111v3m0 5v2m0 15v3m0 4v1m0 2v2m1-289v3m0 140v3m0 106v3m0 21v2m0 1v2m0 3v1m0 2v1m1-292v5m0 145v2m0 97v2m0 5v3m0 15v1m0 5v1m0 3v1m0 4v3m1-295v6m0 148v2m0 96v2m0 22v4m0 3v1m0 3v1m0 5v1m1-297v7m0 151v2m0 95v2m0 22v2m0 1v2m0 2v2m0 2v1m1-294v13m0 149v13m0 101v1m0 5v1m0 2v2m0 3v4m1-295v19m0 160v4m0 93v3m0 4v1m0 2v2m0 5v1m1-294v9m0 11v3m0 47v8m0 47v3m0 4v3m0 52v3m0 86v4m0 3v2m0 1v2m1-262v1m0 22v11m0 23v1m0 34v2m0 20v3m0 49v1m0 83v4m0 4v3m0 14v3m1-272v2m0 5v3m0 49v4m0 52v1m0 47v1m0 48v2m0 23v3m0 4v4m0 5v2m0 14v4m1-160v1m0 51v1m0 47v1m0 23v3m0 4v4m0 14v1m0 6v4m1-161v4m0 51v1m0 37v2m0 30v4m0 4v3m0 14v3m0 4v4m1-109v5m0 36v2m0 30v4m0 20v1m0 3v1m0 3v4m1-68v2m0 23v2m0 5v3m0 15v1m0 5v1m0 4v1m0 3v3m1-43v3m0 5v2m0 15v3m0 2v1m0 5v1m0 4v1m1-42v3m0 21v2m0 1v2m0 1v1m0 5v1m1-37v3m0 15v1m0 5v1m0 2v1m0 2v1m0 5v1m1-284v9m0 26v15m0 16v1m0 38v2m0 133v2m0 22v3m0 4v1m0 2v1m0 8v1m1-288v2m0 17v1m0 12v1m0 43v2m0 9v3m0 154v2m0 22v4m0 3v4m0 8v1m1-291v3m0 118v1m0 149v1m0 2v2m0 3v2m0 7v1m0 1v1m1-295v5m0 238v2m0 23v3m0 4v1m0 2v2m0 13v2m0 6v2m1-307v7m0 204v1m0 36v1m0 23v4m0 3v2m0 1v1m0 15v2m0 4v3m1-310v9m0 234v1m0 31v4m0 4v3m0 16v1m0 4v3m1-313v15m0 203v1m0 27v2m0 23v2m0 5v4m0 5v1m0 17v2m0 4v2m1-313v18m0 201v1m0 26v2m0 23v3m0 4v4m0 12v1m0 1v1m0 8v2m1-304v3m0 13v3m0 36v10m0 5v13m0 133v1m0 27v1m0 23v3m0 5v3m0 23v2m1-274v2m0 16v2m0 38v1m0 16v2m0 10v1m0 150v3m0 6v1m0 24v2m1-43v2m0 5v3m0 19v1m0 6v1m0 4v2m1-43v2m0 6v2m0 15v2m0 1v1m0 8v1m1-38v3m0 21v5m1-36v1m0 6v2m0 22v1m0 1v2m0 10v1m1-47v3m0 22v3m0 4v1m0 1v1m0 11v1m1-47v3m0 22v4m0 3v3m0 11v1m1-54v2m0 6v2m0 22v4m0 4v2m1-230v4m0 157v1m0 26v3m0 22v2m0 5v1m0 2v1m0 22v2m1-295v16m0 23v1m0 34v2m0 132v1m0 26v3m0 22v3m0 4v4m0 16v1m0 4v4m1-299v3m0 27v7m0 48v3m0 3v3m0 137v1m0 6v3m0 22v4m0 3v4m0 16v1m0 4v4m1-301v3m0 230v2m0 30v4m0 5v1m0 22v4m1-304v5m0 231v2m0 23v2m0 5v4m0 12v1m0 11v1m0 4v3m1-306v7m0 212v1m0 18v2m0 22v4m0 4v3m0 16v1m0 8v1m1-301v9m0 212v1m0 42v4m0 6v1m0 24v2m1-300v10m0 89v1m0 157v2m0 5v3m0 19v1m0 11v2m1-290v3m0 243v3m0 5v3m0 15v1m1-269v2m0 35v2m0 18v12m0 173v4m0 21v5m1-250v10m0 45v3m0 155v2m0 5v4m0 21v4m0 1v1m0 8v1m1-47v3m0 5v2m0 16v1m0 5v3m0 3v1m1-39v3m0 22v3m0 4v3m0 4v1m0 6v1m1-54v2m0 5v3m0 22v4m0 3v3m0 11v1m0 11v1m1-66v3m0 4v3m0 22v4m0 17v1m0 4v2m1-80v1m0 18v4m0 22v2m0 5v4m0 14v1m0 2v1m0 3v4m1-61v3m0 22v3m0 4v4m0 16v1m0 4v4m1-61v3m0 22v4m0 4v2m0 22v4m1-295v4m0 41v2m0 12v3m0 165v2m0 23v2m0 5v4m0 13v1m0 15v3m1-297v2m0 9v3m0 9v8m0 9v3m0 174v1m0 12v1m0 22v4m0 4v3m0 13v1m0 17v1m1-298v3m0 216v1m0 35v4m0 5v2m0 25v1m1-294v4m0 217v1m0 28v3m0 4v4m0 19v1m0 5v1m1-289v5m0 77v1m0 169v4m0 4v3m0 19v1m1-285v7m0 247v4m0 5v2m0 15v2m1-280v6m0 74v1m0 164v2m0 5v4m0 21v4m0 1v1m0 8v1m1-287v4m0 236v3m0 4v4m0 21v3m1-270v2m0 43v3m0 8v2m0 177v4m0 4v3m0 15v1m0 5v3m0 24v1m1-290v2m0 30v3m0 23v3m0 1v1m0 161v1m0 5v4m0 21v3m0 5v2m0 11v1m0 11v3m1-68v3m0 4v4m0 21v4m0 17v1m0 11v3m1-68v3m0 5v2m0 16v1m0 5v4m0 17v1m0 4v2m0 5v3m1-68v3m0 22v3m0 4v4m0 15v1m0 1v1m0 4v3m0 5v1m1-229v1m0 161v3m0 22v4m0 4v3m0 16v2m0 4v3m1-60v2m0 15v2m0 5v4m0 29v3m1-43v3m0 4v4m0 12v1m0 16v3m1-225v1m0 180v4m0 5v2m0 13v1m1-221v6m0 184v1m0 5v5m0 5v1m1-262v3m0 6v2m0 35v3m0 17v3m0 175v4m0 3v5m0 18v1m1-277v3m0 14v2m0 8v3m0 189v1m0 26v4m0 4v3m0 19v1m0 7v1m1-286v3m0 238v1m0 5v5m0 4v2m0 15v2m0 2v1m0 8v1m1-288v4m0 237v3m0 4v4m0 22v2m0 2v1m1-280v5m0 237v4m0 4v3m0 22v2m0 12v1m1-288v3m0 237v4m0 5v2m0 15v2m0 5v2m0 24v2m1-300v3m0 236v4m0 22v3m0 5v1m0 23v4m1-299v3m0 228v2m0 4v4m0 21v4m0 13v1m0 3v1m0 12v3m1-292v2m0 39v3m0 179v4m0 4v3m0 14v3m0 4v4m0 17v1m0 4v3m0 5v3m1-286v2m0 13v2m0 186v1m0 13v4m0 21v4m0 4v3m0 16v2m0 4v3m0 6v1m1-67v3m0 21v4m0 5v2m0 22v4m1-75v1m0 14v1m0 15v3m0 4v4m0 13v1m0 15v4m1-75v1m0 30v4m0 3v4m0 12v1m0 17v2m1-74v1m0 30v4m0 4v3m0 12v1m0 3v1m1-59v1m0 23v2m0 5v4m1-11v3m0 4v4m0 18v1m1-55v1m0 23v5m0 3v4m0 18v1m1-217v6m0 174v2m0 4v5m0 5v1m0 16v1m0 2v1m0 28v3m1-304v4m0 9v2m0 18v2m0 201v3m0 4v4m0 21v3m0 2v1m0 8v1m0 18v3m1-306v4m0 18v7m0 208v5m0 3v4m0 21v2m0 4v1m0 7v1m0 18v3m1-308v5m0 234v5m0 4v2m0 15v3m0 5v1m0 12v1m0 11v3m0 5v2m1-309v6m0 234v5m0 21v4m0 29v3m1-299v3m0 235v4m0 21v4m0 29v3m1-298v3m0 228v1m0 6v2m0 15v3m0 4v4m0 14v1m0 1v1m0 5v2m0 5v3m1-297v2m0 228v2m0 22v4m0 3v4m0 16v1m0 5v3m0 6v1m1-296v3m0 214v1m0 34v5m0 4v2m0 23v3m1-283v5m0 23v1m0 182v1m0 28v2m0 4v5m0 12v2m0 15v3m1-271v3m0 5v3m0 216v4m0 4v4m0 11v1m0 18v2m1-231v1m0 186v5m0 4v3m0 11v1m0 12v1m1-43v2m0 4v5m0 5v1m0 18v1m0 6v1m1-66v1m0 21v4m0 3v5m0 17v1m1-53v1m0 22v4m0 4v3m0 18v1m0 29v2m1-61v5m0 4v2m0 15v2m0 11v1m0 19v3m1-68v2m0 4v4m0 22v2m0 11v1m0 19v3m1-69v4m0 4v3m0 15v1m0 6v2m0 11v1m0 12v2m0 5v3m1-264v2m0 12v5m0 176v4m0 5v2m0 15v3m0 4v1m0 12v1m0 12v3m0 4v3m1-302v6m0 10v4m0 11v2m0 201v3m0 21v4m0 17v1m0 11v4m1-296v4m0 231v3m0 15v1m0 5v5m0 22v1m0 6v3m1-296v3m0 233v1m0 15v3m0 4v5m0 14v2m0 5v3m0 5v3m1-295v2m0 249v4m0 4v3m0 22v4m0 5v1m1-293v2m0 248v5m0 4v2m0 22v4m1-287v2m0 211v1m0 29v3m0 4v5m0 11v1m0 17v3m1-286v2m0 240v4m0 3v4m0 24v1m0 6v1m1-284v2m0 34v2m0 9v3m0 160v1m0 30v4m0 4v3m0 11v1m0 12v2m0 22v2m1-299v10m0 17v2m0 202v2m0 5v4m0 18v1m0 12v1m0 22v3m1-93v1m0 24v3m0 4v4m0 17v1m0 8v1m0 4v1m0 22v4m1-69v4m0 4v3m0 15v1m0 1v1m0 9v1m0 20v2m0 5v3m1-250v1m0 180v4m0 22v1m0 2v1m0 28v4m0 5v1m1-68v4m0 21v2m0 3v1m0 27v4m1-68v2m0 5v3m0 15v1m0 5v2m0 11v1m0 12v3m0 4v4m1-68v2m0 6v1m0 15v3m0 17v1m0 12v3m0 5v3m1-68v2m0 22v4m0 12v1m0 3v1m0 12v4m1-250v8m0 205v4m0 22v2m0 5v4m1-257v2m0 16v1m0 194v3m0 4v4m0 15v1m0 6v3m0 5v2m1-290v9m0 199v1m0 38v4m0 4v3m0 22v3m0 6v1m1-290v3m0 205v1m0 38v4m0 5v2m0 4v2m0 16v3m1-283v3m0 237v2m0 5v4m0 11v1m0 11v2m0 4v3m1-282v2m0 237v3m0 4v4m0 15v1m0 7v2m0 5v2m0 16v1m1-299v2m0 204v1m0 32v4m0 4v2m0 11v1m0 12v2m0 22v3m1-299v2m0 229v2m0 5v4m0 17v1m0 12v2m0 22v3m1-299v2m0 40v2m0 160v1m0 26v3m0 4v3m0 17v1m0 13v2m0 15v1m0 6v4m1-299v2m0 31v1m0 168v1m0 27v3m0 5v2m0 15v1m0 2v1m0 29v3m0 4v4m1-296v10m0 35v1m0 181v3m0 22v1m0 32v3m0 5v2m1-68v3m0 22v1m0 25v1m0 6v3m1-60v2m0 15v2m0 5v1m0 5v1m0 5v1m0 12v3m0 5v3m1-43v3m0 16v1m0 12v4m0 5v2m1-44v5m0 15v1m0 6v1m0 5v4m1-37v5m0 13v3m0 5v3m0 4v4m1-43v2m0 5v4m0 21v4m0 4v3m1-87v2m0 41v4m0 4v3m0 22v4m0 5v1m0 16v1m1-265v3m0 160v1m0 41v4m0 6v1m0 4v1m0 1v1m0 9v2m0 4v4m0 22v2m1-286v4m0 215v2m0 4v4m0 11v1m0 11v3m0 3v4m0 22v3m1-302v8m0 189v1m0 35v3m0 5v3m0 23v3m0 5v1m0 16v2m0 5v3m1-302v3m0 230v4m0 17v1m0 6v1m0 4v4m0 21v4m0 4v2m1-301v3m0 230v4m0 17v1m0 12v3m0 21v4m1-294v2m0 231v2m0 17v1m0 9v1m0 3v2m0 15v3m0 4v4m1-294v2m0 190v1m0 58v1m0 1v1m0 29v3m0 5v3m1-294v2m0 42v1m0 205v2m0 31v4m0 5v1m1-292v2m0 35v5m0 207v1m0 25v2m0 5v4m1-285v2m0 12v4m0 223v2m0 30v4m0 4v4m1-281v3m0 234v3m0 12v1m0 3v1m0 12v5m0 4v2m1-43v4m0 15v1m0 5v3m0 4v5m1-37v4m0 14v2m0 5v4m0 4v3m1-43v3m0 4v4m0 15v1m0 5v4m0 4v3m1-88v1m0 44v3m0 5v2m0 16v2m0 4v2m0 1v1m0 22v3m1-255v1m0 148v1m0 44v3m0 11v1m0 11v3m0 3v4m0 22v3m1-298v1m0 229v2m0 5v3m0 11v1m0 3v1m0 7v3m0 4v3m0 15v1m0 6v3m1-303v9m0 187v1m0 38v2m0 6v2m0 22v1m0 2v1m0 5v1m0 16v2m0 5v3m1-305v12m0 15v4m0 4v6m0 196v3m0 17v1m0 11v2m0 1v1m0 21v4m0 5v2m1-306v17m0 2v3m0 176v1m0 39v2m0 18v1m0 12v3m0 15v1m0 5v4m1-296v13m0 242v1m0 13v1m0 15v3m0 5v3m1-288v4m0 241v1m0 11v1m0 19v4m0 4v3m1-286v2m0 240v2m0 3v1m0 20v2m0 5v4m1-279v2m0 240v1m0 25v3m0 4v4m1-278v2m0 232v3m0 29v5m0 4v3m1-278v2m0 34v1m0 197v4m0 15v1m0 6v2m0 4v2m0 1v2m0 5v1m1-276v2m0 12v21m0 198v4m0 15v1m0 5v4m0 3v5m0 22v1m1-292v7m0 219v1m0 5v4m0 15v1m0 5v1m0 2v2m0 3v3m0 22v3m1-68v3m0 5v2m0 16v2m0 4v1m0 2v2m0 4v2m0 15v2m0 6v2m1-68v3m0 12v2m0 9v3m0 3v1m0 2v2m0 21v3m1-112v1m0 50v3m0 11v1m0 11v3m0 3v4m0 22v3m1-112v1m0 51v2m0 11v1m0 13v1m0 4v3m0 15v2m0 5v3m1-41v1m0 7v1m0 21v4m0 5v2m1-290v2m0 175v1m0 64v1m0 12v3m0 21v4m1-289v10m0 238v1m0 12v3m0 14v3m0 4v4m1-292v15m0 13v7m0 150v1m0 63v1m0 1v1m0 9v1m0 19v4m0 4v3m1-292v22m0 162v1m0 63v2m0 11v1m0 12v2m0 5v4m0 5v1m1-290v16m0 33v1m0 197v2m0 23v4m0 4v4m1-273v5m0 225v1m0 30v5m0 3v4m1-270v2m0 224v3m0 23v1m0 5v2m0 1v2m0 4v2m1-269v2m0 224v4m0 15v1m0 5v4m0 3v2m0 1v2m0 21v3m1-286v2m0 223v4m0 14v2m0 5v1m0 2v1m0 3v5m0 21v3m1-285v2m0 216v1m0 5v3m0 16v1m0 5v1m0 2v2m0 3v3m0 15v2m0 5v3m1-284v2m0 11v2m0 201v3m0 5v2m0 16v2m0 4v1m0 2v1m0 22v3m0 5v2m1-283v4m0 20v5m0 186v3m0 23v3m0 3v2m0 1v1m0 22v3m1-245v1m0 123v3m0 58v2m0 11v1m0 11v3m0 4v3m0 15v2m0 5v3m1-47v1m0 11v3m0 5v1m0 15v4m0 4v3m1-245v1m0 124v1m0 84v3m0 21v4m1-114v1m0 72v1m0 8v1m0 3v2m0 15v3m0 4v4m1-41v1m0 13v1m0 15v3m0 4v4m1-115v1m0 70v2m0 2v1m0 8v1m0 12v1m0 5v5m0 4v2m1-283v15m0 153v9m0 63v2m0 3v1m0 7v1m0 11v3m0 4v5m0 22v1m1-307v24m0 150v10m0 63v2m0 23v4m0 4v4m0 22v2m1-310v21m0 2v8m0 13v3m0 130v7m0 58v3m0 29v1m0 2v2m0 3v3m0 23v2m1-309v26m0 27v1m0 122v2m0 63v3m0 22v3m0 4v1m0 2v2m0 21v3m0 5v2m1-303v20m0 215v3m0 16v1m0 5v4m0 3v4m0 22v3m1-277v2m0 214v3m0 16v1m0 4v2m0 1v2m0 4v3m0 22v3m1-276v2m0 26v1m0 187v2m0 21v2m0 2v1m0 5v1m0 16v2m0 5v3m1-276v3m0 220v2m0 10v1m0 4v4m0 21v4m1-268v3m0 230v3m0 3v4m0 15v1m0 5v4m1-266v4m0 215v1m0 11v3m0 5v1m0 15v3m0 5v3m1-253v2m0 124v1m0 79v1m0 5v1m0 5v3m0 21v4m0 5v1m1-245v3m0 115v1m0 79v1m0 12v2m0 15v2m0 5v4m1-122v1m0 80v1m0 28v4m0 4v4m1-232v1m0 187v2m0 11v1m0 18v4m0 5v2m1-43v2m0 11v1m0 11v3m0 4v5m0 22v2m1-61v2m0 11v1m0 11v4m0 3v4m0 22v3m1-143v1m0 74v2m0 5v2m0 5v1m0 5v1m0 11v4m0 4v3m0 22v3m1-291v15m0 208v3m0 22v2m0 5v4m0 22v2m0 5v3m1-302v30m0 132v15m0 57v3m0 22v3m0 4v4m0 22v3m0 5v2m1-306v23m0 9v11m0 120v18m0 57v3m0 15v2m0 4v5m0 4v3m0 22v3m1-299v28m0 19v2m0 112v17m0 60v3m0 21v5m0 5v1m0 16v2m0 5v3m1-296v31m0 21v4m0 101v12m0 91v4m0 21v4m0 5v1m1-281v4m0 6v9m0 123v5m0 82v1m0 11v1m0 4v3m0 22v4m1-258v3m0 23v1m0 97v4m0 96v1m0 5v2m0 15v3m0 4v4m1-256v3m0 117v4m0 85v1m0 11v2m0 22v3m0 5v2m1-254v3m0 117v2m0 86v1m0 11v2m0 22v4m0 22v1m1-269v3m0 114v2m0 95v1m0 20v2m0 5v3m0 22v3m1-267v3m0 109v1m0 86v2m0 1v1m0 9v1m0 18v4m0 4v3m0 22v3m1-262v2m0 191v4m0 1v1m0 8v1m0 18v4m0 22v2m0 5v3m1-257v3m0 96v1m0 88v3m0 3v1m0 7v1m0 11v3m0 4v4m0 22v3m0 5v2m1-69v3m0 11v1m0 11v4m0 4v3m0 22v3m1-61v2m0 23v4m0 5v1m0 16v2m0 5v3m1-67v1m0 14v1m0 2v1m0 5v2m0 5v4m0 22v3m0 5v2m1-67v1m0 16v2m0 5v3m0 4v3m0 22v4m1-42v1m0 4v4m0 6v1m0 16v1m0 6v3m1-281v26m0 114v23m0 81v4m0 22v3m0 5v3m1-289v21m0 9v8m0 105v31m0 74v1m0 4v3m0 22v4m1-284v18m0 22v4m0 98v32m0 65v2m0 8v2m0 5v1m0 16v2m0 5v4m1-283v20m0 24v4m0 14v1m0 75v2m0 4v25m0 68v1m0 10v2m0 22v3m0 5v2m0 23v1m1-302v29m0 18v6m0 86v14m0 80v1m0 4v1m0 5v2m0 22v3m0 23v2m1-276v17m0 100v4m0 92v1m0 5v1m0 4v1m0 16v1m0 6v3m0 22v3m1-261v5m0 95v4m0 89v2m0 2v1m0 7v1m0 20v2m0 5v3m0 22v4m1-258v3m0 92v3m0 91v3m0 2v1m0 6v1m0 19v4m0 23v1m0 5v4m1-256v3m0 89v3m0 92v3m0 2v1m0 6v1m0 19v4m0 22v3m0 4v4m1-254v3m0 85v3m0 94v3m0 22v3m0 5v3m0 22v3m0 5v2m1-252v4m0 66v1m0 13v3m0 97v3m0 5v1m0 2v1m0 13v3m0 30v3m1-242v4m0 9v5m0 6v1m0 45v10m0 101v2m0 7v3m0 6v1m0 6v3m0 23v2m0 5v3m1-50v1m0 6v3m0 4v3m0 22v4m0 5v2m1-44v4m0 6v1m0 22v4m1-37v4m0 23v2m0 5v3m1-43v3m0 4v3m0 22v3m0 6v1m0 16v1m1-168v13m0 95v4m0 4v3m0 22v4m0 22v2m1-173v5m0 7v30m0 63v2m0 5v4m0 23v1m0 6v2m0 22v4m1-286v19m0 89v4m0 25v21m0 59v3m0 4v4m0 22v3m0 5v2m0 16v1m0 5v4m1-296v38m0 76v6m0 31v17m0 58v5m0 4v3m0 22v3m0 22v3m0 5v3m1-299v27m0 12v9m0 29v7m0 8v4m0 17v16m0 21v18m0 61v2m0 1v2m0 5v1m0 23v3m0 22v4m0 4v2m1-295v24m0 20v7m0 6v6m0 35v62m0 67v4m0 22v2m0 30v4m1-280v20m0 22v5m0 50v9m0 106v2m0 4v4m0 22v2m0 23v3m0 4v4m1-266v11m0 72v7m0 108v2m0 5v2m0 16v1m0 6v2m0 23v3m0 5v3m1-257v8m0 64v7m0 110v2m0 22v3m0 30v4m0 5v1m1-249v7m0 56v6m0 113v2m0 22v3m0 23v2m0 5v4m1-237v9m0 45v7m0 132v2m0 5v3m0 23v3m0 5v2m1-228v11m0 16v22m0 136v3m0 5v2m0 23v3m0 6v1m1-44v5m0 29v3m1-43v2m0 5v4m0 22v2m0 5v3m1-44v4m0 4v3m0 23v3m0 22v2m1-61v4m0 5v2m0 23v3m0 22v3m1-68v2m0 4v5m0 22v1m0 6v2m0 23v4m1-186v32m0 84v4m0 3v4m0 23v2m0 23v2m0 5v4m1-193v6m0 31v16m0 70v4m0 4v3m0 23v2m0 22v4m0 4v3m1-197v4m0 47v15m0 62v4m0 5v1m0 17v1m0 6v2m0 22v4m0 5v2m1-284v25m0 57v4m0 55v14m0 60v4m0 22v2m0 24v1m0 5v4m1-282v16m0 12v9m0 45v4m0 28v10m0 22v13m0 62v3m0 22v3m0 22v3m0 5v3m1-283v15m0 22v8m0 33v4m0 23v11m0 7v34m0 66v2m0 15v2m0 6v2m0 22v4m0 5v2m1-282v16m0 26v10m0 17v8m0 21v5m0 135v4m0 29v4m1-269v16m0 25v25m0 21v4m0 141v4m0 23v2m0 4v4m1-256v12m0 22v11m0 24v4m0 139v3m0 5v3m0 22v3m0 5v3m1-245v12m0 40v4m0 145v4m0 4v3m0 22v4m0 22v2m1-253v22m0 11v9m0 150v4m0 29v4m0 21v3m1-244v26m0 150v3m0 4v4m0 22v2m0 6v2m0 22v3m1-68v4m0 3v4m0 22v3m0 22v3m0 5v2m1-69v5m0 4v2m0 23v3m0 22v4m0 5v1m1-69v5m0 22v2m0 6v1m0 23v4m1-68v2m0 4v4m0 22v2m0 23v3m0 4v4m1-173v6m0 98v3m0 5v2m0 23v2m0 23v3m0 5v3m1-184v5m0 17v9m0 84v4m0 22v2m0 6v1m0 23v4m0 5v1m1-189v4m0 31v10m0 77v2m0 22v3m0 24v1m0 5v4m1-188v4m0 41v12m0 70v2m0 22v4m0 22v3m0 4v4m1-193v4m0 49v13m0 83v3m0 5v2m0 23v3m0 5v2m1-277v33m0 48v4m0 51v17m0 81v3m0 6v1m0 23v3m1-274v16m0 21v8m0 34v6m0 23v47m0 76v1m0 6v4m0 22v2m0 5v3m1-275v15m0 31v9m0 18v9m0 19v5m0 126v3m0 4v4m0 22v3m0 5v2m1-273v16m0 35v25m0 16v5m0 132v4m0 5v2m0 23v3m0 22v3m1-286v20m0 36v7m0 18v6m0 137v5m0 29v3m0 22v3m1-268v13m0 41v9m0 137v2m0 4v5m0 22v2m0 6v1m0 23v3m1-255v11m0 18v16m0 141v4m0 4v3m0 23v2m0 23v3m0 4v3m1-245v28m0 148v4m0 5v2m0 16v1m0 6v2m0 23v3m0 5v2m1-69v4m0 22v3m0 6v1m0 23v3m1-61v3m0 22v3m0 23v2m0 5v3m1-60v2m0 15v2m0 5v3m0 23v3m0 5v2m1-43v3m0 5v2m0 23v3m1-36v3m0 30v3m1-173v25m0 105v2m0 5v4m0 22v2m0 5v3m1-179v7m0 18v14m0 96v4m0 4v3m0 22v4m1-178v7m0 29v16m0 89v4m0 5v2m0 23v3m1-182v6m0 31v25m0 77v1m0 5v4m0 23v2m0 5v3m1-187v6m0 18v48m0 71v3m0 4v4m0 22v3m0 6v1m1-260v31m0 37v8m0 14v10m0 19v28m0 70v4m0 4v3m0 22v3m0 23v2m1-284v29m0 3v18m0 15v11m0 14v8m0 125v4m0 22v2m0 6v2m0 23v3m1-286v24m0 26v19m0 16v8m0 131v4m0 22v3m0 6v1m0 23v3m1-283v25m0 52v7m0 131v2m0 5v3m0 22v3m0 23v2m0 5v3m1-270v19m0 40v7m0 136v3m0 5v2m0 15v2m0 5v3m0 23v3m1-248v12m0 26v8m0 141v3m0 21v4m0 5v2m0 23v3m1-238v30m0 147v2m0 22v4m0 23v1m0 6v3m1-44v3m0 4v4m0 22v3m0 6v1m1-43v4m0 4v3m0 22v4m1-37v4m0 5v2m0 23v2m1-43v2m0 5v4m0 22v3m0 5v2m1-43v3m0 4v4m0 22v3m1-163v11m0 6v10m0 100v4m0 4v3m0 22v3m1-168v7m0 25v8m0 92v4m0 22v2m0 6v2m0 23v2m1-198v8m0 34v9m0 79v2m0 5v4m0 22v3m1-170v10m0 40v11m0 73v3m0 5v3m0 15v1m0 6v3m0 23v1m1-200v36m0 23v14m0 67v3m0 22v3m0 5v3m0 23v2m1-269v25m0 37v31m0 12v15m0 4v21m0 63v3m0 22v4m0 5v2m0 23v2m1-279v19m0 21v12m0 6v34m0 35v28m0 64v2m0 16v1m0 5v4m0 23v1m0 7v1m1-284v20m0 50v21m0 52v13m0 85v3m0 4v4m0 22v3m1-278v22m0 54v11m0 155v4m0 4v3m0 22v3m1-273v22m0 47v8m0 160v4m0 30v2m1-256v15m0 33v7m0 158v2m0 5v4m0 22v2m1-231v10m0 13v10m0 163v3m0 4v4m0 22v3m1-36v3m0 6v1m0 16v1m0 6v3m1-36v3m0 23v2m1-34v1m0 5v3m0 22v4m1-36v2m0 23v2m0 6v3m1-35v1m0 23v3m0 5v2m1-155v14m0 131v4m1-157v30m0 116v2m0 5v4m1-162v41m0 110v3m0 4v3m0 24v1m1-191v52m0 104v3m0 6v1m1-171v64m0 97v3m1-170v22m0 26v32m0 87v3m0 23v2m1-260v34m0 23v23m0 42v31m0 72v2m0 6v1m0 24v2m1-267v82m0 56v22m0 72v2m1-238v30m0 14v37m0 156v1m0 24v1m1-1v2m2-10v2m1-2v2m1-1v1"/>
<path stroke="#e0e32f" d="m196 1093v5m1-3v10m1-6v11m1-7v12m1-112v26m0 78v13m1-116v23m0 85v11m15-106v30m1-34v31m1-28v23m29 15v31m1-44v12m0 11v27m1-70v17m0 25v32m1-81v13m0 31v8m0 25v7m1-84v12m0 25v7m1-38v29m12 10v21m1-33v39m1-56v20m0 15v26m1-78v29m0 16v18m0 3v14m1-75v42m1-27v14m12 14v18m1-70v17m0 23v10m0 20v7m1-86v9m0 20v21m0 33v7m1-95v8m0 81v9m1-101v11m0 59v32m1-104v66m0 35v1m14-92v74m1-80v26m0 41v16m1-88v37m0 32v14m1-86v14m0 23v15m0 9v14m1-77v7m11 58v13m1-33v8m0 30v4m1-69v25m0 53v6m1-91v28m0 63v3m1-98v13m0 12v7m0 65v4m1-72v4m0 66v4m1-72v3m0 65v5m1-72v17m0 13v6m0 28v8m1-30v2m0 14v4m1-13v4m3 195v1m1-1v1m3-8v1m1-232v3m0 4v5m1-43v7m0 18v1m0 38v1m0 17v2m0 9v4m1-106v13m0 10v4m0 54v3m0 24v3m1-115v7m0 107v2m1-120v8m0 3v8m0 100v3m1-125v18m0 1v5m0 99v3m1-128v11m0 14v3m0 98v3m1-103v2m0 98v3m1-102v3m0 22v1m0 12v3m0 42v18m1-95v2m0 10v2m0 39v2m0 15v1m0 183v2m1-2v2m1-2v2m1-9v1m1-1v2m1-2v1m4-231v1m0 17v2m0 38v1m0 15v5m1-112v11m0 8v8m0 45v3m0 9v2m0 30v2m1-123v5m0 118v2m0 153v2m1-281v4m0 121v2m0 152v2m1-281v4m0 122v2m0 151v2m1-280v3m0 123v2m0 143v2m1-272v2m0 123v3m0 142v2m1-271v2m0 40v7m0 75v4m0 141v2m1-269v2m0 31v2m0 18v2m0 36v1m0 20v14m0 134v1m0 7v1m1-264v6m0 65v9m0 175v2m1-2v2m2-9v1m4 16v2m1-233v2m0 6v3m0 45v3m0 5v3m0 164v2m1-281v2m0 4v2m0 22v11m0 22v2m0 33v1m0 23v8m0 149v2m1-284v2m0 14v6m0 116v2m0 135v1m0 6v2m1-286v2m0 141v2m0 131v3m1-281v3m0 143v2m0 130v3m1-283v5m0 144v2m0 123v1m0 6v2m1-280v4m0 143v2m0 121v2m1-267v2m0 156v2m0 105v2m1-263v1m0 43v3m0 8v2m0 43v2m0 10v2m0 47v3m0 98v1m1-259v1m0 18v3m0 35v2m0 30v2m0 25v4m0 44v1m1-158v5m0 155v1m1 1v1m1 1v1m1 95v3m1-3v1m0 1v2m1-5v1m0 3v1m1-10v1m0 4v1m1-7v2m0 4v1m1-229v4m0 10v2m0 41v2m0 7v1m0 155v2m0 5v1m1-282v2m0 13v2m0 14v2m0 39v2m0 14v3m0 26v1m0 164v1m1-285v2m0 267v2m0 15v1m1-289v2m0 115v2m0 82v1m0 69v2m1-275v3m0 271v1m1-276v5m1-2v3m1 0v3m0 274v1m1-274v5m0 29v2m0 10v5m0 13v2m0 206v1m0 2v1m1-263v3m0 11v2m0 41v2m0 12v2m0 110v1m2 74v1m1-1v1m1-5v1m1-1v1m2 7v1m0 3v1m1-20v2m0 17v1m1-248v2m0 29v3m0 21v1m0 190v1m1-287v2m0 21v4m0 7v2m0 44v2m0 9v2m0 115v1m1-211v2m1-3v2m0 278v1m1-281v2m0 277v1m1-280v3m0 280v1m1-282v2m1 1v1m0 42v9m0 32v1m0 188v1m1-271v3m0 31v1m0 32v4m0 199v1m2 8v1m4-208v1m0 205v1m1-73v1m2-168v3m0 6v3m1-59v3m0 4v2m0 32v2m0 23v10m0 201v1m1-279v1m0 275v1m1-278v1m1-2v2m0 282v1m1-285v3m0 274v1m0 7v1m1-285v3m1 0v2m0 68v1m0 203v1m0 7v1m1-280v2m0 39v2m0 13v2m0 8v1m0 205v1m0 6v1m1-275v2m0 12v16m0 29v1m0 208v1m3-208v1m0 143v1m0 67v1m3-11v1m1 1v1m1-4v1m1-273v6m0 40v2m0 14v1m0 152v1m1-218v2m0 10v2m0 13v3m1-31v2m1-2v1m1-1v1m1-1v2m0 281v1m1-283v2m0 63v1m0 216v1m1-281v3m0 51v4m1-52v2m0 25v12m0 234v1m1-268v2m0 9v2m0 186v2m2-151v1m1 206v2m2-210v1m0 206v1m0 4v1m1-6v1m1-58v2m2-214v9m0 22v3m1-36v2m0 14v2m0 7v3m0 31v1m1-61v2m1-2v2m0 278v1m1-281v2m0 57v1m0 217v1m0 2v1m1-280v1m0 277v1m1-279v2m0 213v1m1-214v2m0 53v1m1-48v3m0 18v2m1-13v5m0 243v1m0 1v1m2-56v1m0 51v1m1-1v1m0 6v1m1 0v1m1-9v1m3-231v3m0 4v5m0 221v1m1-268v10m0 17v2m0 243v1m1-276v2m0 271v1m0 1v1m1-277v2m1-2v2m0 210v1m1-212v1m0 54v1m0 155v1m1-212v2m0 263v1m1-265v1m0 208v1m0 53v1m0 2v1m1-266v2m0 30v2m0 14v3m1-40v6m0 8v3m0 23v1m1-1v1m0 209v1m1-1v1m1 8v1m1-1v1m3-2v1m1-2v2m1-238v2m1-29v6m0 5v10m1-27v3m0 46v2m1-51v2m1-2v2m0 202v1m0 54v1m1-260v2m0 262v1m1-264v1m0 201v1m1-203v2m0 35v3m0 2v4m0 211v1m1-257v2m0 26v3m0 14v1m0 219v1m1-9v1m0 7v1m1-8v1m0 6v1m3-4v1m0 1v1m3-71v1m1-159v3m0 4v1m0 210v1m1-238v12m0 227v1m1-251v3m0 244v1m1-253v3m1-3v2m0 191v1m0 65v1m1-260v1m0 250v1m1-252v1m1-1v2m1-1v2m0 29v4m0 224v1m1-259v3m0 6v3m0 241v1m0 4v1m2-3v2m3 8v1m1-20v2m1-212v1m1 208v1m0 11v2m1-241v4m0 6v6m0 211v1m0 12v1m1-251v2m1-8v3m0 178v1m1-183v2m0 179v1m0 62v1m1-245v2m1-2v2m0 250v1m1-252v1m0 33v1m0 216v1m1-252v2m0 246v1m0 17v1m1-266v2m0 8v2m0 237v1m1 7v2m1-2v2m1-2v2m1-224v1m0 203v1m0 1v1m1-208v1m0 215v2m1-218v1m0 137v1m0 65v1m0 11v2m1-218v1m0 203v1m0 6v1m1-212v1m0 136v1m0 74v1m1-213v1m0 203v1m1-231v3m0 19v4m1-31v3m0 29v1m1-33v2m0 236v1m0 4v1m1-244v2m0 241v1m0 14v1m1-259v2m0 239v2m0 15v1m1-258v1m0 248v2m1-250v1m0 247v2m1-249v11m0 2v5m0 229v2m1-20v2m0 17v1m1-17v1m1-203v1m0 124v1m1 72v1m1-1v1m1-76v1m0 74v1m4-233v2m0 8v3m0 8v2m0 217v1m0 13v2m1-250v3m0 21v3m0 204v1m0 2v1m0 13v2m1-250v3m0 230v1m1-233v2m0 238v1m1-240v2m0 237v2m1-240v2m0 23v1m1-25v2m0 217v1m0 1v1m1-219v5m1 6v2m1 6v3m0 193v1m0 6v1m1-8v1m0 7v1m1-92v1m0 82v1m1-85v1m1-108v1m0 105v1m2 92v1m1-3v1m0 1v1m1-235v9m1-4v10m0 7v2m1-13v3m0 15v3m1-19v2m0 21v1m0 187v1m1-211v2m0 207v1m0 2v1m1-211v2m1-1v2m0 114v1m1-115v2m0 111v1m0 89v1m1-201v2m0 198v1m1-197v2m0 101v1m1-98v6m2 188v1m0 3v1m5-227v9m1-14v22m1-19v24m0 19v1m0 76v4m0 94v1m0 1v1m1-208v18m0 6v3m0 76v7m1-102v5m0 91v4m1-97v3m0 89v3m0 98v1m0 5v1m1-198v3m0 86v3m0 100v1m0 4v1m1-196v2m0 84v3m0 101v1m0 4v1m1-194v2m0 80v3m0 104v2m0 1v2m1-192v3m0 61v2m0 1v4m0 5v4m0 109v2m1-188v9m0 12v1m6 58v7m1-12v25m1-27v31m1-127v12m0 45v8m0 37v21m0 81v1m1-205v20m0 19v12m0 20v3m1-69v22m0 5v8m0 36v6m1-72v26m0 41v5m1-66v15m0 44v5m1-58v11m0 39v6m1-48v10m0 22v13m1-35v16m7 26v31m1-38v6m0 11v30m1-52v4m0 15v36m1-130v12m0 58v4m0 14v10m0 10v22m1-132v22m0 45v5m0 13v5m1-88v26m0 35v5m0 12v4m1-76v25m0 25v7m0 9v5m1-62v22m0 11v15m0 1v8m1-46v40m1-21v11m7 35v17m1-24v4m0 20v7m1-36v3m0 31v7m1-46v4m0 34v11m1-53v5m0 18v28m1-124v21m0 48v6m0 11v6m1-94v31m0 36v19m1-83v15m0 8v12m0 25v16m1-67v36m0 7v18m1-50v41m1-30v18m8 40v18m1-24v29m1-34v31m1-36v18m1-22v14m1-67v3m0 44v14m1-67v26m0 19v16m1-57v52m1-45v40m1-32v26m7 43v6m1-15v25m1-29v12m0 14v8m1-36v24m0 5v11m1-20v23m1-7v4m1-115v21m1-25v10m0 19v21m1-49v9m0 32v13m1-49v9m0 30v8m1-37v8m0 17v8m1-21v13m14-29v14"/>
<path stroke="#f9ec22" d="m248 1053v11m1-26v25m1-36v31m1-32v25m15-1v15m1-23v16m15 1v20m1-70v20m0 21v12m0 11v10m1-80v81m1-81v59m16-42v41m1-35v32m1-20v9m13-10v10m0 17v3m1-40v5m0 40v8m1-57v5m0 54v4m1-63v4m0 58v3m1-64v3m0 59v4m1-65v5m0 56v4m1-50v13m0 6v3m0 21v4m1-20v2m0 9v3m9-45v4m1-12v2m0 34v2m0 20v9m1-89v10m0 4v4m0 47v3m0 3v3m0 18v3m1-105v14m0 91v2m1-110v3m0 8v5m0 93v2m1-98v3m0 94v2m1-97v2m0 94v2m1-98v2m0 93v3m1-96v2m0 18v2m0 16v13m0 27v2m1-75v4m0 3v3m0 43v3m0 10v2m9-52v2m0 13v2m0 41v2m0 9v4m1-96v8m0 8v3m0 39v3m0 14v2m0 25v3m1-116v4m0 112v2m1-120v3m0 117v1m1-121v2m0 119v1m1-122v2m0 119v2m1-123v2m0 119v2m1-122v2m0 36v2m0 7v2m0 47v9m0 14v3m1-120v2m0 27v2m0 22v3m0 31v2m9-50v6m0 51v5m1-110v4m0 35v3m0 18v1m0 36v2m0 18v3m1-123v2m0 10v2m0 6v3m0 111v2m1-138v2m0 137v2m1-142v2m0 140v1m1-143v3m0 139v2m1-142v3m0 138v2m1-140v2m0 151v3m1-153v2m0 38v3m0 13v1m0 41v1m0 14v1m0 44v2m1-156v2m0 14v2m0 40v2m0 11v17m0 31v3m0 40v1m1-43v1m0 44v1m1-48v1m0 48v1m1 1v1m2 97v1m1-2v3m1-3v4m1-4v4m1-229v10m0 45v2m0 169v3m1-283v3m0 8v2m0 18v2m0 36v1m0 19v13m0 179v2m1-285v2m0 19v7m0 50v4m1-84v2m0 112v1m1-116v3m1-2v2m0 198v1m1-200v2m1 1v2m0 195v1m1-192v4m0 23v2m0 32v2m0 23v9m1-84v2m0 7v2m0 45v3m0 6v3m0 15v1m0 172v1m0 3v1m1-5v1m2 6v1m1-8v1m1 6v1m1-6v1m0 4v1m2-81v1m0 77v1m1-244v2m0 11v16m1-69v3m0 14v4m0 13v2m0 39v3m0 13v1m1-94v2m0 206v1m1-210v2m0 207v1m1-210v2m1-1v1m0 207v1m0 67v1m1-276v2m0 273v1m0 4v1m1-279v2m0 38v2m0 9v4m1-50v14m0 15v2m0 37v3m0 5v1m0 198v1m4-1v1m1-4v1m0 2v1m1-2v1m2-72v1m1-165v6m0 158v1m1-212v4m0 36v2m0 18v3m0 210v1m1-277v2m0 11v6m1-20v2m0 213v1m0 60v1m1-277v2m0 274v1m1-276v1m1 0v1m1 1v1m0 47v5m1-50v1m0 36v2m0 17v2m1-53v4m0 2v6m1 259v1m1-3v1m0 1v1m2-69v1m3-1v1m0 57v1m1-59v1m0 60v1m1-229v3m0 8v3m0 4v1m0 205v1m1-273v2m0 6v2m0 18v12m0 25v1m0 206v1m1-274v1m0 16v4m0 252v1m1-275v2m0 272v1m0 7v1m1-283v2m0 64v1m0 215v1m1-282v2m1-1v2m0 273v1m1-273v2m0 45v4m0 4v3m0 1v1m0 216v1m1-272v2m0 18v5m0 245v1m1-265v9m1 190v1m3 55v1m2-57v1m0 60v1m1-214v1m0 206v1m1-1v1m0 7v1m1-244v16m0 7v1m0 219v1m1-278v2m0 10v2m0 12v2m0 249v1m1-279v1m0 277v1m1-279v1m1-1v1m0 276v1m1-278v2m1-1v2m0 53v1m1-54v3m0 29v21m0 1v1m1-46v3m0 13v2m1 238v1m1-55v1m0 52v1m1-212v1m2 209v1m2 0v1m1 0v1m0 5v1m1-236v4m0 231v1m1-244v2m0 19v1m1-52v3m0 13v9m0 247v1m1-274v2m1-2v2m0 50v1m1-53v2m0 53v1m1-55v1m1-1v2m0 36v5m1-41v2m0 26v2m0 19v1m0 210v1m0 3v1m1-250v8m0 182v1m2-157v1m1 0v1m3 212v1m0 3v1m3-236v2m0 11v1m1-37v5m0 10v3m0 19v1m0 153v2m1-202v3m1-4v2m0 200v1m0 55v2m1-260v1m1-1v1m0 256v1m1-258v1m0 256v1m0 5v1m1-263v1m0 31v3m0 9v1m0 218v1m1-263v3m0 9v6m0 3v5m0 171v1m4 64v1m1-2v1m4-225v4m0 1v1m1-16v3m0 163v1m0 58v1m1-246v2m1-7v2m0 188v1m0 58v1m1-251v1m0 249v1m1-252v2m0 189v1m1-192v2m0 249v1m0 7v1m1-259v1m0 38v1m0 218v1m1-258v1m0 24v4m0 222v1m1-250v6m1 248v1m4-72v1m2-1v1m0 60v1m1 3v1m1-217v2m0 148v1m1-175v2m0 233v1m1-241v2m0 238v1m0 7v1m1-251v2m0 248v1m1-251v1m0 32v1m0 216v1m1-251v1m1-1v1m0 245v1m1-246v1m0 247v1m1-248v8m4 161v2m1 66v1m3-2v1m1-69v1m0 75v1m1-236v2m0 11v6m0 4v1m0 134v1m0 69v1m0 6v1m1-241v2m0 26v1m0 205v1m0 5v1m1-242v2m1-2v1m1-1v1m1-1v2m1-1v2m1 16v3m2 10v1m0 197v1m1-1v1m0 3v1m1-80v1m2 81v1m1-85v1m1-2v1m0 84v1m1-87v1m0 85v1m1-228v8m0 215v1m1-228v2m0 16v3m0 209v1m1-231v1m0 23v1m1-25v2m1-1v1m1 0v1m1 0v3m0 215v1m1-213v3m0 208v1m1-204v2m0 119v1m1-113v1m3 193v1m1 0v1m0 5v1m1-97v2m0 94v1m2-2v1m2-219v7m1-8v3m0 9v3m1-14v2m1-1v2m1 0v2m0 203v1m0 3v1m1-209v2m0 111v1m0 90v1m1-203v2m1 1v2m0 104v1m0 99v1m1-203v2m0 193v1m1 6v1m1-192v1m0 86v1m0 98v1m0 4v1m2-3v2m6-9v1m1-180v2m0 73v1m0 102v1m0 2v1m1-196v10m0 79v2m0 101v1m0 3v1m1-196v4m0 82v3m0 102v1m1-190v3m0 80v3m0 104v1m0 2v1m1-193v3m0 77v4m0 105v4m1-191v3m0 73v4m0 109v1m1-187v4m0 8v4m0 44v1m0 7v5m1-51v1m10 5v6m0 10v4m1-31v9m0 23v4m1-40v8m0 29v4m1-46v11m0 29v4m1-42v11m0 22v6m1-32v22m9 19v11m1-18v15m1-20v14m1-18v13m1-17v12m1-15v9m1-9v1m10 24v20m1-26v5m0 16v10m1-35v5m0 12v17m1-37v18m1-21v11m2-70v8m29 74v14m1-4v5m4-98v19m1-19v10m0 10v12m1-27v9m0 11v10m1-21v17"/>
<path stroke="#fdcf1c" d="m283 1062v11m33-26v17m1-32v6m0 30v4m1-44v4m0 44v6m1-55v3m0 51v4m1-58v4m0 51v4m1-56v7m0 45v4m1-24v3m0 14v4m1-14v9m10-48v2m0 29v3m1-40v2m0 43v2m0 9v2m0 13v3m1-88v7m0 81v3m1-92v3m0 88v2m1-93v3m0 89v2m1-93v2m0 90v2m1-94v3m0 22v7m0 58v3m1-91v3m0 13v2m0 31v4m0 21v2m1-69v3m0 49v3m0 4v3m9-48v2m0 8v3m0 45v9m1-73v2m0 24v13m0 19v1m0 21v3m1-109v4m0 70v3m0 33v2m1-115v2m0 113v2m1-118v2m0 115v2m1-119v2m0 115v2m1-119v2m0 115v2m1-118v1m0 33v2m0 11v2m0 42v3m0 9v3m0 7v4m1-115v2m0 9v16m0 27v14m0 15v2m10-54v2m0 14v2m0 39v2m0 14v2m1-118v2m0 5v3m0 11v3m0 42v29m0 34v3m1-134v2m0 134v1m1-138v2m0 136v2m1-139v2m0 136v1m1-137v2m0 134v2m1-136v1m0 104v4m0 24v9m0 7v2m1-148v1m0 33v4m0 17v2m0 37v2m0 16v3m0 39v2m1-152v2m0 9v3m0 44v11m0 51v2m0 36v2m1 2v1m8-67v5m1-113v8m0 22v3m0 31v2m0 33v3m1-105v1m0 15v3m0 7v2m0 45v3m0 4v4m0 29v1m1-116v2m0 194v1m1-197v1m0 196v1m1-198v2m1-1v2m1 1v2m0 52v7m1-53v3m0 18v2m0 36v1m0 18v4m0 9v1m0 172v2m1-257v7m0 50v6m1 196v1m1-6v1m0 5v1m1-7v1m1 6v1m1-7v1m3-76v1m0 79v1m1-243v11m0 41v1m1-92v14m0 19v2m0 35v2m0 17v1m1-93v2m0 24v4m0 50v8m0 1v1m1-91v2m1-2v1m0 206v1m0 68v2m1-278v2m1 0v1m0 83v1m1-83v2m0 34v2m0 15v13m0 205v1m0 5v1m1-261v6m0 5v4m0 42v3m0 194v1m1-1v1m0 6v1m1-1v1m1-1v1m1-5v1m1 2v1m1-205v1m0 131v1m1-135v1m1-2v1m1-2v1m1-33v2m0 13v3m0 13v1m0 137v1m1-213v3m0 4v4m0 6v21m0 34v2m0 138v1m0 61v1m0 1v1m1-278v2m0 72v1m1-75v1m1-1v2m0 272v1m1-274v2m0 271v1m1-272v2m0 42v3m0 5v3m1-52v2m0 31v3m0 21v4m1-53v2m0 265v1m2-2v1m1-69v1m2 0v1m1-148v1m0 146v1m1 58v1m1-2v1m1-223v8m0 218v1m1-276v6m0 32v5m0 19v1m0 1v1m1-67v2m0 10v4m0 4v4m0 41v1m0 213v1m1-280v1m1-1v1m0 272v1m1-273v1m0 272v1m1-273v1m0 276v1m1-275v1m0 40v4m0 11v1m1-52v2m0 13v3m2 35v1m1 149v1m1-152v1m0 150v1m1-1v1m0 57v1m1-59v1m0 55v1m1-209v1m1 0v2m0 211v1m2-227v7m1-55v3m0 4v3m0 16v3m1-31v2m0 15v6m1-23v2m0 54v1m0 216v1m0 2v1m1-277v2m0 273v1m1-275v1m1 0v1m1 2v3m0 23v3m1-20v3m0 7v3m0 29v1m1 156v1m1 55v1m1-4v1m1-55v1m2 60v1m1-1v1m3-242v2m0 14v3m0 219v1m0 1v1m1-270v2m0 7v4m0 9v3m0 23v1m1-51v2m0 48v1m1-51v1m0 206v1m1-208v1m0 50v1m1-52v1m0 206v1m1-207v1m0 31v4m0 5v4m0 216v2m1-261v5m0 19v2m1 232v1m0 4v1m1-62v1m0 55v1m1 6v1m1-8v1m0 6v1m1-7v1m0 5v1m1-6v1m0 4v1m2-3v2m2-233v4m0 2v5m1-18v2m1-26v2m0 196v1m1-201v1m1-2v2m0 255v1m0 1v1m1-260v1m0 199v1m1-201v2m1-1v2m0 27v2m0 167v1m0 56v1m1-253v9m0 6v3m0 234v1m2 6v1m1-1v1m1-4v1m5-217v1m0 149v1m1-164v3m0 8v1m0 211v1m1-245v4m0 239v1m0 2v1m1-252v2m1-4v2m1-2v1m0 248v1m1-250v1m1-1v2m0 31v5m0 212v1m1-250v2m0 9v13m1 231v1m1-3v1m5-70v1m2-150v1m0 209v1m1 4v1m1-240v4m0 167v1m0 68v1m1-246v2m1-4v1m0 175v1m1-178v2m0 29v1m1-32v1m0 31v1m1-33v2m0 246v1m1-248v2m0 9v12m0 2v6m0 215v1m5-9v1m1-69v1m0 69v1m1-4v1m1-69v1m3-159v11m1-16v2m1-3v1m0 25v1m1-28v2m0 235v1m0 1v1m1-240v2m1-1v2m1-1v3m1 16v7m2 4v1m1 121v1m1 74v1m0 4v1m1-82v1m0 81v1m2-7v1m0 6v1m1-206v1m1 199v1m2-225v3m0 10v3m0 211v1m1-229v2m1-1v1m1-1v2m1-1v2m1 1v2m0 17v1m1-14v3m0 11v2m0 195v1m1-205v3m0 4v1m0 193v1m1-84v1m0 82v1m1-194v1m1 199v1m1-1v1m2-98v1m1 93v1m0 1v1m4-217v9m1-9v3m0 13v3m1-18v2m0 204v2m1-206v2m1-1v2m0 205v1m1-206v2m0 106v1m0 91v1m0 5v1m1-204v2m0 195v1m1-194v2m0 5v1m0 192v1m1-193v1m0 88v1m0 96v1m1-185v1m1 188v1m8-186v1m0 71v1m0 104v2m1-185v4m0 74v1m0 104v3m1-191v5m0 183v4m1-191v3m0 76v1m0 108v2m1-189v3m0 72v2m1-75v3m0 67v3m1-69v8m0 4v2m11 16v10m1-18v7m0 13v3m1-28v8m0 18v3m1-31v8m0 16v5m1-27v22m27 16v16m1-20v12m39-73v10m1-6v11"/>
<path stroke="#faab20" d="m317 1038v9m0 17v4m1-36v5m0 33v6m1-46v5m0 41v5m1-50v5m0 42v4m1-45v8m0 5v10m0 17v5m1-17v4m0 5v5m11-47v2m0 10v17m1-35v2m0 39v2m0 13v3m0 7v3m1-78v5m0 74v2m1-86v4m0 82v2m1-88v2m0 85v2m1-89v2m0 85v3m1-89v2m0 18v2m0 7v4m0 46v8m1-85v2m0 9v2m0 37v2m0 17v2m1-12v4m9-43v8m1-14v2m0 18v4m0 33v2m0 16v3m1-102v3m0 63v4m0 3v4m0 27v2m1-111v3m0 108v2m1-114v2m0 111v2m1-115v1m0 113v1m1-115v1m0 39v1m0 72v2m1-115v2m0 29v2m0 15v3m0 37v2m0 15v7m1-109v9m0 57v5m0 8v2m10-50v3m0 9v2m0 43v2m0 9v3m1-114v5m0 17v12m0 27v3m0 29v2m0 27v5m1-129v2m0 130v2m1-135v2m0 133v1m1-135v2m0 133v1m1-134v1m0 132v1m1-133v2m0 42v10m0 46v4m0 4v3m0 19v2m0 9v7m1-145v1m0 20v12m0 23v2m0 32v3m0 21v3m0 6v6m0 23v1m1-148v9m0 111v1m0 34v1m1-39v1m1-3v1m0 46v1m1 1v1m7-146v17m0 12v2m0 38v3m0 6v1m1-114v3m0 10v2m0 12v3m0 40v2m0 11v4m1-88v2m0 107v1m0 83v1m1-195v2m1-1v2m1-1v2m0 193v1m1-193v3m0 29v20m0 7v3m0 35v3m1-91v3m0 13v2m0 39v3m0 12v3m0 14v1m0 94v1m1-97v1m0 172v1m7 2v1m0 1v1m2-80v1m1-168v2m0 19v4m0 4v6m1-71v2m0 17v5m0 4v4m0 43v3m0 8v1m0 1v1m1-90v1m0 87v1m1-90v2m1-1v2m0 84v3m0 185v1m0 1v1m1-276v2m0 39v9m1-47v2m0 29v3m0 30v6m0 8v1m1-58v5m0 49v2m2 193v1m1 0v1m2 2v1m1-73v1m4-166v4m0 4v5m1-55v4m0 31v3m0 22v9m0 203v1m1-275v2m0 69v1m0 1v1m0 136v1m0 62v1m0 2v1m1-278v2m0 69v1m1-71v1m1 0v1m0 277v1m1-277v1m0 38v3m0 11v3m0 220v1m1-274v3m0 10v18m0 28v2m0 212v1m2-4v1m0 1v1m7-216v1m1 205v1m1-229v4m0 12v3m0 3v1m0 210v1m1-277v2m0 6v2m0 12v5m1-28v2m0 276v1m1-279v2m0 276v1m1-278v2m0 59v1m0 215v1m1-277v2m0 47v7m1-53v2m0 23v15m0 231v2m1-267v3m0 6v4m2 39v1m3 205v1m2-2v1m1-1v1m1-1v1m1-1v1m1-266v4m0 22v4m0 236v1m1-270v2m0 9v4m0 6v4m0 245v1m0 3v1m1-275v1m1-1v1m1-1v2m0 51v1m1-53v2m0 32v5m0 10v3m1-47v4m0 16v3m0 26v1m0 155v1m1-197v7m0 189v1m1-158v1m1 210v1m1 2v1m1-216v1m0 210v1m1-1v1m0 5v1m1-7v1m3 5v1m1-239v14m0 223v1m1-267v7m0 16v2m1-27v1m1-2v1m0 204v1m1-206v1m0 205v1m1-207v2m0 48v1m1-50v2m0 27v2m0 13v6m1-44v9m0 7v3m0 24v1m0 154v1m0 55v1m2-59v1m0 62v1m1-7v1m4 5v1m3-229v2m1-11v3m1-27v20m0 20v1m1-44v2m1-2v1m1-2v2m0 254v1m1-256v1m0 31v11m1-42v2m0 21v4m1 233v1m1-1v1m2-5v1m1 2v1m6-229v8m1-28v15m0 13v1m0 150v1m1-187v2m0 244v1m0 3v1m1-253v2m0 185v1m0 65v1m1-255v2m0 253v1m1-256v2m0 35v2m0 216v1m1-255v1m0 25v5m0 223v1m1-254v9m0 244v1m2-2v1m6-9v2m1-65v1m1-149v1m0 209v1m1-231v20m1-27v2m0 24v1m1-30v2m0 238v1m1-241v1m0 240v1m0 4v1m1-248v2m0 241v1m0 3v1m1-247v1m1 0v9m0 12v2m7 216v1m1-5v1m1-70v1m0 68v1m0 5v1m1-7v1m1-72v1m1-159v2m0 15v7m0 211v1m1-238v2m0 235v1m1-238v1m0 24v1m0 210v1m1-237v1m1 0v2m1 0v13m0 9v1m3 5v1m0 196v2m1-81v3m2 75v1m1-78v1m0 76v1m1-199v1m0 119v1m1-120v2m0 196v1m1-82v1m0 85v1m1-1v1m1-226v3m0 3v4m1-12v2m0 15v4m1-21v2m0 19v1m1-21v2m1-1v2m1 1v3m1 4v2m0 11v1m0 192v1m1-200v4m0 111v1m1-111v1m1 108v1m0 83v1m1-86v1m0 84v1m1-193v1m0 105v1m1-106v1m0 103v1m1 89v1m0 2v1m1-2v1m5-213v4m0 3v6m1-13v3m0 13v1m1-15v2m0 13v1m0 186v1m1-202v2m0 106v1m1-107v2m1 1v2m0 7v1m1-6v5m0 1v1m0 89v1m1 100v1m1-106v2m0 103v1m1-3v2m8-184v1m0 69v1m1-74v4m0 69v1m1-78v3m0 4v1m0 68v1m1-78v3m0 72v1m1-75v3m0 6v2m0 60v1m1-70v6m0 1v4m0 53v3m1-52v1m12 14v13m1-17v18m1-20v16"/>
<path stroke="#f68c24" d="m317 1047v17m1-27v7m0 22v4m1-35v5m0 30v6m1-40v7m0 29v6m1-33v5m0 10v8m0 2v7m1-8v5m11-40v10m1-16v2m0 34v3m0 18v7m1-70v3m0 46v9m0 13v3m1-80v4m0 76v2m1-84v3m0 80v2m1-85v2m0 80v3m1-84v2m0 13v3m0 13v14m0 28v4m1-75v9m0 41v3m0 11v3m11-53v2m0 13v3m0 39v3m0 10v3m1-96v18m0 40v5m0 11v2m0 23v2m1-106v2m0 105v1m1-110v2m0 108v1m1-112v2m0 109v2m1-113v2m0 32v5m0 1v5m0 47v8m0 10v2m1-111v3m0 23v3m0 20v3m0 32v2m1-14v8m10-45v9m0 47v9m1-77v6m0 19v2m0 34v3m0 19v5m1-122v3m0 3v13m0 109v2m1-131v3m0 128v2m1-132v2m0 129v2m1-132v2m0 128v2m1-130v1m0 38v3m0 10v3m0 41v2m0 11v3m0 15v1m1-126v2m0 14v4m0 37v3m0 11v18m0 27v6m0 6v2m0 19v2m1-26v1m0 31v2m1-37v1m0 40v1m1-44v2m0 43v1m1 0v2m7-128v12m0 43v4m1-108v3m0 3v4m0 17v2m0 35v3m0 17v14m1-100v2m0 14v8m0 49v7m0 26v1m1-108v2m0 104v3m1-108v2m0 102v2m0 87v1m1-193v2m0 98v3m1-99v4m0 21v4m0 30v3m0 22v10m0 3v1m1-89v5m0 3v5m0 44v4m0 3v5m1 17v1m0 172v2m1-3v1m1-1v1m1 4v1m1-6v1m0 4v1m1-1v1m1-1v1m1-2v1m2-189v2m1-57v5m0 4v10m0 4v4m0 26v1m0 111v1m1-202v17m0 13v3m0 37v3m0 14v1m1-90v3m0 77v7m0 1v1m1-89v2m0 83v3m1-87v2m0 81v1m0 118v1m0 70v1m1-273v2m0 33v4m0 9v15m0 208v1m1-269v17m0 8v4m0 39v4m4 201v1m1-1v1m3-73v1m3-163v4m1-12v4m0 13v5m0 11v1m1-72v35m0 33v1m1-70v2m0 270v1m0 3v1m1-277v2m0 66v1m0 203v1m0 4v1m1-277v2m0 41v11m0 12v1m0 204v1m1-270v2m0 31v5m0 17v6m0 2v1m0 205v1m1-265v10m0 255v1m1 0v1m0 2v1m1-2v1m3-212v1m1-2v1m3 204v2m1-62v1m1-166v12m0 212v1m1-270v6m0 19v16m0 19v1m0 208v1m1-271v2m0 7v12m0 40v1m0 208v1m1-271v2m1-1v1m1 0v2m0 39v6m0 7v4m0 213v1m0 1v1m1-271v4m0 14v5m1-16v6m2 44v1m0 146v1m1-150v1m2-2v1m1 207v1m0 1v1m1-61v1m2 62v1m1-1v1m1-242v22m0 219v1m1-273v3m0 2v4m0 14v3m0 26v1m1-54v2m0 12v6m0 251v2m1-273v2m1-1v1m1 0v3m0 23v6m0 5v10m1-40v4m0 8v4m3 240v1m1-57v1m0 54v1m1-57v1m0 59v1m1-217v1m1 216v1m1-6v1m0 4v1m1-5v1m0 3v1m1-4v1m2-240v4m0 14v3m1-47v3m0 5v16m1-25v2m1-2v2m1-1v2m0 29v12m0 4v1m0 1v1m1-49v4m0 19v4m0 175v1m1-190v7m0 240v1m1-214v1m0 153v1m0 56v1m2-212v1m3 215v1m1-3v1m4-233v5m0 4v5m1-21v4m1-25v2m0 39v2m1-44v2m0 40v1m0 154v1m0 57v1m1-256v1m0 40v2m0 214v1m1-258v2m0 25v4m0 11v1m0 153v1m0 57v1m1-253v21m0 19v1m0 216v1m1-218v1m1 211v1m1 0v1m1 3v1m1-2v1m5-69v1m1-151v1m1-15v5m0 9v1m0 210v2m1-247v5m0 28v1m1-36v1m0 34v1m0 210v1m1-248v1m0 34v2m0 148v1m0 61v1m1-248v1m0 29v5m0 2v1m0 209v1m1-248v2m0 7v16m2 225v1m0 1v1m7-219v1m0 146v1m1 64v1m1-67v1m1-148v1m0 209v1m1-236v4m0 21v1m0 145v1m0 63v1m0 5v1m1-245v2m0 25v2m0 215v1m1-246v2m1-2v2m1-2v3m0 6v10m0 5v5m0 214v2m7-214v1m0 135v1m0 68v2m1-71v1m1 72v1m2-210v1m0 133v1m0 75v1m1-211v2m0 130v1m0 77v1m1-234v15m1-17v2m0 230v1m1-234v2m1-2v2m0 22v1m1-23v3m0 19v1m1-10v9m4 4v1m0 198v1m0 1v1m1-202v1m0 121v1m1-123v1m0 120v1m1-122v1m0 203v1m2-86v1m0 84v1m1-89v2m1 84v2m1-222v3m1-6v3m0 7v5m1-15v2m1-1v2m1-1v3m1 1v3m1 3v5m0 3v1m0 196v1m1-196v1m0 108v1m0 84v1m0 2v1m1 0v1m1 0v1m1-199v1m1 192v1m1 0v1m0 3v1m7-210v3m1-4v4m0 6v3m1-12v2m0 10v1m0 1v1m0 186v2m1-202v2m0 10v1m0 92v1m0 93v1m1-198v2m0 8v1m0 92v1m0 93v1m1-195v3m0 5v1m0 90v1m0 94v1m0 4v1m1-6v1m0 4v1m1-191v1m0 185v1m1 0v1m0 1v1m11-188v4m0 1v1m0 66v1m1-74v4m0 1v3m0 63v1m1-71v6m0 2v1m0 57v2m1-63v1m0 4v1m0 49v3m1-48v1"/>
<path stroke="#f36b27" d="m318 1044v22m1-26v30m1-27v29m1-4v2m13-40v3m0 13v18m1-39v3m0 40v3m0 9v4m0 6v3m1-73v3m0 70v3m1-79v3m0 74v3m1-81v3m0 15v10m0 48v4m1-79v3m0 7v3m0 30v6m0 19v3m1-18v11m11-48v5m0 3v5m0 45v10m1-75v4m0 21v15m0 18v3m0 17v3m1-102v3m0 65v7m0 27v3m1-107v2m0 104v2m1-109v2m0 105v2m1-109v2m0 27v3m0 11v4m0 39v4m0 8v10m1-106v23m0 26v18m0 11v3m12-55v4m0 12v3m0 39v3m0 12v4m1-114v3m0 13v6m0 37v32m0 30v4m1-126v3m0 123v2m1-128v2m0 125v2m1-128v2m0 42v7m0 49v8m0 18v2m1-127v2m0 21v15m0 16v3m0 35v3m0 16v4m0 9v2m1-123v4m0 5v5m0 44v11m0 59v8m0 6v5m1-23v2m0 24v5m1-34v2m0 35v3m1 0v2m8-66v2m1-107v3m0 23v19m0 13v3m0 34v6m0 4v1m1-109v2m0 8v4m0 8v4m0 41v4m0 7v6m1-85v2m0 101v1m0 3v1m0 83v1m1-191v2m0 99v1m0 2v1m1-104v3m0 28v30m0 36v1m0 3v1m0 88v1m1-185v5m0 12v4m0 37v4m0 12v6m0 14v1m0 90v1m1-176v3m0 53v3m0 23v2m0 91v1m2 78v1m0 1v1m1 0v1m1-5v1m2 0v1m1 0v1m3-78v1m1-160v4m0 45v1m1-58v5m0 11v21m0 18v1m0 112v1m1-201v4m0 7v20m0 39v7m0 9v1m0 113v1m1-202v3m0 79v1m0 3v1m0 114v1m1-201v2m0 33v17m0 28v1m1-80v16m0 12v5m0 28v10m0 7v1m0 193v1m1-255v8m0 47v4m0 192v1m0 3v1m1-5v1m0 4v1m1-6v1m0 4v1m1-1v1m2-3v2m3-205v1m1-2v1m0 133v1m1-136v1m0 134v1m1-137v1m0 135v1m1-167v13m0 17v1m0 135v1m1-174v6m0 14v13m0 204v2m1-273v33m0 33v1m1-67v2m0 40v11m1-52v2m0 32v7m0 11v8m0 214v1m1-273v31m0 28v2m1 211v1m5-69v1m1-1v1m1-146v1m0 144v1m1-147v1m0 145v1m1-147v1m0 145v1m1-148v1m0 206v1m0 1v1m2-232v19m0 214v1m1-274v7m0 12v20m1-39v2m0 6v11m0 250v1m1-270v2m0 40v16m0 212v1m0 2v1m1-272v4m0 15v20m0 231v1m1-266v14m3 185v1m1-148v1m0 147v1m1-150v1m0 148v1m1-150v1m0 148v1m1-151v1m0 148v2m0 58v1m1-210v2m0 147v1m0 58v1m0 2v1m1 0v1m2-5v1m2-265v2m0 21v26m0 219v1m1-271v3m0 1v8m0 6v7m1-25v2m0 11v4m0 33v1m1-51v3m0 23v24m1-47v8m0 9v6m1-15v8m0 188v1m1-156v1m0 154v1m1-1v1m1-157v1m0 155v1m1-157v1m1-1v1m0 210v1m1-1v1m1-1v1m3 2v2m2-238v14m1-41v5m0 16v6m0 15v2m1-46v3m0 5v14m0 23v1m1-46v2m0 28v11m0 5v1m0 155v1m1-202v3m0 20v6m0 12v4m0 3v1m0 152v1m1-199v19m0 25v1m1-1v1m0 152v1m0 57v1m1-60v1m0 60v1m1-215v1m0 210v1m1-1v1m0 4v1m1-6v1m0 4v1m1-1v1m1-4v1m1 1v1m4-229v4m1-12v7m0 6v3m0 155v1m1-195v23m0 18v1m0 152v1m1-196v2m0 37v1m0 1v1m1-43v3m0 23v14m0 2v1m0 152v1m0 58v1m1-254v25m0 231v1m1-64v1m0 58v1m1-1v1m0 4v1m1-1v1m1-1v1m1-3v1m7-217v1m0 148v1m1-160v8m0 150v1m1-179v20m0 7v1m0 1v1m0 148v1m0 61v1m1-247v5m0 28v1m0 1v1m0 147v1m1-185v3m0 26v5m0 2v1m0 214v1m1-252v3m0 6v20m1-28v7m0 239v1m1 0v1m0 2v1m1-2v1m6-71v1m2-148v1m0 145v1m0 63v2m1-2v1m0 2v1m1-69v1m0 68v1m1-237v20m0 146v1m1-172v5m0 19v1m1-26v2m0 23v1m1-26v2m0 6v7m0 8v4m0 213v1m0 1v1m1-242v6m0 10v5m7 142v1m1-136v1m0 134v1m0 69v1m1-206v1m0 134v1m0 69v1m1-206v1m0 133v1m1-2v1m1 71v1m1 0v1m1-230v4m0 4v13m0 210v2m1-234v2m1-2v3m1 0v19m5 5v2m0 197v1m1-200v1m0 117v3m0 77v1m0 2v1m1-202v1m0 118v1m0 78v1m0 3v1m1-203v1m0 117v2m1-120v2m0 115v2m0 79v1m0 4v1m1-89v3m1 82v1m0 1v1m3-222v7m1-8v3m0 5v9m1-16v3m0 13v1m1-15v4m1 0v8m1 0v3m1 3v1m1-1v1m0 106v2m0 84v1m1-194v1m0 106v1m0 85v1m1-88v1m0 86v1m0 4v1m1-198v1m0 103v1m0 92v1m1-96v2m1 91v2m7-206v6m1-7v6m0 1v3m1-9v4m0 5v1m0 1v1m0 186v1m0 1v1m1-199v4m0 3v1m0 1v1m0 90v1m0 98v1m1-196v4m0 91v1m1-90v1m0 87v1m0 97v1m1-186v1m0 84v2m0 99v1m0 1v1m1-2v1m9-182v1m1-1v1m0 66v2m1-68v1m0 64v1m1-69v1m0 3v1m0 60v2m1-61v1m0 54v2m1-55v2m0 46v1"/>
<path stroke="#f0442a" d="m334 1033v13m1-18v3m0 31v6m0 16v6m1-67v4m0 43v11m0 8v4m1-73v4m0 66v4m1-75v4m0 6v5m0 10v20m0 23v5m1-72v7m0 39v6m0 8v5m12-47v3m1-11v4m0 10v7m0 36v6m0 5v6m1-96v20m0 27v18m0 7v5m0 20v2m1-102v3m0 98v3m1-105v3m0 26v13m0 44v12m0 3v4m1-105v4m0 17v6m0 18v17m0 18v4m1-17v11m12-48v12m0 45v12m1-88v17m0 16v4m0 32v5m0 16v9m1-119v16m0 44v11m0 7v8m0 35v2m1-124v3m0 120v2m1-124v2m0 32v8m0 7v5m0 39v5m0 8v6m0 10v2m1-123v2m0 11v8m0 34v7m0 4v24m0 23v9m1-117v5m0 127v6m1-16v1m0 20v3m1 5v3m10-121v13m0 43v4m1-106v8m0 16v23m0 12v6m0 17v20m1-103v4m0 4v18m0 40v17m0 17v1m1-100v3m0 26v32m0 36v2m0 4v1m0 84v1m1-187v9m0 11v8m0 30v8m0 10v18m0 5v1m1-92v12m0 45v12m3 191v1m1-2v1m0 1v1m1-3v1m0 2v1m1-4v1m0 2v1m1-3v1m0 1v1m1-2v2m4-189v1m0 108v1m1-163v11m0 40v1m0 110v1m1-196v7m0 20v39m0 17v1m1-86v79m1-79v33m0 17v28m1-63v12m0 43v7m0 192v2m1-2v1m3-1v1m1 0v1m0 1v1m7-207v1m2-33v14m1-21v33m0 205v1m0 1v1m1-272v40m0 11v13m0 205v1m0 2v1m1-272v32m0 26v4m1 206v1m0 3v1m1-4v1m1 0v2m5-212v1m4 204v1m1-2v1m0 2v1m1-4v1m1-231v20m0 210v1m0 3v1m1-272v6m0 11v40m0 214v1m1-272v40m1-36v15m5 185v1m1-148v1m0 146v1m1-148v1m0 146v1m1-149v1m1 207v2m1-3v1m1-1v1m0 3v1m1-1v1m1-4v1m0 2v1m1-3v2m1-267v1m0 21v26m1-49v11m0 4v33m1-47v23m1-15v9m3 32v1m2 153v1m0 56v2m1 0v1m1 0v1m2-4v1m0 2v1m1-3v1m0 1v1m4-238v15m1-41v5m0 14v23m1-43v28m0 11v5m1-42v20m0 177v1m1-1v1m2-154v1m0 210v2m1-213v1m0 213v1m3-4v1m0 2v1m1-2v2m6-230v6m1-13v16m1-38v37m0 155v1m1-193v23m0 229v1m1-214v1m0 151v1m0 59v1m0 1v1m1-215v1m0 214v1m2-4v1m1 0v1m0 1v1m1-1v1m7-70v1m1-149v1m1-11v7m0 3v1m0 146v1m0 63v2m1-244v28m0 213v1m0 2v1m1-248v26m0 218v1m1-245v6m0 238v1m0 3v1m1-1v1m1-3v2m10-218v1m0 144v1m1-146v1m0 209v1m1-1v1m0 3v1m1-237v19m0 213v1m0 3v1m1-241v23m0 214v1m0 2v1m1-241v6m0 7v8m0 218v1m9-212v1m0 204v2m1-207v1m0 132v1m0 73v1m1-208v1m0 131v1m0 71v1m0 3v1m1-209v1m0 203v1m0 3v1m1-1v1m1-3v1m0 1v1m1-229v4m1-7v20m1-19v19m7 6v1m0 197v1m1-199v1m0 116v1m1-118v1m0 115v1m0 80v1m0 3v1m1-87v1m1 82v1m0 2v1m1-2v1m4-219v5m1-4v13m1-10v11m1-3v3m2 197v2m1 0v1m1-196v1m0 104v1m0 90v1m1-197v1m0 103v1m1-2v1m0 89v1m1 0v1m0 1v1m9-201v1m1-2v5m0 190v1m1-194v3m0 3v1m0 88v1m0 96v3m1-189v1m0 87v1m0 97v4m1-103v1m0 99v3m1-2v1m11-181v1m1 0v1m0 62v1m1-63v1m0 57v2m1-58v1m0 52v1"/>
<path stroke="#ec242a" d="m335 1031v31m1-35v43m0 11v8m1-65v66m1-67v6m0 35v23m1-15v8m13-46v10m0 49v5m1-70v27m0 30v20m1-97v98m1-99v26m0 13v44m0 12v3m1-97v17m0 41v18m14-52v16m0 41v16m1-94v44m0 11v7m0 8v35m1-119v120m1-120v32m0 20v39m0 19v10m1-119v11m0 49v4m14-27v12m1-56v4m0 18v40m0 17v17m1-96v26m0 32v36m1-86v11m0 46v10m5 192v1m1-1v2m1-2v2m1-1v1m11-6v2m1-3v4m1-4v2m0 1v1m1-3v3m1-2v1m10-6v1m1-1v2m1-3v2m0 1v1m1-3v1m0 1v1m1-2v2m11-7v2m1-2v3m1-3v1m0 1v1m1-3v3m1-2v2m11-7v3m1-3v1m0 1v1m1-3v1m0 1v1m1-2v2m11-7v2m1-2v3m1-3v1m0 1v2m1-3v2m1-1v1m11-7v3m1-3v1m0 1v2m1-4v2m0 1v1m1-3v2m11-6v1m1-2v3m1-3v1m0 2v1m1-3v3m1-2v1m11-6v2m1-2v1m0 1v1m1-3v1m0 1v1m1-3v3m11-7v2m1-2v3m1-3v1m0 1v1m1-3v3m1-2v2m11-7v2m1-2v1m0 1v1m1-3v1m0 1v1m1-3v3m1-1v1m10-6v1m1-2v3m1-3v1m0 1v1m1-3v4m1-3v2m11-7v2m1-2v3m1-3v1m0 2v1m1-3v3m1-2v1"/>
<path stroke="#cf202a" d="m412 1255v1m14-5v1m1-1v1m14-5v1m14-5v1m1-1v1m14-5v1m14-5v1m1 0v1m14-6v2m14-5v1m1-1v1m14-5v1m14-5v1m1-1v1m14-5v1m15-5v2"/>
<path stroke="#3460b8" d="m380 1122v18m1-24v44m1-47v49m1-52v54m1-57v59m1-61v63m1-65v7m0 31v29m9-59v29m1-58v13m0 8v45m0 9v23m1-100v101m1-102v102m1-104v105m1-106v106m1-108v36m0 31v38m1-30v7m8-91v6m0 40v16m0 54v1m1-118v15m0 9v60m0 11v23m1-119v119m1-121v121m1-122v123m1-124v124m1-111v38m0 19v50m1-99v7m0 62v10m8-111v9m0 55v15m0 55v3m1-138v31m0 13v57m0 13v24m1-139v139m1-140v140m1-140v140m1-141v141m1-125v51m0 18v40m1-89v10m0 61v9m8-117v15m0 55v14m0 43v8m1-139v40m0 13v58m0 12v21m1-145v145m1-145v145m1-146v146m1-146v146m1-147v6m0 17v42m0 6v3m0 19v39m1-87v10m0 63v6m8-115v13m0 44v6m0 8v11m0 42v13m1-152v50m0 13v42m0 12v7m0 7v24m1-155v155m1-156v155m1-155v155m1-155v155m1-156v15m0 16v40m0 29v40m1-84v8m0 44v9m8-97v10m0 43v11m0 58v11m1-156v41m0 13v4m0 10v42m0 14v32m1-156v155m1-155v155m1-156v156m1-156v156m1-156v7m0 28v41m0 15v54m1-102v10m0 59v12m8-116v10m0 60v12m0 58v2m1-149v40m0 16v54m0 15v24m1-151v150m1-151v151m1-151v151m1-151v150m1-151v10m0 15v55m0 14v55m1-103v12m0 58v12m8-116v11m0 59v11m1-95v47m0 16v53m0 16v17m1-150v149m1-149v149m1-149v149m1-149v148m1-148v14m0 14v56m0 14v42m1-91v14m0 57v12m8-116v11m0 61v8m0 46v1m1-144v48m0 18v39m0 30v8m1-144v144m1-144v143m1-143v143m1-143v142m1-142v17m0 13v44m0 6v9m0 10v43m1-90v14m0 41v13m0 6v8m8-113v8m0 47v4m1-82v39m0 30v39m0 29v2m1-139v138m1-138v137m1-137v137m1-137v136m1-136v9m0 2v12m0 9v43m0 12v49m1-96v14m0 3v10m0 42v15m8-47v9m1-86v39m0 30v39m0 18v5m1-131v130m1-130v129m1-129v129m1-129v128m1-128v7m0 10v59m0 12v39m1-87v15m0 54v16m8-116v7m0 63v8m1-85v36m0 20v48m1-104v116m1-116v115m1-114v113m1-113v112m1-112v5m0 11v59m0 11v25m1-74v16m0 44v1m0 8v4m8-103v7m0 65v5m1-81v23m0 3v4m0 22v37m1-88v96m1-96v95m1-95v94m1-94v93m1-92v1m0 10v62m0 7v11m1-69v3m0 6v18m0 39v2m8-85v4m1-9v18m0 33v33m1-83v82m1-81v80m1-80v79m1-78v77m1-69v47m0 5v16m1-60v31m10-24v21"/>
<path stroke="#53599f" d="m379 1131v4m1-16v3m0 18v4m6-34v19m0 9v3m1-40v4m0 41v26m8-65v4m0 29v4m0 32v3m1-84v8m0 45v9m5-47v4m0 7v20m0 38v3m1-106v30m0 39v4m0 7v7m8-92v3m0 34v3m0 16v16m0 32v6m1-102v9m0 60v11m5-101v14m0 38v4m0 10v5m0 50v4m1-107v4m0 7v18m0 40v4m0 10v4m7-45v3m1-64v17m0 34v4m0 15v6m0 32v17m1-104v13m0 57v13m5-118v2m0 9v6m0 51v4m0 10v4m0 40v16m1-109v4m0 10v4m0 50v7m0 9v3m8-124v4m0 15v6m0 33v16m0 14v4m0 35v4m0 8v6m1-105v6m0 2v5m0 58v12m5-120v5m0 8v4m0 42v6m0 3v8m0 7v4m0 39v15m1-108v6m0 10v4m0 38v21m0 6v4m8-134v15m0 13v4m0 35v5m0 6v8m0 11v4m0 35v3m0 13v3m1-105v13m0 42v12m0 7v7m5-118v7m0 5v4m0 40v29m0 40v5m0 6v5m1-121v21m0 8v3m0 37v4m0 9v19m8-136v20m0 10v4m0 35v4m0 11v18m0 36v4m1-104v13m0 4v10m0 42v4m0 4v6m5-118v28m0 41v4m0 5v6m0 54v5m1-150v3m0 36v4m0 10v19m0 36v4m0 12v6m8-125v3m0 10v19m0 37v4m0 12v5m0 46v7m1-149v2m0 40v5m0 5v6m0 54v4m0 7v4m5-119v6m0 1v8m0 55v4m0 6v4m0 55v2m1-151v6m0 36v4m0 12v15m0 29v3m0 4v7m0 12v4m8-124v4m0 11v6m0 48v5m0 11v4m0 37v13m1-102v4m0 8v4m0 53v6m0 6v4m5-119v5m0 4v5m0 56v14m0 42v8m1-149v9m0 27v5m0 1v8m0 14v4m0 35v18m0 12v4m8-125v5m0 11v4m0 38v19m0 8v4m0 38v4m1-95v7m0 7v4m0 39v30m5-119v13m0 44v6m0 9v10m1-64v17m0 14v3m0 35v3m0 13v6m0 8v4m8-135v18m0 8v4m0 38v5m0 4v22m1-65v30m0 39v4m0 7v18m5-128v2m0 12v9m0 43v12m1-87v2m0 34v4m0 14v3m0 10v4m0 34v4m0 15v11m8-131v30m0 39v4m0 9v5m1-52v3m0 9v18m0 39v4m0 10v4m5-119v10m0 59v12m1-88v3m0 33v4m0 15v17m0 23v14m0 16v1m1-80v2m0 67v5m7-115v4m0 7v6m0 52v5m0 8v4m1-53v4m0 11v5m0 48v7m5-105v11m0 59v11m1-64v15m0 16v6m0 31v7m0 1v8m1-64v6m7-45v4m0 7v5m0 53v7m0 5v4m1-62v3m0 4v7m0 11v4m0 37v9m5-95v10m0 62v7m1-64v6m0 3v6m0 18v4m0 32v3m1-48v4m7-44v5m0 4v5m0 41v28m1-65v19m0 10v4m5-47v7m0 47v5m1-47v3m0 31v3m9-21v19"/>
<path stroke="#725387" d="m379 1127v4m0 4v3m1 6v2m6-17v9m1-33v2m0 36v3m7-31v3m0 14v5m1-31v1m0 37v1m0 29v2m6-62v7m1-47v2m0 30v2m0 35v2m0 18v13m7-110v1m0 47v9m1-49v2m0 30v2m0 35v2m0 17v13m6-61v10m1-50v2m0 29v3m0 35v2m0 18v3m7-118v5m0 61v4m0 3v3m1-50v2m0 18v14m0 25v12m0 18v2m6-120v9m0 61v10m1-52v3m0 18v5m0 32v13m0 19v3m1-82v2m6-40v9m0 61v9m1-61v12m0 19v2m0 34v2m0 31v2m1-81v2m5-40v8m0 63v7m1-89v3m0 23v13m0 20v2m0 34v2m0 31v2m7-118v8m0 117v4m1-115v2m0 31v2m0 34v2m0 31v2m6-116v5m0 118v6m1-151v1m0 32v2m0 32v2m0 34v1m0 32v2m7 7v7m1-154v2m0 34v1m0 33v1m0 33v3m0 30v3m1-27v4m5-39v5m0 65v5m1-152v2m0 32v2m0 33v2m0 32v2m0 22v12m1-27v6m6-41v6m1-83v2m0 32v2m0 32v3m0 21v13m0 21v12m1-95v5m0 64v7m5-109v1m0 67v6m1-84v2m0 31v3m0 31v4m0 20v5m0 3v4m0 23v3m1-87v8m0 63v7m6-111v5m0 65v5m1-84v2m0 21v13m0 22v13m0 20v2m0 33v2m1-85v8m0 63v6m5-110v4m1-15v4m0 19v4m0 5v1m0 26v3m0 30v2m0 34v1m1-85v8m0 65v3m6-108v4m1-25v12m0 20v2m0 34v2m0 31v2m0 34v2m1-84v7m6-63v13m0 20v2m0 34v2m0 31v2m0 34v2m1-83v6m0 48v3m7-114v3m0 30v2m0 34v2m0 31v2m1 6v7m6-117v2m0 31v1m0 35v2m0 30v2m1-62v5m0 63v10m7-119v2m0 30v2m0 35v2m0 18v14m1-63v9m0 61v3m0 3v4m6-119v2m0 28v3m0 36v2m0 17v4m1-53v4m0 2v4m0 60v3m0 5v3m7-120v2m0 17v14m0 35v3m0 17v2m1-51v3m0 5v3m0 60v3m6-113v2m0 17v3m0 37v13m0 16v2m1-50v2m0 6v3m7-32v2m0 37v14m0 16v2m1-50v3m0 6v2m6-32v2m0 37v2m0 9v3m0 16v2m1-49v4m0 4v3m7-33v2m0 37v2m0 28v2m1-48v10m6-33v2m0 37v2m0 14v6m1-53v8m0 9v8m7 6v1m1-32v3m0 2v5"/>
<path stroke="#924c6e" d="m379 1123v4m0 11v2m1 6v10m0 6v1m7-56v2m0 33v1m1-46v3m6 11v4m0 3v14m0 5v3m1-57v11m0 10v2m0 39v2m0 10v17m7-101v1m0 34v1m0 33v1m0 33v3m1-29v5m6-88v3m0 42v2m0 9v3m0 55v1m1-106v2m0 11v17m0 39v2m0 13v2m7-90v2m0 34v2m0 20v13m0 23v13m1-98v6m0 63v8m6-105v3m0 56v2m0 10v3m0 55v3m1-109v2m0 13v3m0 51v3m0 13v2m7-102v12m0 26v11m0 19v2m0 35v2m1-87v3m0 2v4m0 61v8m6-115v2m0 9v2m0 57v2m0 9v2m0 44v5m1-100v2m0 15v2m0 38v16m0 13v2m7-125v3m0 18v2m0 35v3m0 29v2m0 35v2m1-86v9m0 65v2m6-113v3m0 8v2m0 59v10m0 43v3m0 4v4m1-117v15m0 14v2m0 38v1m0 14v3m0 11v2m7-135v3m0 7v2m0 19v1m0 36v2m0 30v2m0 35v2m1-83v6m0 46v8m6-97v9m0 44v10m0 60v2m0 7v1m1-118v2m0 29v2m0 37v1m0 16v13m7-134v1m0 30v1m0 37v1m0 17v14m0 36v3m1-102v9m0 61v2m0 6v3m6-115v8m0 61v2m0 6v3m0 59v3m1-150v2m0 36v2m0 17v13m0 37v2m0 17v2m7-124v2m0 15v14m0 38v2m0 16v2m0 38v14m1-103v2m0 8v2m0 58v3m0 7v2m6-116v3m0 5v3m0 59v3m0 5v3m1-96v2m0 3v4m0 36v2m0 17v3m0 35v14m0 18v1m7-123v2m0 15v2m0 39v13m0 15v2m0 37v2m1-89v2m0 8v2m0 59v4m0 3v4m6-115v3m0 4v2m0 63v7m0 47v1m1-111v13m0 19v2m0 35v2m0 30v2m7-125v4m0 14v2m0 38v2m0 9v6m0 12v2m0 38v2m1-89v4m0 6v2m0 43v3m0 3v5m0 10v3m6-110v6m1-30v2m0 35v1m0 31v2m0 35v1m0 31v1m7-135v3m0 7v8m0 11v2m0 38v2m0 13v15m1-63v3m0 5v4m0 8v6m0 43v2m0 10v2m6-45v7m1-84v1m0 34v2m0 31v2m0 34v2m0 20v5m1-17v3m6-113v1m0 12v15m0 41v2m0 13v2m1-51v2m0 10v3m0 55v2m0 11v1m6-115v6m0 64v7m1-84v1m0 33v2m0 21v12m0 22v4m1-52v5m0 66v2m6-113v2m0 12v3m0 53v2m0 12v2m1-51v3m0 11v2m0 54v2m6-101v6m0 66v3m1-62v4m0 30v3m0 32v2m1-49v6m6-45v2m0 11v2m0 41v9m0 3v5m0 9v2m1-51v4m0 11v2m0 40v1m7-74v1m0 34v2m0 32v1m7-74v2m0 41v2m0 7v5m0 6v3m1-59v3m0 8v9m0 8v2m7 2v2m1-28v2"/>
<path stroke="#b14555" d="m379 1115v8m0 17v2m8-33v3m0 28v2m1-47v2m0 3v3m0 45v6m0 13v4m6-62v2m0 29v2m0 36v1m1-85v10m0 43v10m7-48v2m0 15v4m0 9v3m0 37v2m1-102v7m0 11v6m0 44v3m0 5v4m6-89v3m0 37v2m0 14v15m0 38v2m1-103v11m0 58v3m0 7v3m7-104v6m0 8v2m0 38v2m0 14v4m0 49v3m1-104v3m0 6v3m0 58v2m0 8v3m6-105v16m0 38v2m0 15v2m0 41v3m0 5v4m1-104v2m0 8v3m0 57v2m0 9v2m7-104v4m0 49v3m0 14v2m0 39v15m1-105v3m0 9v2m0 56v3m0 8v3m6-120v2m0 13v3m0 50v4m0 13v2m0 39v3m0 5v9m1-107v3m0 9v3m0 56v4m0 6v3m7-120v2m0 14v2m0 40v15m0 12v2m0 39v2m0 10v2m1-103v3m0 9v2m0 42v9m0 6v6m0 2v4m6-120v3m0 13v2m0 39v18m0 10v2m0 39v2m0 11v1m1-103v4m0 8v2m0 41v4m0 4v6m0 3v11m7-130v7m0 2v5m0 12v2m0 39v2m0 9v10m0 6v3m0 39v2m0 12v1m1-117v10m0 3v6m0 6v3m0 40v3m0 8v4m0 9v2m6-129v17m0 9v3m0 39v2m0 10v17m0 41v2m1-106v3m0 5v21m0 40v2m0 11v3m7-120v3m0 6v13m0 4v4m0 39v3m0 10v4m0 53v2m1-106v2m0 9v5m0 4v8m0 41v3m0 11v2m6-119v2m0 8v18m0 41v2m0 11v3m0 53v3m1-149v2m0 40v2m0 11v4m0 52v3m0 12v2m7-120v2m0 10v3m0 54v3m0 11v2m0 54v2m1-152v5m0 40v2m0 12v3m0 52v3m0 12v2m6-120v2m0 11v2m0 55v2m0 11v2m0 43v5m1-144v3m0 42v2m0 13v2m0 52v4m0 12v2m7-120v2m0 10v3m0 54v4m0 9v2m0 41v8m1-100v3m0 12v2m0 40v17m0 11v2m6-120v3m0 9v3m0 55v5m0 7v2m0 41v4m1-97v4m0 13v2m0 39v2m0 8v8m0 10v2m7-119v3m0 9v2m0 42v9m0 6v12m0 42v2m1-147v1m0 39v16m0 12v2m0 38v3m0 11v10m0 3v4m6-118v4m0 6v3m0 42v11m0 8v7m1-103v2m0 38v3m0 8v7m0 11v2m0 38v2m0 13v16m7-131v7m0 8v11m0 42v3m0 6v4m1-88v1m0 37v2m0 12v8m0 6v3m0 38v2m0 14v4m6-120v9m0 10v5m0 44v3m0 7v3m1-50v2m0 14v15m0 38v2m0 15v3m7-121v4m0 3v5m0 58v2m0 8v3m1-51v2m0 15v13m0 39v3m6-103v2m0 6v3m0 58v3m0 7v3m1-51v2m0 15v4m0 38v13m7-103v3m0 6v3m0 58v3m0 7v2m1-51v2m0 16v2m0 37v15m6-102v3m0 6v2m0 59v5m0 3v3m1-61v12m0 16v2m0 37v2m7-88v3m0 5v3m0 60v9m1-63v14m0 17v2m0 36v2m6-87v10m0 64v3m1-62v3m0 29v2m7-45v6m0 45v7m1-47v2m0 30v2m7-2v2"/>
<path stroke="#d03f3d" d="m378 1127v11m1 4v4m8-34v28m1-37v4m0 37v4m0 6v13m0 4v4m5-42v3m1-30v3m0 33v3m0 30v3m8-67v15m0 4v9m1-64v4m0 7v11m0 6v4m0 37v3m0 12v17m5-62v8m1-49v3m0 30v4m0 31v4m0 18v16m1-29v7m7-103v2m0 6v8m0 42v5m0 4v5m0 56v2m1-109v3m0 12v17m0 36v5m0 13v4m5-116v3m0 63v9m1-52v4m0 19v15m0 19v16m0 19v6m0 3v5m1-98v8m0 62v9m7-116v6m0 1v7m0 56v5m0 4v5m0 56v2m1-111v4m0 14v5m0 35v16m0 14v3m5-119v8m0 63v7m1-85v3m0 18v15m0 20v15m0 19v4m0 31v4m1-87v9m0 63v6m7-115v6m0 2v6m0 57v12m0 43v10m1-118v17m0 14v4m0 34v4m0 9v6m0 12v4m5-118v7m1-20v7m0 18v4m0 31v4m0 30v3m0 33v3m1-85v8m0 47v4m7-96v12m0 43v9m0 10v6m0 44v12m1-120v4m0 10v3m0 15v3m0 34v3m0 15v9m0 2v6m5 7v6m1-152v4m0 29v3m0 33v3m0 29v4m0 32v5m1-101v5m0 63v11m7-114v6m0 13v4m0 46v10m0 59v6m1-152v3m0 34v3m0 16v4m0 8v4m0 33v4m0 16v16m1-26v4m4-39v4m1-82v4m0 28v4m0 33v4m0 16v15m0 23v15m1-102v11m0 59v12m7-116v10m0 60v11m1-89v4m0 32v4m0 17v15m0 22v15m0 17v4m1-85v6m0 65v5m4-108v1m0 68v3m1-82v3m0 15v16m0 24v15m0 15v4m0 34v5m0 5v6m1-103v13m0 58v12m7-116v10m0 61v9m1-97v12m0 20v16m0 17v5m0 31v4m0 30v3m1-84v7m5-60v14m0 15v4m0 34v17m0 14v3m0 35v3m1-89v13m0 43v8m0 8v10m7-114v9m1-31v5m0 30v4m0 30v3m0 32v3m0 31v4m1-81v2m5-61v18m0 13v3m0 35v4m0 11v8m0 7v4m0 35v2m1-101v8m0 7v11m0 42v13m7-44v6m1-83v3m0 31v3m0 31v4m0 30v4m0 20v8m1-91v3m0 65v8m5-117v4m0 9v10m0 5v5m0 36v3m0 13v16m1-64v14m0 55v5m0 5v5m7-114v3m0 65v8m1-52v4m0 30v6m0 17v16m1-64v9m0 61v8m5-117v3m0 11v17m0 37v4m0 13v4m1-53v4m0 7v4m0 55v5m7-105v6m0 64v7m1-83v1m0 17v16m0 20v16m0 17v4m1-52v11m5-49v3m0 11v5m0 37v17m0 11v4m1-53v6m0 6v4m0 41v8m7-93v5m1 5v4m0 33v3m0 29v4m1-50v9m5-45v1m0 10v3m0 38v23m0 3v5m1-64v21m0 3v5m8-35v3m0 34v3m0 17v2m1-51v7m0 12v5m5 7v4m1-37v4m0 4v21"/>
<path stroke="#ef3824" d="m376 1124v20m1-24v32m1-35v10m0 11v20m1-12v15m9-54v37m1-51v83m1-84v84m1-86v87m1-89v90m1-91v46m0 3v42m1-93v21m0 39v30m9-101v1m0 32v37m0 32v5m1-108v108m1-110v110m1-111v112m1-114v114m1-115v47m0 8v60m1-106v30m0 39v18m8-46v4m1-68v22m0 32v36m0 22v20m1-133v133m1-134v134m1-134v134m1-135v135m1-133v63m0 9v61m1-109v19m0 50v19m8-115v1m0 68v4m1-80v32m0 23v35m0 33v20m1-143v143m1-144v144m1-145v145m1-145v145m1-146v7m0 8v63m0 7v61m1-110v20m0 38v31m8-114v2m1-15v25m0 35v34m0 35v16m1-146v146m1-146v146m1-146v146m1-147v147m1-147v13m0 7v127m1-118v31m0 37v33m9-137v34m0 35v34m0 35v16m1-154v154m1-154v154m1-155v155m1-155v154m1-154v146m0 6v2m1-155v1m0 36v33m0 36v32m9-136v34m0 35v33m0 36v11m1-152v115m0 4v32m1-152v152m1-152v152m1-152v151m1-151v81m0 4v66m1-152v4m0 36v33m0 35v23m9-125v32m0 36v22m0 36v17m1-152v50m0 6v65m0 5v26m1-153v152m1-152v152m1-152v151m1-151v19m0 1v68m0 3v60m1-152v10m0 34v24m0 34v34m9-125v20m0 38v31m0 37v10m1-148v54m0 7v86m1-147v147m1-147v146m1-147v147m1-147v147m1-147v2m0 33v34m0 34v35m9-135v30m0 37v32m0 38v3m1-146v62m0 2v82m1-146v145m1-145v144m1-144v144m1-145v144m1-144v4m0 34v35m0 34v35m9-136v31m0 38v30m1-103v44m0 3v65m0 8v14m1-133v133m1-133v132m1-132v131m1-131v131m1-131v2m0 33v36m0 32v27m1-17v5m8-115v30m0 40v17m1-87v39m0 9v61m1-109v116m1-116v116m1-116v115m1-115v114m1-83v37m0 21v24m1-73v7m0 64v2m8-112v17m0 52v17m1-87v39m0 11v57m1-107v106m1-105v104m1-104v103m1-103v102m1-83v37m0 32v13m1-60v6m8-45v15m0 40v29m1-84v38m0 9v44m1-90v88m1-88v87m1-87v86m1-85v84m1-70v38m1-12v3m8-37v7m0 40v17m0 2v2m1-67v14m0 7v12m0 5v27m1-64v62m1-61v57m1-55v52m1-50v46m1-43v36m1-29v4"/>
</g>
<path d="M185.6 927.5L703 913.6V1183L773.1 1275.1L258.9 1287.8L185 1193.5Z" fill="none" stroke="#231f20" stroke-width="2.7" stroke-linejoin="miter"/>
<path d="M174.5 913.8L185.6 927.5M174 1047.2L185.3 1061M174.4 1179.8L185 1193.5M258.9 1287.8L268.3 1302.6M515 1281.6L524.4 1295M773.1 1275.1L784.3 1289.8M203.6 1242.2H224M239 1287.8H259" fill="none" stroke="#231f20" stroke-width="2.5"/>
<text transform="translate(165 917.3) scale(1.08 1)" font-size="33" text-anchor="end">2</text>
<text transform="translate(165 1052.5) scale(1.08 1)" font-size="33" text-anchor="end">0</text>
<text transform="translate(163.5 1183.7) scale(1.08 1)" font-size="33" text-anchor="end">−2</text>
<text transform="translate(92 1062) rotate(-90)" font-size="33" text-anchor="middle" textLength="106" lengthAdjust="spacingAndGlyphs"><tspan class="i">y</tspan> (mm)</text>
<text transform="translate(189.6 1255.4) scale(1.08 1)" font-size="33" text-anchor="end">0</text>
<text transform="translate(224 1301.5) scale(1.08 1)" font-size="33" text-anchor="end">−2</text>
<text transform="translate(306.3 1339.2)" font-size="33" text-anchor="end" textLength="75.6" lengthAdjust="spacingAndGlyphs">−400</text>
<text transform="translate(533.5 1332.3) scale(1.08 1)" font-size="33" text-anchor="middle">0</text>
<text transform="translate(788 1324.8) scale(1.08 1)" font-size="33" text-anchor="middle">400</text>
<text transform="translate(534 1387)" font-size="33" text-anchor="middle" textLength="134" lengthAdjust="spacingAndGlyphs">Time (fs)</text>
<text transform="translate(108 1276.5) rotate(52)" font-size="33" text-anchor="middle" textLength="104" lengthAdjust="spacingAndGlyphs"><tspan class="i">x</tspan> (mm)</text>
<linearGradient id="g4" x1="0" y1="1" x2="0" y2="0">
<stop offset="0.000" stop-color="#2c3080"/>
<stop offset="0.060" stop-color="#344296"/>
<stop offset="0.125" stop-color="#3a54a5"/>
<stop offset="0.200" stop-color="#3c68b4"/>
<stop offset="0.260" stop-color="#3787cd"/>
<stop offset="0.325" stop-color="#34b4e8"/>
<stop offset="0.365" stop-color="#46c0e8"/>
<stop offset="0.420" stop-color="#64c3c8"/>
<stop offset="0.460" stop-color="#80c696"/>
<stop offset="0.500" stop-color="#9acd68"/>
<stop offset="0.540" stop-color="#b4d450"/>
<stop offset="0.580" stop-color="#dee230"/>
<stop offset="0.625" stop-color="#f9ec22"/>
<stop offset="0.670" stop-color="#fdcd1c"/>
<stop offset="0.710" stop-color="#faaa20"/>
<stop offset="0.750" stop-color="#f68c24"/>
<stop offset="0.800" stop-color="#f26428"/>
<stop offset="0.840" stop-color="#ef3e2a"/>
<stop offset="0.875" stop-color="#ec242a"/>
<stop offset="0.920" stop-color="#cd202a"/>
<stop offset="0.960" stop-color="#aa1e28"/>
<stop offset="1.000" stop-color="#8a1b24"/>
</linearGradient>
<rect x="827" y="913.3" width="20.200000000000045" height="362.20000000000005" fill="url(#g4)" stroke="#231f20" stroke-width="2.2"/>
<path d="M828 930.5H846.2" stroke="#fff" stroke-width="2.2"/>
<path d="M828 1094.3H846.2" stroke="#231f20" stroke-width="2.2"/>
<path d="M828 1257.4H846.2" stroke="#fff" stroke-width="2.2"/>
<text transform="translate(855 942) scale(1.08 1)" font-size="33">1</text>
<text transform="translate(854.5 1105.5) scale(1.08 1)" font-size="33">0</text>
<text transform="translate(853 1268.5) scale(1.08 1)" font-size="33">−1</text>
<text transform="translate(946.5 1095) rotate(-90)" font-size="33" text-anchor="middle" textLength="399" lengthAdjust="spacingAndGlyphs">Amplitude (arbitrary units)</text>
<text transform="translate(16 1430.3)" font-size="27.5" textLength="108" lengthAdjust="spacingAndGlyphs">G13719J1</text>
</svg></body></html>
